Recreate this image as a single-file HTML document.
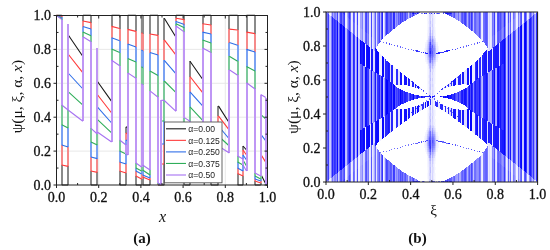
<!DOCTYPE html>
<html><head><meta charset="utf-8"><style>
html,body{margin:0;padding:0;background:#fff;width:550px;height:250px;overflow:hidden}
svg{display:block}
.tk{font-family:"Liberation Serif",serif;font-size:14px;fill:#111;stroke:#111;stroke-width:0.3px}
.it{font-family:"Liberation Serif",serif;font-style:italic;font-size:16px;fill:#111}
.xi{font-family:"Liberation Serif",serif;font-size:15px;fill:#111}
.cap{font-family:"Liberation Serif",serif;font-weight:bold;font-size:15px;fill:#111}
.yl{font-family:"Liberation Serif",serif;font-size:15.5px;fill:#111}
</style></head><body>
<svg width="550" height="250" viewBox="0 0 550 250">
<line x1="98.70" y1="15.5" x2="98.70" y2="185.0" stroke="#e2e2e2" stroke-width="0.8"/>
<line x1="56.5" y1="151.10" x2="267.5" y2="151.10" stroke="#e2e2e2" stroke-width="0.8"/>
<line x1="140.90" y1="15.5" x2="140.90" y2="185.0" stroke="#e2e2e2" stroke-width="0.8"/>
<line x1="56.5" y1="117.20" x2="267.5" y2="117.20" stroke="#e2e2e2" stroke-width="0.8"/>
<line x1="183.10" y1="15.5" x2="183.10" y2="185.0" stroke="#e2e2e2" stroke-width="0.8"/>
<line x1="56.5" y1="83.30" x2="267.5" y2="83.30" stroke="#e2e2e2" stroke-width="0.8"/>
<line x1="225.30" y1="15.5" x2="225.30" y2="185.0" stroke="#e2e2e2" stroke-width="0.8"/>
<line x1="56.5" y1="49.40" x2="267.5" y2="49.40" stroke="#e2e2e2" stroke-width="0.8"/>
<g fill="#8a8a8a" shape-rendering="crispEdges"><rect x="61" y="15.4" width="2" height="169.6"/><rect x="67" y="34.8" width="2" height="150.2"/><rect x="82" y="15.4" width="2" height="41.1"/><rect x="90" y="15.4" width="2" height="169.6"/><rect x="96" y="81.3" width="2" height="103.7"/><rect x="111" y="15.4" width="2" height="86.0"/><rect x="119" y="15.4" width="2" height="169.6"/><rect x="125" y="126.6" width="2" height="58.4"/><rect x="127" y="15.4" width="2" height="112.6"/><rect x="135" y="15.4" width="2" height="169.6"/><rect x="141" y="15.4" width="2" height="169.6"/><rect x="142" y="15.4" width="2" height="169.6"/><rect x="149" y="15.4" width="2" height="169.6"/><rect x="157" y="15.4" width="2" height="169.6"/><rect x="163" y="18.3" width="2" height="166.7"/><rect x="175" y="15.4" width="2" height="21.8"/><rect x="183" y="15.4" width="2" height="169.6"/><rect x="189" y="61.2" width="2" height="123.8"/><rect x="202" y="15.4" width="2" height="63.8"/><rect x="210" y="15.4" width="2" height="169.6"/><rect x="217" y="105.9" width="2" height="79.1"/><rect x="228" y="15.4" width="2" height="107.6"/><rect x="237" y="15.4" width="2" height="169.6"/><rect x="242" y="146.0" width="2" height="39.0"/><rect x="246" y="15.4" width="2" height="134.6"/><rect x="254" y="15.4" width="2" height="169.6"/><rect x="260" y="174.0" width="2" height="11.0"/><rect x="265" y="184.0" width="2" height="1.0"/></g>
<path d="M56.4,15.4 L61.8,15.4 M61.8,185.0 L68.1,185.0 M68.1,34.8 L82.9,56.5 M82.9,15.4 L91.0,15.4 M91.0,185.0 L97.3,185.0 M97.3,81.3 L111.6,101.4 M111.6,15.4 L119.7,15.4 M119.7,185.0 L126.0,185.0 M126.0,126.6 L127.8,128.0 M127.8,15.4 L135.9,15.4 M135.9,185.0 L141.6,185.0 M141.6,15.4 L142.6,15.4 M142.6,185.0 L150.0,185.0 M150.0,15.4 L158.0,15.4 M158.0,185.0 L161.3,185.0 M161.3,185.0 L164.3,185.0 M164.3,18.3 L176.0,37.2 M176.0,15.4 L184.4,15.4 M184.4,185.0 L190.0,185.0 M190.0,61.2 L202.6,79.2 M202.6,15.4 L211.0,15.4 M211.0,185.0 L218.4,185.0 M218.4,105.9 L229.3,123.0 M229.3,15.4 L237.6,15.4 M237.6,185.0 L243.0,185.0 M243.0,146.0 L246.5,150.0 M246.5,15.4 L255.0,15.4 M255.0,185.0 L260.7,185.0 M260.7,174.0 L265.8,184.0 M265.8,185.0 L267.2,185.0" fill="none" stroke="#1a1a1a" stroke-width="1.1"/>
<g fill="#f58a8a" shape-rendering="crispEdges"><rect x="61" y="16.4" width="2" height="148.6"/><rect x="67" y="54.0" width="2" height="112.4"/><rect x="82" y="21.0" width="2" height="51.9"/><rect x="90" y="22.6" width="2" height="148.4"/><rect x="96" y="94.5" width="2" height="77.9"/><rect x="111" y="26.4" width="2" height="86.6"/><rect x="119" y="28.5" width="2" height="142.5"/><rect x="125" y="133.0" width="2" height="40.0"/><rect x="127" y="29.4" width="2" height="104.6"/><rect x="135" y="31.4" width="2" height="144.6"/><rect x="141" y="32.7" width="2" height="146.3"/><rect x="142" y="33.5" width="2" height="143.5"/><rect x="149" y="34.0" width="2" height="146.0"/><rect x="157" y="35.4" width="2" height="149.1"/><rect x="160" y="164.0" width="2" height="20.9"/><rect x="163" y="39.9" width="2" height="124.1"/><rect x="175" y="18.3" width="2" height="36.9"/><rect x="183" y="19.6" width="2" height="148.6"/><rect x="189" y="76.5" width="2" height="92.6"/><rect x="202" y="23.7" width="2" height="69.0"/><rect x="210" y="25.0" width="2" height="148.8"/><rect x="217" y="115.8" width="2" height="59.5"/><rect x="228" y="29.1" width="2" height="101.1"/><rect x="237" y="30.0" width="2" height="143.6"/><rect x="242" y="150.0" width="2" height="26.0"/><rect x="246" y="32.1" width="2" height="122.9"/><rect x="254" y="33.6" width="2" height="147.4"/><rect x="260" y="154.1" width="2" height="28.9"/><rect x="265" y="162.4" width="2" height="22.4"/></g>
<path d="M56.4,15.4 L61.8,16.4 M61.8,165.0 L68.1,166.4 M68.1,54.0 L82.9,72.9 M82.9,21.0 L91.0,22.6 M91.0,171.0 L97.3,172.4 M97.3,94.5 L111.6,113.0 M111.6,26.4 L119.7,28.5 M119.7,171.0 L126.0,173.0 M126.0,133.0 L127.8,134.0 M127.8,29.4 L135.9,31.4 M135.9,176.0 L141.6,179.0 M141.6,32.7 L142.6,33.5 M142.6,177.0 L150.0,180.0 M150.0,34.0 L158.0,35.4 M158.0,184.5 L161.3,184.9 M161.3,164.0 L164.3,164.0 M164.3,39.9 L176.0,55.2 M176.0,18.3 L184.4,19.6 M184.4,168.2 L190.0,169.1 M190.0,76.5 L202.6,92.7 M202.6,23.7 L211.0,25.0 M211.0,173.8 L218.4,175.2 M218.4,115.8 L229.3,130.2 M229.3,29.1 L237.6,30.0 M237.6,173.6 L243.0,176.0 M243.0,150.0 L246.5,155.0 M246.5,32.1 L255.0,33.6 M255.0,181.0 L260.7,183.0 M260.7,154.1 L265.8,162.4 M265.8,184.8 L267.2,184.8" fill="none" stroke="#ff3b3b" stroke-width="1.1"/>
<g fill="#7ba2f2" shape-rendering="crispEdges"><rect x="61" y="17.4" width="2" height="127.5"/><rect x="67" y="73.0" width="2" height="74.0"/><rect x="82" y="26.5" width="2" height="62.5"/><rect x="90" y="29.0" width="2" height="128.0"/><rect x="96" y="106.8" width="2" height="51.8"/><rect x="111" y="37.7" width="2" height="85.3"/><rect x="119" y="40.8" width="2" height="121.2"/><rect x="125" y="140.0" width="2" height="24.0"/><rect x="127" y="44.0" width="2" height="97.0"/><rect x="135" y="47.0" width="2" height="124.0"/><rect x="141" y="49.8" width="2" height="124.2"/><rect x="142" y="51.0" width="2" height="124.0"/><rect x="149" y="52.5" width="2" height="125.5"/><rect x="157" y="55.0" width="2" height="129.0"/><rect x="160" y="144.0" width="2" height="40.8"/><rect x="163" y="60.3" width="2" height="83.7"/><rect x="175" y="21.4" width="2" height="52.4"/><rect x="183" y="24.6" width="2" height="126.7"/><rect x="189" y="91.8" width="2" height="61.3"/><rect x="202" y="32.1" width="2" height="73.8"/><rect x="210" y="34.0" width="2" height="128.5"/><rect x="217" y="126.0" width="2" height="39.5"/><rect x="228" y="42.6" width="2" height="96.4"/><rect x="237" y="45.3" width="2" height="122.7"/><rect x="242" y="155.0" width="2" height="16.0"/><rect x="246" y="49.4" width="2" height="110.6"/><rect x="254" y="52.0" width="2" height="127.0"/><rect x="260" y="134.2" width="2" height="46.8"/><rect x="265" y="140.8" width="2" height="43.8"/></g>
<path d="M56.4,15.4 L61.8,17.4 M61.8,145.0 L68.1,147.0 M68.1,73.0 L82.9,89.0 M82.9,26.5 L91.0,29.0 M91.0,157.0 L97.3,158.6 M97.3,106.8 L111.6,123.0 M111.6,37.7 L119.7,40.8 M119.7,162.0 L126.0,164.0 M126.0,140.0 L127.8,141.0 M127.8,44.0 L135.9,47.0 M135.9,171.0 L141.6,174.0 M141.6,49.8 L142.6,51.0 M142.6,175.0 L150.0,178.0 M150.0,52.5 L158.0,55.0 M158.0,184.0 L161.3,184.8 M161.3,144.0 L164.3,144.0 M164.3,60.3 L176.0,73.8 M176.0,21.4 L184.4,24.6 M184.4,151.3 L190.0,153.1 M190.0,91.8 L202.6,105.9 M202.6,32.1 L211.0,34.0 M211.0,162.5 L218.4,165.5 M218.4,126.0 L229.3,139.0 M229.3,42.6 L237.6,45.3 M237.6,168.0 L243.0,171.0 M243.0,155.0 L246.5,160.0 M246.5,49.4 L255.0,52.0 M255.0,179.0 L260.7,181.0 M260.7,134.2 L265.8,140.8 M265.8,184.5 L267.2,184.5" fill="none" stroke="#2f6fe8" stroke-width="1.1"/>
<g fill="#7cc99a" shape-rendering="crispEdges"><rect x="61" y="18.5" width="2" height="106.3"/><rect x="67" y="91.6" width="2" height="36.4"/><rect x="82" y="32.0" width="2" height="73.2"/><rect x="90" y="35.8" width="2" height="106.2"/><rect x="96" y="119.4" width="2" height="25.6"/><rect x="111" y="48.9" width="2" height="84.0"/><rect x="119" y="52.5" width="2" height="98.5"/><rect x="125" y="147.0" width="2" height="7.0"/><rect x="127" y="58.5" width="2" height="89.5"/><rect x="135" y="62.0" width="2" height="106.0"/><rect x="141" y="66.6" width="2" height="104.4"/><rect x="142" y="68.0" width="2" height="102.0"/><rect x="149" y="71.0" width="2" height="104.0"/><rect x="157" y="75.6" width="2" height="107.9"/><rect x="160" y="121.0" width="2" height="63.6"/><rect x="163" y="81.0" width="2" height="40.0"/><rect x="175" y="23.7" width="2" height="69.0"/><rect x="183" y="27.8" width="2" height="106.6"/><rect x="189" y="106.8" width="2" height="30.4"/><rect x="202" y="39.9" width="2" height="80.4"/><rect x="210" y="43.0" width="2" height="108.2"/><rect x="217" y="136.0" width="2" height="19.8"/><rect x="228" y="56.2" width="2" height="89.8"/><rect x="237" y="61.2" width="2" height="100.8"/><rect x="242" y="160.0" width="2" height="5.0"/><rect x="246" y="66.6" width="2" height="99.4"/><rect x="254" y="71.0" width="2" height="105.0"/><rect x="260" y="114.4" width="2" height="64.6"/><rect x="265" y="119.1" width="2" height="65.1"/></g>
<path d="M56.4,15.4 L61.8,18.5 M61.8,124.8 L68.1,128.0 M68.1,91.6 L82.9,105.2 M82.9,32.0 L91.0,35.8 M91.0,142.0 L97.3,145.0 M97.3,119.4 L111.6,132.9 M111.6,48.9 L119.7,52.5 M119.7,151.0 L126.0,154.0 M126.0,147.0 L127.8,148.0 M127.8,58.5 L135.9,62.0 M135.9,168.0 L141.6,171.0 M141.6,66.6 L142.6,68.0 M142.6,170.0 L150.0,175.0 M150.0,71.0 L158.0,75.6 M158.0,183.5 L161.3,184.6 M161.3,121.0 L164.3,121.0 M164.3,81.0 L176.0,92.7 M176.0,23.7 L184.4,27.8 M184.4,134.4 L190.0,137.2 M190.0,106.8 L202.6,120.3 M202.6,39.9 L211.0,43.0 M211.0,151.2 L218.4,155.8 M218.4,136.0 L229.3,146.0 M229.3,56.2 L237.6,61.2 M237.6,162.0 L243.0,165.0 M243.0,160.0 L246.5,166.0 M246.5,66.6 L255.0,71.0 M255.0,176.0 L260.7,179.0 M260.7,114.4 L265.8,119.1 M265.8,184.2 L267.2,184.2" fill="none" stroke="#2fae5a" stroke-width="1.1"/>
<g fill="#bf96f5" shape-rendering="crispEdges"><rect x="61" y="19.5" width="2" height="85.5"/><rect x="82" y="36.7" width="2" height="84.5"/><rect x="90" y="41.8" width="2" height="86.6"/><rect x="96" y="132.0" width="2" height="2.0"/><rect x="111" y="60.3" width="2" height="81.7"/><rect x="119" y="65.7" width="2" height="74.3"/><rect x="125" y="145.0" width="2" height="9.0"/><rect x="127" y="72.9" width="2" height="82.1"/><rect x="135" y="78.3" width="2" height="84.7"/><rect x="141" y="83.7" width="2" height="83.3"/><rect x="142" y="85.0" width="2" height="80.0"/><rect x="149" y="90.9" width="2" height="79.1"/><rect x="157" y="97.2" width="2" height="85.8"/><rect x="160" y="100.2" width="2" height="84.3"/><rect x="175" y="26.0" width="2" height="85.3"/><rect x="183" y="32.1" width="2" height="85.5"/><rect x="189" y="121.2" width="2" height="0.8"/><rect x="202" y="48.0" width="2" height="87.0"/><rect x="210" y="52.5" width="2" height="87.5"/><rect x="228" y="69.8" width="2" height="83.2"/><rect x="237" y="75.2" width="2" height="80.8"/><rect x="242" y="159.0" width="2" height="6.0"/><rect x="246" y="82.8" width="2" height="88.2"/><rect x="254" y="89.0" width="2" height="84.0"/><rect x="260" y="94.5" width="2" height="81.5"/><rect x="265" y="97.5" width="2" height="86.5"/><rect x="67" y="24.2" width="2" height="85.8"/><rect x="96" y="48.0" width="2" height="84.0"/></g>
<path d="M56.4,15.4 L61.8,19.5 M61.8,105.0 L68.1,110.0 M68.1,110.0 L82.9,121.2 M82.9,36.7 L91.0,41.8 M91.0,128.4 L97.3,134.0 M97.3,132.0 L111.6,142.0 M111.6,60.3 L119.7,65.7 M119.7,140.0 L126.0,145.0 M126.0,154.0 L127.8,155.0 M127.8,72.9 L135.9,78.3 M135.9,163.0 L141.6,167.0 M141.6,83.7 L142.6,85.0 M142.6,165.0 L150.0,170.0 M150.0,90.9 L158.0,97.2 M158.0,183.0 L161.3,184.5 M161.3,100.2 L164.3,100.4 M164.3,100.5 L176.0,111.3 M176.0,26.0 L184.4,32.1 M184.4,117.6 L190.0,121.2 M190.0,122.0 L202.6,135.0 M202.6,48.0 L211.0,52.5 M211.0,140.0 L218.4,146.0 M218.4,146.0 L229.3,153.0 M229.3,69.8 L237.6,75.2 M237.6,156.0 L243.0,159.0 M243.0,165.0 L246.5,171.0 M246.5,82.8 L255.0,89.0 M255.0,173.0 L260.7,176.0 M260.7,94.5 L265.8,97.5 M265.8,184.0 L267.2,184.0" fill="none" stroke="#a772f2" stroke-width="1.1"/>
<rect x="164.5" y="122" width="57.5" height="60.8" fill="#fff" stroke="#555" stroke-width="0.9"/>
<line x1="166" y1="128.80" x2="186" y2="128.80" stroke="#1a1a1a" stroke-width="1.1"/>
<text x="188.3" y="132.00" font-family="Liberation Sans, sans-serif" font-size="8.6" fill="#222">α=0.00</text>
<line x1="166" y1="140.35" x2="186" y2="140.35" stroke="#ff3b3b" stroke-width="1.1"/>
<text x="188.3" y="143.55" font-family="Liberation Sans, sans-serif" font-size="8.6" fill="#222">α=0.125</text>
<line x1="166" y1="151.90" x2="186" y2="151.90" stroke="#2f6fe8" stroke-width="1.1"/>
<text x="188.3" y="155.10" font-family="Liberation Sans, sans-serif" font-size="8.6" fill="#222">α=0.250</text>
<line x1="166" y1="163.45" x2="186" y2="163.45" stroke="#2fae5a" stroke-width="1.1"/>
<text x="188.3" y="166.65" font-family="Liberation Sans, sans-serif" font-size="8.6" fill="#222">α=0.375</text>
<line x1="166" y1="175.00" x2="186" y2="175.00" stroke="#a772f2" stroke-width="1.1"/>
<text x="188.3" y="178.20" font-family="Liberation Sans, sans-serif" font-size="8.6" fill="#222">α=0.50</text>
<rect x="56.5" y="15.5" width="211.0" height="169.5" fill="none" stroke="#222" stroke-width="1"/>
<line x1="56.50" y1="185.0" x2="56.50" y2="188.0" stroke="#222" stroke-width="1"/>
<line x1="53.5" y1="185.00" x2="56.5" y2="185.00" stroke="#222" stroke-width="1"/>
<line x1="56.50" y1="15.5" x2="56.50" y2="18.5" stroke="#222" stroke-width="1"/>
<line x1="264.5" y1="185.00" x2="267.5" y2="185.00" stroke="#222" stroke-width="1"/>
<line x1="77.60" y1="185.0" x2="77.60" y2="183.0" stroke="#222" stroke-width="1"/>
<line x1="56.5" y1="168.05" x2="58.5" y2="168.05" stroke="#222" stroke-width="1"/>
<line x1="77.60" y1="15.5" x2="77.60" y2="17.5" stroke="#222" stroke-width="1"/>
<line x1="265.5" y1="168.05" x2="267.5" y2="168.05" stroke="#222" stroke-width="1"/>
<line x1="98.70" y1="185.0" x2="98.70" y2="188.0" stroke="#222" stroke-width="1"/>
<line x1="53.5" y1="151.10" x2="56.5" y2="151.10" stroke="#222" stroke-width="1"/>
<line x1="98.70" y1="15.5" x2="98.70" y2="18.5" stroke="#222" stroke-width="1"/>
<line x1="264.5" y1="151.10" x2="267.5" y2="151.10" stroke="#222" stroke-width="1"/>
<line x1="119.80" y1="185.0" x2="119.80" y2="183.0" stroke="#222" stroke-width="1"/>
<line x1="56.5" y1="134.15" x2="58.5" y2="134.15" stroke="#222" stroke-width="1"/>
<line x1="119.80" y1="15.5" x2="119.80" y2="17.5" stroke="#222" stroke-width="1"/>
<line x1="265.5" y1="134.15" x2="267.5" y2="134.15" stroke="#222" stroke-width="1"/>
<line x1="140.90" y1="185.0" x2="140.90" y2="188.0" stroke="#222" stroke-width="1"/>
<line x1="53.5" y1="117.20" x2="56.5" y2="117.20" stroke="#222" stroke-width="1"/>
<line x1="140.90" y1="15.5" x2="140.90" y2="18.5" stroke="#222" stroke-width="1"/>
<line x1="264.5" y1="117.20" x2="267.5" y2="117.20" stroke="#222" stroke-width="1"/>
<line x1="162.00" y1="185.0" x2="162.00" y2="183.0" stroke="#222" stroke-width="1"/>
<line x1="56.5" y1="100.25" x2="58.5" y2="100.25" stroke="#222" stroke-width="1"/>
<line x1="162.00" y1="15.5" x2="162.00" y2="17.5" stroke="#222" stroke-width="1"/>
<line x1="265.5" y1="100.25" x2="267.5" y2="100.25" stroke="#222" stroke-width="1"/>
<line x1="183.10" y1="185.0" x2="183.10" y2="188.0" stroke="#222" stroke-width="1"/>
<line x1="53.5" y1="83.30" x2="56.5" y2="83.30" stroke="#222" stroke-width="1"/>
<line x1="183.10" y1="15.5" x2="183.10" y2="18.5" stroke="#222" stroke-width="1"/>
<line x1="264.5" y1="83.30" x2="267.5" y2="83.30" stroke="#222" stroke-width="1"/>
<line x1="204.20" y1="185.0" x2="204.20" y2="183.0" stroke="#222" stroke-width="1"/>
<line x1="56.5" y1="66.35" x2="58.5" y2="66.35" stroke="#222" stroke-width="1"/>
<line x1="204.20" y1="15.5" x2="204.20" y2="17.5" stroke="#222" stroke-width="1"/>
<line x1="265.5" y1="66.35" x2="267.5" y2="66.35" stroke="#222" stroke-width="1"/>
<line x1="225.30" y1="185.0" x2="225.30" y2="188.0" stroke="#222" stroke-width="1"/>
<line x1="53.5" y1="49.40" x2="56.5" y2="49.40" stroke="#222" stroke-width="1"/>
<line x1="225.30" y1="15.5" x2="225.30" y2="18.5" stroke="#222" stroke-width="1"/>
<line x1="264.5" y1="49.40" x2="267.5" y2="49.40" stroke="#222" stroke-width="1"/>
<line x1="246.40" y1="185.0" x2="246.40" y2="183.0" stroke="#222" stroke-width="1"/>
<line x1="56.5" y1="32.45" x2="58.5" y2="32.45" stroke="#222" stroke-width="1"/>
<line x1="246.40" y1="15.5" x2="246.40" y2="17.5" stroke="#222" stroke-width="1"/>
<line x1="265.5" y1="32.45" x2="267.5" y2="32.45" stroke="#222" stroke-width="1"/>
<line x1="267.50" y1="185.0" x2="267.50" y2="188.0" stroke="#222" stroke-width="1"/>
<line x1="53.5" y1="15.50" x2="56.5" y2="15.50" stroke="#222" stroke-width="1"/>
<line x1="267.50" y1="15.5" x2="267.50" y2="18.5" stroke="#222" stroke-width="1"/>
<line x1="264.5" y1="15.50" x2="267.5" y2="15.50" stroke="#222" stroke-width="1"/>
<text x="56.50" y="202" text-anchor="middle" class="tk">0.0</text>
<text x="51" y="189.80" text-anchor="end" class="tk">0.0</text>
<text x="98.70" y="202" text-anchor="middle" class="tk">0.2</text>
<text x="51" y="155.90" text-anchor="end" class="tk">0.2</text>
<text x="140.90" y="202" text-anchor="middle" class="tk">0.4</text>
<text x="51" y="122.00" text-anchor="end" class="tk">0.4</text>
<text x="183.10" y="202" text-anchor="middle" class="tk">0.6</text>
<text x="51" y="88.10" text-anchor="end" class="tk">0.6</text>
<text x="225.30" y="202" text-anchor="middle" class="tk">0.8</text>
<text x="51" y="54.20" text-anchor="end" class="tk">0.8</text>
<text x="267.50" y="202" text-anchor="middle" class="tk">1.0</text>
<text x="51" y="20.30" text-anchor="end" class="tk">1.0</text>
<text x="162.5" y="221.5" text-anchor="middle" class="it">x</text>
<text x="142" y="243" text-anchor="middle" class="cap">(a)</text>
<text transform="translate(22,96.6) rotate(-90)" text-anchor="middle" class="yl">ψ(μ, ξ, α, <tspan font-style="italic">x</tspan>)</text>
<g fill="#0000ff" shape-rendering="crispEdges"><rect x="326.0" y="12.00" width="1" height="0.40" fill-opacity="0.31"/><rect x="326.0" y="12.40" width="1" height="84.60" fill-opacity="0.64"/><rect x="326.0" y="181.60" width="1" height="0.40" fill-opacity="0.28"/><rect x="326.0" y="97.00" width="1" height="84.60" fill-opacity="0.64"/><rect x="327.0" y="12.00" width="1" height="1.21" fill-opacity="0.26"/><rect x="327.0" y="13.21" width="1" height="83.79" fill-opacity="0.58"/><rect x="327.0" y="180.79" width="1" height="1.21" fill-opacity="0.23"/><rect x="327.0" y="97.00" width="1" height="83.79" fill-opacity="0.58"/><rect x="328.0" y="12.00" width="1" height="2.01" fill-opacity="0.51"/><rect x="328.0" y="14.01" width="1" height="82.99" fill-opacity="0.76"/><rect x="328.0" y="179.99" width="1" height="2.01" fill-opacity="0.47"/><rect x="328.0" y="97.00" width="1" height="82.99" fill-opacity="0.76"/><rect x="329.0" y="12.00" width="1" height="2.81" fill-opacity="0.05"/><rect x="329.0" y="14.81" width="1" height="82.19" fill-opacity="0.25"/><rect x="329.0" y="179.19" width="1" height="2.81" fill-opacity="0.05"/><rect x="329.0" y="97.00" width="1" height="82.19" fill-opacity="0.25"/><rect x="330.0" y="12.00" width="1" height="3.62" fill-opacity="0.04"/><rect x="330.0" y="15.62" width="1" height="81.38" fill-opacity="0.20"/><rect x="330.0" y="178.38" width="1" height="3.62" fill-opacity="0.04"/><rect x="330.0" y="97.00" width="1" height="81.38" fill-opacity="0.20"/><rect x="331.0" y="12.00" width="1" height="4.42" fill-opacity="0.25"/><rect x="331.0" y="16.42" width="1" height="80.58" fill-opacity="0.51"/><rect x="331.0" y="177.58" width="1" height="4.42" fill-opacity="0.23"/><rect x="331.0" y="97.00" width="1" height="80.58" fill-opacity="0.51"/><rect x="332.0" y="12.00" width="1" height="5.22" fill-opacity="0.56"/><rect x="332.0" y="17.22" width="1" height="79.78" fill-opacity="0.86"/><rect x="332.0" y="176.78" width="1" height="5.22" fill-opacity="0.52"/><rect x="332.0" y="97.00" width="1" height="79.78" fill-opacity="0.86"/><rect x="333.0" y="12.00" width="1" height="6.03" fill-opacity="0.34"/><rect x="333.0" y="18.03" width="1" height="78.97" fill-opacity="0.68"/><rect x="333.0" y="175.97" width="1" height="6.03" fill-opacity="0.31"/><rect x="333.0" y="97.00" width="1" height="78.97" fill-opacity="0.68"/><rect x="334.0" y="12.00" width="1" height="6.83" fill-opacity="0.51"/><rect x="334.0" y="18.83" width="1" height="78.17" fill-opacity="0.82"/><rect x="334.0" y="175.17" width="1" height="6.83" fill-opacity="0.47"/><rect x="334.0" y="97.00" width="1" height="78.17" fill-opacity="0.82"/><rect x="335.0" y="12.00" width="1" height="7.63" fill-opacity="0.51"/><rect x="335.0" y="19.63" width="1" height="77.37" fill-opacity="0.77"/><rect x="335.0" y="174.37" width="1" height="7.63" fill-opacity="0.47"/><rect x="335.0" y="97.00" width="1" height="77.37" fill-opacity="0.77"/><rect x="336.0" y="12.00" width="1" height="8.44" fill-opacity="0.38"/><rect x="336.0" y="20.44" width="1" height="76.56" fill-opacity="0.64"/><rect x="336.0" y="173.56" width="1" height="8.44" fill-opacity="0.35"/><rect x="336.0" y="97.00" width="1" height="76.56" fill-opacity="0.64"/><rect x="337.0" y="12.00" width="1" height="9.24" fill-opacity="0.74"/><rect x="337.0" y="21.24" width="1" height="75.76" fill-opacity="0.97"/><rect x="337.0" y="172.76" width="1" height="9.24" fill-opacity="0.68"/><rect x="337.0" y="97.00" width="1" height="75.76" fill-opacity="0.97"/><rect x="338.0" y="12.00" width="1" height="10.04" fill-opacity="0.17"/><rect x="338.0" y="22.04" width="1" height="74.96" fill-opacity="0.41"/><rect x="338.0" y="171.96" width="1" height="10.04" fill-opacity="0.15"/><rect x="338.0" y="97.00" width="1" height="74.96" fill-opacity="0.41"/><rect x="339.0" y="12.00" width="1" height="10.85" fill-opacity="0.38"/><rect x="339.0" y="22.85" width="1" height="74.15" fill-opacity="0.65"/><rect x="339.0" y="171.15" width="1" height="10.85" fill-opacity="0.35"/><rect x="339.0" y="97.00" width="1" height="74.15" fill-opacity="0.65"/><rect x="340.0" y="12.00" width="1" height="11.65" fill-opacity="0.72"/><rect x="340.0" y="23.65" width="1" height="73.35" fill-opacity="1.00"/><rect x="340.0" y="170.35" width="1" height="11.65" fill-opacity="0.66"/><rect x="340.0" y="97.00" width="1" height="73.35" fill-opacity="1.00"/><rect x="341.0" y="12.00" width="1" height="0.45" fill-opacity="0.81"/><rect x="341.0" y="12.45" width="1" height="12.00" fill-opacity="0.75"/><rect x="341.0" y="24.45" width="1" height="72.55" fill-opacity="0.98"/><rect x="341.0" y="181.55" width="1" height="0.45" fill-opacity="0.75"/><rect x="341.0" y="169.55" width="1" height="12.00" fill-opacity="0.69"/><rect x="341.0" y="97.00" width="1" height="72.55" fill-opacity="0.98"/><rect x="342.0" y="12.00" width="1" height="1.26" fill-opacity="0.58"/><rect x="342.0" y="13.26" width="1" height="12.00" fill-opacity="0.53"/><rect x="342.0" y="25.26" width="1" height="71.74" fill-opacity="0.80"/><rect x="342.0" y="180.74" width="1" height="1.26" fill-opacity="0.53"/><rect x="342.0" y="168.74" width="1" height="12.00" fill-opacity="0.49"/><rect x="342.0" y="97.00" width="1" height="71.74" fill-opacity="0.80"/><rect x="343.0" y="12.00" width="1" height="2.06" fill-opacity="0.74"/><rect x="343.0" y="14.06" width="1" height="12.00" fill-opacity="0.68"/><rect x="343.0" y="26.06" width="1" height="70.94" fill-opacity="0.98"/><rect x="343.0" y="179.94" width="1" height="2.06" fill-opacity="0.68"/><rect x="343.0" y="167.94" width="1" height="12.00" fill-opacity="0.62"/><rect x="343.0" y="97.00" width="1" height="70.94" fill-opacity="0.98"/><rect x="344.0" y="12.00" width="1" height="2.86" fill-opacity="0.83"/><rect x="344.0" y="14.86" width="1" height="12.00" fill-opacity="0.77"/><rect x="344.0" y="26.86" width="1" height="70.14" fill-opacity="0.97"/><rect x="344.0" y="179.14" width="1" height="2.86" fill-opacity="0.77"/><rect x="344.0" y="167.14" width="1" height="12.00" fill-opacity="0.70"/><rect x="344.0" y="97.00" width="1" height="70.14" fill-opacity="0.97"/><rect x="345.0" y="12.00" width="1" height="3.67" fill-opacity="0.08"/><rect x="345.0" y="15.67" width="1" height="12.00" fill-opacity="0.07"/><rect x="345.0" y="27.67" width="1" height="69.33" fill-opacity="0.27"/><rect x="345.0" y="178.33" width="1" height="3.67" fill-opacity="0.07"/><rect x="345.0" y="166.33" width="1" height="12.00" fill-opacity="0.07"/><rect x="345.0" y="97.00" width="1" height="69.33" fill-opacity="0.27"/><rect x="346.0" y="12.00" width="1" height="4.47" fill-opacity="0.05"/><rect x="346.0" y="16.47" width="1" height="12.00" fill-opacity="0.05"/><rect x="346.0" y="28.47" width="1" height="68.53" fill-opacity="0.24"/><rect x="346.0" y="177.53" width="1" height="4.47" fill-opacity="0.05"/><rect x="346.0" y="165.53" width="1" height="12.00" fill-opacity="0.04"/><rect x="346.0" y="97.00" width="1" height="68.53" fill-opacity="0.24"/><rect x="347.0" y="12.00" width="1" height="5.27" fill-opacity="0.36"/><rect x="347.0" y="17.27" width="1" height="12.00" fill-opacity="0.33"/><rect x="347.0" y="29.27" width="1" height="67.73" fill-opacity="0.61"/><rect x="347.0" y="176.73" width="1" height="5.27" fill-opacity="0.33"/><rect x="347.0" y="164.73" width="1" height="12.00" fill-opacity="0.30"/><rect x="347.0" y="97.00" width="1" height="67.73" fill-opacity="0.61"/><rect x="348.0" y="12.00" width="1" height="6.08" fill-opacity="0.58"/><rect x="348.0" y="18.08" width="1" height="12.00" fill-opacity="0.53"/><rect x="348.0" y="30.08" width="1" height="66.92" fill-opacity="0.77"/><rect x="348.0" y="175.92" width="1" height="6.08" fill-opacity="0.53"/><rect x="348.0" y="163.92" width="1" height="12.00" fill-opacity="0.49"/><rect x="348.0" y="97.00" width="1" height="66.92" fill-opacity="0.77"/><rect x="349.0" y="12.00" width="1" height="6.88" fill-opacity="0.78"/><rect x="349.0" y="18.88" width="1" height="12.00" fill-opacity="0.72"/><rect x="349.0" y="30.88" width="1" height="66.12" fill-opacity="0.93"/><rect x="349.0" y="175.12" width="1" height="6.88" fill-opacity="0.72"/><rect x="349.0" y="163.12" width="1" height="12.00" fill-opacity="0.66"/><rect x="349.0" y="97.00" width="1" height="66.12" fill-opacity="0.93"/><rect x="350.0" y="12.00" width="1" height="7.68" fill-opacity="0.59"/><rect x="350.0" y="19.68" width="1" height="12.00" fill-opacity="0.55"/><rect x="350.0" y="31.68" width="1" height="65.32" fill-opacity="0.84"/><rect x="350.0" y="174.32" width="1" height="7.68" fill-opacity="0.55"/><rect x="350.0" y="162.32" width="1" height="12.00" fill-opacity="0.50"/><rect x="350.0" y="97.00" width="1" height="65.32" fill-opacity="0.84"/><rect x="351.0" y="12.00" width="1" height="8.49" fill-opacity="0.07"/><rect x="351.0" y="20.49" width="1" height="12.00" fill-opacity="0.06"/><rect x="351.0" y="32.49" width="1" height="64.51" fill-opacity="0.29"/><rect x="351.0" y="173.51" width="1" height="8.49" fill-opacity="0.06"/><rect x="351.0" y="161.51" width="1" height="12.00" fill-opacity="0.06"/><rect x="351.0" y="97.00" width="1" height="64.51" fill-opacity="0.29"/><rect x="352.0" y="12.00" width="1" height="9.29" fill-opacity="0.10"/><rect x="352.0" y="21.29" width="1" height="12.00" fill-opacity="0.09"/><rect x="352.0" y="33.29" width="1" height="63.71" fill-opacity="0.31"/><rect x="352.0" y="172.71" width="1" height="9.29" fill-opacity="0.09"/><rect x="352.0" y="160.71" width="1" height="12.00" fill-opacity="0.09"/><rect x="352.0" y="97.00" width="1" height="63.71" fill-opacity="0.31"/><rect x="353.0" y="12.00" width="1" height="10.09" fill-opacity="0.66"/><rect x="353.0" y="22.09" width="1" height="12.00" fill-opacity="0.61"/><rect x="353.0" y="34.09" width="1" height="62.91" fill-opacity="0.84"/><rect x="353.0" y="171.91" width="1" height="10.09" fill-opacity="0.61"/><rect x="353.0" y="159.91" width="1" height="12.00" fill-opacity="0.56"/><rect x="353.0" y="97.00" width="1" height="62.91" fill-opacity="0.84"/><rect x="354.0" y="12.00" width="1" height="10.90" fill-opacity="0.58"/><rect x="354.0" y="22.90" width="1" height="12.00" fill-opacity="0.53"/><rect x="354.0" y="34.90" width="1" height="62.10" fill-opacity="0.77"/><rect x="354.0" y="171.10" width="1" height="10.90" fill-opacity="0.53"/><rect x="354.0" y="159.10" width="1" height="12.00" fill-opacity="0.49"/><rect x="354.0" y="97.00" width="1" height="62.10" fill-opacity="0.77"/><rect x="355.0" y="12.00" width="1" height="11.70" fill-opacity="0.05"/><rect x="355.0" y="23.70" width="1" height="12.00" fill-opacity="0.05"/><rect x="355.0" y="35.70" width="1" height="61.30" fill-opacity="0.21"/><rect x="355.0" y="170.30" width="1" height="11.70" fill-opacity="0.05"/><rect x="355.0" y="158.30" width="1" height="12.00" fill-opacity="0.05"/><rect x="355.0" y="97.00" width="1" height="61.30" fill-opacity="0.21"/><rect x="356.0" y="12.00" width="1" height="12.50" fill-opacity="0.17"/><rect x="356.0" y="24.50" width="1" height="12.00" fill-opacity="0.16"/><rect x="356.0" y="36.50" width="1" height="60.50" fill-opacity="0.41"/><rect x="356.0" y="169.50" width="1" height="12.50" fill-opacity="0.16"/><rect x="356.0" y="157.50" width="1" height="12.00" fill-opacity="0.15"/><rect x="356.0" y="97.00" width="1" height="60.50" fill-opacity="0.41"/><rect x="357.0" y="12.00" width="1" height="13.31" fill-opacity="0.75"/><rect x="357.0" y="25.31" width="1" height="12.00" fill-opacity="0.69"/><rect x="357.0" y="37.31" width="1" height="59.69" fill-opacity="0.98"/><rect x="357.0" y="168.69" width="1" height="13.31" fill-opacity="0.69"/><rect x="357.0" y="156.69" width="1" height="12.00" fill-opacity="0.64"/><rect x="357.0" y="97.00" width="1" height="59.69" fill-opacity="0.98"/><rect x="358.0" y="12.00" width="1" height="14.11" fill-opacity="0.06"/><rect x="358.0" y="26.11" width="1" height="12.00" fill-opacity="0.05"/><rect x="358.0" y="38.11" width="1" height="58.89" fill-opacity="0.22"/><rect x="358.0" y="167.89" width="1" height="14.11" fill-opacity="0.05"/><rect x="358.0" y="155.89" width="1" height="12.00" fill-opacity="0.05"/><rect x="358.0" y="97.00" width="1" height="58.89" fill-opacity="0.22"/><rect x="359.0" y="12.00" width="1" height="14.91" fill-opacity="0.05"/><rect x="359.0" y="26.91" width="1" height="12.00" fill-opacity="0.05"/><rect x="359.0" y="38.91" width="1" height="58.09" fill-opacity="0.23"/><rect x="359.0" y="167.09" width="1" height="14.91" fill-opacity="0.05"/><rect x="359.0" y="155.09" width="1" height="12.00" fill-opacity="0.04"/><rect x="359.0" y="97.00" width="1" height="58.09" fill-opacity="0.23"/><rect x="360.0" y="12.00" width="1" height="15.72" fill-opacity="0.36"/><rect x="360.0" y="27.72" width="1" height="12.00" fill-opacity="0.33"/><rect x="360.0" y="39.72" width="1" height="24.07" fill-opacity="0.96"/><rect x="360.0" y="63.79" width="1" height="33.21" fill-opacity="0.59"/><rect x="360.0" y="166.28" width="1" height="15.72" fill-opacity="0.33"/><rect x="360.0" y="154.28" width="1" height="12.00" fill-opacity="0.30"/><rect x="360.0" y="130.21" width="1" height="24.07" fill-opacity="0.96"/><rect x="360.0" y="97.00" width="1" height="33.21" fill-opacity="0.59"/><rect x="361.0" y="12.00" width="1" height="16.52" fill-opacity="0.35"/><rect x="361.0" y="28.52" width="1" height="12.00" fill-opacity="0.32"/><rect x="361.0" y="40.52" width="1" height="23.84" fill-opacity="0.90"/><rect x="361.0" y="64.36" width="1" height="32.64" fill-opacity="0.63"/><rect x="361.0" y="165.48" width="1" height="16.52" fill-opacity="0.32"/><rect x="361.0" y="153.48" width="1" height="12.00" fill-opacity="0.30"/><rect x="361.0" y="129.64" width="1" height="23.84" fill-opacity="0.90"/><rect x="361.0" y="97.00" width="1" height="32.64" fill-opacity="0.63"/><rect x="362.0" y="12.00" width="1" height="17.32" fill-opacity="0.51"/><rect x="362.0" y="29.32" width="1" height="12.00" fill-opacity="0.47"/><rect x="362.0" y="41.32" width="1" height="23.61" fill-opacity="0.90"/><rect x="362.0" y="64.94" width="1" height="32.06" fill-opacity="0.80"/><rect x="362.0" y="164.68" width="1" height="17.32" fill-opacity="0.47"/><rect x="362.0" y="152.68" width="1" height="12.00" fill-opacity="0.43"/><rect x="362.0" y="129.06" width="1" height="23.61" fill-opacity="0.90"/><rect x="362.0" y="97.00" width="1" height="32.06" fill-opacity="0.80"/><rect x="363.0" y="12.00" width="1" height="18.13" fill-opacity="0.16"/><rect x="363.0" y="30.13" width="1" height="12.00" fill-opacity="0.15"/><rect x="363.0" y="42.13" width="1" height="23.38" fill-opacity="0.96"/><rect x="363.0" y="65.51" width="1" height="31.49" fill-opacity="0.38"/><rect x="363.0" y="163.87" width="1" height="18.13" fill-opacity="0.15"/><rect x="363.0" y="151.87" width="1" height="12.00" fill-opacity="0.14"/><rect x="363.0" y="128.49" width="1" height="23.38" fill-opacity="0.96"/><rect x="363.0" y="97.00" width="1" height="31.49" fill-opacity="0.38"/><rect x="364.0" y="12.00" width="1" height="18.93" fill-opacity="0.19"/><rect x="364.0" y="30.93" width="1" height="12.00" fill-opacity="0.18"/><rect x="364.0" y="42.93" width="1" height="23.16" fill-opacity="0.96"/><rect x="364.0" y="66.09" width="1" height="30.91" fill-opacity="0.40"/><rect x="364.0" y="163.07" width="1" height="18.93" fill-opacity="0.18"/><rect x="364.0" y="151.07" width="1" height="12.00" fill-opacity="0.16"/><rect x="364.0" y="127.91" width="1" height="23.16" fill-opacity="0.96"/><rect x="364.0" y="97.00" width="1" height="30.91" fill-opacity="0.40"/><rect x="365.0" y="12.00" width="1" height="19.73" fill-opacity="0.68"/><rect x="365.0" y="31.73" width="1" height="12.00" fill-opacity="0.62"/><rect x="365.0" y="43.73" width="1" height="22.93" fill-opacity="0.03"/><rect x="365.0" y="66.66" width="1" height="30.34" fill-opacity="0.94"/><rect x="365.0" y="162.27" width="1" height="19.73" fill-opacity="0.62"/><rect x="365.0" y="150.27" width="1" height="12.00" fill-opacity="0.57"/><rect x="365.0" y="127.34" width="1" height="22.93" fill-opacity="0.03"/><rect x="365.0" y="97.00" width="1" height="30.34" fill-opacity="0.94"/><rect x="366.0" y="12.00" width="1" height="20.54" fill-opacity="0.75"/><rect x="366.0" y="32.54" width="1" height="12.00" fill-opacity="0.69"/><rect x="366.0" y="44.54" width="1" height="22.70" fill-opacity="0.90"/><rect x="366.0" y="67.24" width="1" height="29.76" fill-opacity="0.93"/><rect x="366.0" y="161.46" width="1" height="20.54" fill-opacity="0.69"/><rect x="366.0" y="149.46" width="1" height="12.00" fill-opacity="0.64"/><rect x="366.0" y="126.76" width="1" height="22.70" fill-opacity="0.90"/><rect x="366.0" y="97.00" width="1" height="29.76" fill-opacity="0.93"/><rect x="367.0" y="12.00" width="1" height="21.34" fill-opacity="0.47"/><rect x="367.0" y="33.34" width="1" height="12.00" fill-opacity="0.43"/><rect x="367.0" y="45.34" width="1" height="22.47" fill-opacity="0.96"/><rect x="367.0" y="67.81" width="1" height="29.19" fill-opacity="0.78"/><rect x="367.0" y="160.66" width="1" height="21.34" fill-opacity="0.43"/><rect x="367.0" y="148.66" width="1" height="12.00" fill-opacity="0.40"/><rect x="367.0" y="126.19" width="1" height="22.47" fill-opacity="0.96"/><rect x="367.0" y="97.00" width="1" height="29.19" fill-opacity="0.78"/><rect x="368.0" y="12.00" width="1" height="22.14" fill-opacity="0.59"/><rect x="368.0" y="34.14" width="1" height="12.00" fill-opacity="0.54"/><rect x="368.0" y="46.14" width="1" height="22.24" fill-opacity="0.96"/><rect x="368.0" y="68.39" width="1" height="28.61" fill-opacity="0.78"/><rect x="368.0" y="159.86" width="1" height="22.14" fill-opacity="0.54"/><rect x="368.0" y="147.86" width="1" height="12.00" fill-opacity="0.50"/><rect x="368.0" y="125.61" width="1" height="22.24" fill-opacity="0.96"/><rect x="368.0" y="97.00" width="1" height="28.61" fill-opacity="0.78"/><rect x="369.0" y="12.00" width="1" height="22.95" fill-opacity="0.08"/><rect x="369.0" y="34.95" width="1" height="12.00" fill-opacity="0.07"/><rect x="369.0" y="46.95" width="1" height="22.01" fill-opacity="0.96"/><rect x="369.0" y="68.96" width="1" height="28.04" fill-opacity="0.31"/><rect x="369.0" y="159.05" width="1" height="22.95" fill-opacity="0.07"/><rect x="369.0" y="147.05" width="1" height="12.00" fill-opacity="0.07"/><rect x="369.0" y="125.04" width="1" height="22.01" fill-opacity="0.96"/><rect x="369.0" y="97.00" width="1" height="28.04" fill-opacity="0.31"/><rect x="370.0" y="12.00" width="1" height="23.75" fill-opacity="0.10"/><rect x="370.0" y="35.75" width="1" height="12.00" fill-opacity="0.10"/><rect x="370.0" y="47.75" width="1" height="21.79" fill-opacity="0.08"/><rect x="370.0" y="69.54" width="1" height="27.46" fill-opacity="0.34"/><rect x="370.0" y="158.25" width="1" height="23.75" fill-opacity="0.10"/><rect x="370.0" y="146.25" width="1" height="12.00" fill-opacity="0.09"/><rect x="370.0" y="124.46" width="1" height="21.79" fill-opacity="0.08"/><rect x="370.0" y="97.00" width="1" height="27.46" fill-opacity="0.34"/><rect x="371.0" y="12.00" width="1" height="24.55" fill-opacity="0.72"/><rect x="371.0" y="36.55" width="1" height="12.00" fill-opacity="0.66"/><rect x="371.0" y="48.55" width="1" height="21.56" fill-opacity="0.90"/><rect x="371.0" y="70.11" width="1" height="26.89" fill-opacity="0.95"/><rect x="371.0" y="157.45" width="1" height="24.55" fill-opacity="0.66"/><rect x="371.0" y="145.45" width="1" height="12.00" fill-opacity="0.61"/><rect x="371.0" y="123.89" width="1" height="21.56" fill-opacity="0.90"/><rect x="371.0" y="97.00" width="1" height="26.89" fill-opacity="0.95"/><rect x="372.0" y="12.00" width="1" height="25.36" fill-opacity="0.10"/><rect x="372.0" y="37.36" width="1" height="12.00" fill-opacity="0.09"/><rect x="372.0" y="49.36" width="1" height="21.33" fill-opacity="0.90"/><rect x="372.0" y="70.69" width="1" height="26.31" fill-opacity="0.31"/><rect x="372.0" y="156.64" width="1" height="25.36" fill-opacity="0.09"/><rect x="372.0" y="144.64" width="1" height="12.00" fill-opacity="0.08"/><rect x="372.0" y="123.31" width="1" height="21.33" fill-opacity="0.90"/><rect x="372.0" y="97.00" width="1" height="26.31" fill-opacity="0.31"/><rect x="373.0" y="12.00" width="1" height="26.16" fill-opacity="0.18"/><rect x="373.0" y="38.16" width="1" height="12.00" fill-opacity="0.17"/><rect x="373.0" y="50.16" width="1" height="21.11" fill-opacity="0.13"/><rect x="373.0" y="71.28" width="1" height="25.72" fill-opacity="0.40"/><rect x="373.0" y="155.84" width="1" height="26.16" fill-opacity="0.17"/><rect x="373.0" y="143.84" width="1" height="12.00" fill-opacity="0.16"/><rect x="373.0" y="122.72" width="1" height="21.11" fill-opacity="0.13"/><rect x="373.0" y="97.00" width="1" height="25.72" fill-opacity="0.40"/><rect x="374.0" y="12.00" width="1" height="26.97" fill-opacity="0.37"/><rect x="374.0" y="38.97" width="1" height="12.00" fill-opacity="0.34"/><rect x="374.0" y="50.97" width="1" height="20.89" fill-opacity="0.13"/><rect x="374.0" y="71.86" width="1" height="25.14" fill-opacity="0.60"/><rect x="374.0" y="155.03" width="1" height="26.97" fill-opacity="0.34"/><rect x="374.0" y="143.03" width="1" height="12.00" fill-opacity="0.32"/><rect x="374.0" y="122.14" width="1" height="20.89" fill-opacity="0.13"/><rect x="374.0" y="97.00" width="1" height="25.14" fill-opacity="0.60"/><rect x="375.0" y="12.00" width="1" height="36.50" fill-opacity="0.63"/><rect x="375.0" y="48.27" width="1" height="24.17" fill-opacity="0.90"/><rect x="375.0" y="72.44" width="1" height="24.56" fill-opacity="0.90"/><rect x="375.0" y="145.50" width="1" height="36.50" fill-opacity="0.58"/><rect x="375.0" y="121.56" width="1" height="24.17" fill-opacity="0.90"/><rect x="375.0" y="97.00" width="1" height="24.56" fill-opacity="0.90"/><rect x="376.0" y="12.00" width="1" height="35.00" fill-opacity="0.11"/><rect x="376.0" y="49.39" width="1" height="23.63" fill-opacity="0.96"/><rect x="376.0" y="73.02" width="1" height="23.98" fill-opacity="0.34"/><rect x="376.0" y="147.00" width="1" height="35.00" fill-opacity="0.10"/><rect x="376.0" y="120.98" width="1" height="23.63" fill-opacity="0.96"/><rect x="376.0" y="97.00" width="1" height="23.98" fill-opacity="0.34"/><rect x="377.0" y="12.00" width="1" height="33.50" fill-opacity="0.48"/><rect x="377.0" y="50.51" width="1" height="23.10" fill-opacity="0.96"/><rect x="377.0" y="73.61" width="1" height="23.39" fill-opacity="0.77"/><rect x="377.0" y="148.50" width="1" height="33.50" fill-opacity="0.45"/><rect x="377.0" y="120.39" width="1" height="23.10" fill-opacity="0.96"/><rect x="377.0" y="97.00" width="1" height="23.39" fill-opacity="0.77"/><rect x="378.0" y="12.00" width="1" height="32.00" fill-opacity="0.57"/><rect x="378.0" y="51.63" width="1" height="22.56" fill-opacity="0.96"/><rect x="378.0" y="74.19" width="1" height="22.81" fill-opacity="0.81"/><rect x="378.0" y="150.00" width="1" height="32.00" fill-opacity="0.52"/><rect x="378.0" y="119.81" width="1" height="22.56" fill-opacity="0.96"/><rect x="378.0" y="97.00" width="1" height="22.81" fill-opacity="0.81"/><rect x="379.0" y="12.00" width="1" height="30.50" fill-opacity="0.72"/><rect x="379.0" y="52.75" width="1" height="22.02" fill-opacity="0.06"/><rect x="379.0" y="74.77" width="1" height="22.23" fill-opacity="0.89"/><rect x="379.0" y="151.50" width="1" height="30.50" fill-opacity="0.66"/><rect x="379.0" y="119.23" width="1" height="22.17" fill-opacity="0.06"/><rect x="379.0" y="97.00" width="1" height="22.23" fill-opacity="0.89"/><rect x="380.0" y="12.00" width="1" height="29.10" fill-opacity="0.28"/><rect x="380.0" y="53.88" width="1" height="21.48" fill-opacity="0.06"/><rect x="380.0" y="75.36" width="1" height="21.64" fill-opacity="0.53"/><rect x="380.0" y="152.90" width="1" height="29.10" fill-opacity="0.26"/><rect x="380.0" y="118.64" width="1" height="21.96" fill-opacity="0.06"/><rect x="380.0" y="97.00" width="1" height="21.64" fill-opacity="0.53"/><rect x="381.0" y="12.00" width="1" height="28.10" fill-opacity="0.65"/><rect x="381.0" y="55.00" width="1" height="20.94" fill-opacity="0.06"/><rect x="381.0" y="75.94" width="1" height="21.06" fill-opacity="0.87"/><rect x="381.0" y="153.90" width="1" height="28.10" fill-opacity="0.60"/><rect x="381.0" y="118.06" width="1" height="21.74" fill-opacity="0.06"/><rect x="381.0" y="97.00" width="1" height="21.06" fill-opacity="0.87"/><rect x="382.0" y="12.00" width="1" height="27.10" fill-opacity="0.85"/><rect x="382.0" y="56.12" width="1" height="20.52" fill-opacity="0.97"/><rect x="382.0" y="76.64" width="1" height="20.36" fill-opacity="0.98"/><rect x="382.0" y="154.90" width="1" height="27.10" fill-opacity="0.79"/><rect x="382.0" y="117.41" width="1" height="21.59" fill-opacity="0.97"/><rect x="382.0" y="97.00" width="1" height="20.41" fill-opacity="0.98"/><rect x="383.0" y="12.00" width="1" height="26.10" fill-opacity="0.04"/><rect x="383.0" y="57.24" width="1" height="20.11" fill-opacity="0.97"/><rect x="383.0" y="77.35" width="1" height="19.65" fill-opacity="0.20"/><rect x="383.0" y="155.90" width="1" height="26.10" fill-opacity="0.04"/><rect x="383.0" y="116.75" width="1" height="21.45" fill-opacity="0.97"/><rect x="383.0" y="97.00" width="1" height="19.75" fill-opacity="0.20"/><rect x="384.0" y="12.00" width="1" height="25.10" fill-opacity="0.18"/><rect x="384.0" y="58.36" width="1" height="19.69" fill-opacity="0.14"/><rect x="384.0" y="78.06" width="1" height="18.94" fill-opacity="0.37"/><rect x="384.0" y="156.90" width="1" height="25.10" fill-opacity="0.16"/><rect x="384.0" y="116.09" width="1" height="21.31" fill-opacity="0.14"/><rect x="384.0" y="97.00" width="1" height="19.09" fill-opacity="0.37"/><rect x="385.0" y="12.00" width="1" height="24.10" fill-opacity="0.55"/><rect x="385.0" y="59.48" width="1" height="19.28" fill-opacity="0.84"/><rect x="385.0" y="78.76" width="1" height="18.24" fill-opacity="0.84"/><rect x="385.0" y="157.90" width="1" height="24.10" fill-opacity="0.50"/><rect x="385.0" y="115.43" width="1" height="21.17" fill-opacity="0.84"/><rect x="385.0" y="97.00" width="1" height="18.43" fill-opacity="0.84"/><rect x="386.0" y="12.00" width="1" height="23.27" fill-opacity="0.80"/><rect x="386.0" y="60.61" width="1" height="18.87" fill-opacity="0.84"/><rect x="386.0" y="79.47" width="1" height="17.53" fill-opacity="0.99"/><rect x="386.0" y="158.73" width="1" height="23.27" fill-opacity="0.74"/><rect x="386.0" y="114.77" width="1" height="21.03" fill-opacity="0.84"/><rect x="386.0" y="97.00" width="1" height="17.77" fill-opacity="0.99"/><rect x="387.0" y="12.00" width="1" height="22.45" fill-opacity="0.76"/><rect x="387.0" y="61.41" width="1" height="18.77" fill-opacity="0.84"/><rect x="387.0" y="80.18" width="1" height="16.82" fill-opacity="1.00"/><rect x="387.0" y="159.55" width="1" height="22.45" fill-opacity="0.70"/><rect x="387.0" y="114.11" width="1" height="20.89" fill-opacity="0.84"/><rect x="387.0" y="97.00" width="1" height="17.11" fill-opacity="1.00"/><rect x="388.0" y="12.00" width="1" height="21.62" fill-opacity="0.60"/><rect x="388.0" y="62.21" width="1" height="18.68" fill-opacity="0.90"/><rect x="388.0" y="80.89" width="1" height="16.11" fill-opacity="0.85"/><rect x="388.0" y="160.38" width="1" height="21.62" fill-opacity="0.55"/><rect x="388.0" y="113.45" width="1" height="20.75" fill-opacity="0.90"/><rect x="388.0" y="97.00" width="1" height="16.45" fill-opacity="0.85"/><rect x="389.0" y="12.00" width="1" height="20.79" fill-opacity="0.59"/><rect x="389.0" y="63.02" width="1" height="18.58" fill-opacity="0.88"/><rect x="389.0" y="81.60" width="1" height="15.40" fill-opacity="0.84"/><rect x="389.0" y="161.21" width="1" height="20.79" fill-opacity="0.54"/><rect x="389.0" y="112.79" width="1" height="20.61" fill-opacity="0.88"/><rect x="389.0" y="97.00" width="1" height="15.79" fill-opacity="0.84"/><rect x="390.0" y="12.00" width="1" height="19.97" fill-opacity="0.71"/><rect x="390.0" y="63.82" width="1" height="18.49" fill-opacity="0.15"/><rect x="390.0" y="82.31" width="1" height="14.69" fill-opacity="0.87"/><rect x="390.0" y="162.03" width="1" height="19.97" fill-opacity="0.66"/><rect x="390.0" y="112.13" width="1" height="20.47" fill-opacity="0.15"/><rect x="390.0" y="97.00" width="1" height="15.13" fill-opacity="0.87"/><rect x="391.0" y="12.00" width="1" height="19.13" fill-opacity="0.68"/><rect x="391.0" y="64.62" width="1" height="18.40" fill-opacity="0.85"/><rect x="391.0" y="83.02" width="1" height="13.98" fill-opacity="0.94"/><rect x="391.0" y="162.87" width="1" height="19.13" fill-opacity="0.63"/><rect x="391.0" y="111.47" width="1" height="20.33" fill-opacity="0.85"/><rect x="391.0" y="97.00" width="1" height="14.47" fill-opacity="0.94"/><rect x="392.0" y="12.00" width="1" height="18.28" fill-opacity="0.44"/><rect x="392.0" y="65.43" width="1" height="18.30" fill-opacity="0.85"/><rect x="392.0" y="83.73" width="1" height="13.27" fill-opacity="0.67"/><rect x="392.0" y="163.72" width="1" height="18.28" fill-opacity="0.41"/><rect x="392.0" y="110.81" width="1" height="20.19" fill-opacity="0.85"/><rect x="392.0" y="97.00" width="1" height="13.81" fill-opacity="0.67"/><rect x="393.0" y="12.00" width="1" height="17.44" fill-opacity="0.83"/><rect x="393.0" y="66.23" width="1" height="18.21" fill-opacity="0.04"/><rect x="393.0" y="84.44" width="1" height="12.56" fill-opacity="0.96"/><rect x="393.0" y="164.56" width="1" height="17.44" fill-opacity="0.77"/><rect x="393.0" y="110.15" width="1" height="20.05" fill-opacity="0.04"/><rect x="393.0" y="97.00" width="1" height="13.15" fill-opacity="0.96"/><rect x="394.0" y="12.00" width="1" height="16.60" fill-opacity="0.82"/><rect x="394.0" y="67.03" width="1" height="18.11" fill-opacity="0.04"/><rect x="394.0" y="85.15" width="1" height="11.85" fill-opacity="0.98"/><rect x="394.0" y="165.40" width="1" height="16.60" fill-opacity="0.75"/><rect x="394.0" y="109.49" width="1" height="19.91" fill-opacity="0.04"/><rect x="394.0" y="97.00" width="1" height="12.49" fill-opacity="0.98"/><rect x="395.0" y="12.00" width="1" height="15.75" fill-opacity="0.38"/><rect x="395.0" y="67.84" width="1" height="17.16" fill-opacity="0.04"/><rect x="395.0" y="86.28" width="1" height="10.72" fill-opacity="0.65"/><rect x="395.0" y="166.25" width="1" height="15.75" fill-opacity="0.35"/><rect x="395.0" y="108.83" width="1" height="19.80" fill-opacity="0.04"/><rect x="395.0" y="97.00" width="1" height="11.83" fill-opacity="0.65"/><rect x="396.0" y="12.00" width="1" height="14.97" fill-opacity="0.52"/><rect x="396.0" y="68.64" width="1" height="16.10" fill-opacity="0.82"/><rect x="396.0" y="87.09" width="1" height="9.91" fill-opacity="0.76"/><rect x="396.0" y="167.03" width="1" height="14.97" fill-opacity="0.48"/><rect x="396.0" y="109.01" width="1" height="18.89" fill-opacity="0.82"/><rect x="396.0" y="97.00" width="1" height="10.70" fill-opacity="0.76"/><rect x="397.0" y="12.00" width="1" height="14.22" fill-opacity="0.44"/><rect x="397.0" y="69.44" width="1" height="15.20" fill-opacity="0.82"/><rect x="397.0" y="87.75" width="1" height="9.25" fill-opacity="0.70"/><rect x="397.0" y="167.78" width="1" height="14.22" fill-opacity="0.40"/><rect x="397.0" y="109.25" width="1" height="17.92" fill-opacity="0.82"/><rect x="397.0" y="97.00" width="1" height="9.87" fill-opacity="0.70"/><rect x="398.0" y="12.00" width="1" height="13.47" fill-opacity="0.65"/><rect x="398.0" y="70.25" width="1" height="14.37" fill-opacity="0.10"/><rect x="398.0" y="88.33" width="1" height="8.67" fill-opacity="0.83"/><rect x="398.0" y="168.53" width="1" height="13.47" fill-opacity="0.59"/><rect x="398.0" y="109.34" width="1" height="17.09" fill-opacity="0.10"/><rect x="398.0" y="97.00" width="1" height="9.19" fill-opacity="0.83"/><rect x="399.0" y="12.00" width="1" height="12.71" fill-opacity="0.55"/><rect x="399.0" y="71.05" width="1" height="13.58" fill-opacity="0.10"/><rect x="399.0" y="88.87" width="1" height="8.13" fill-opacity="0.75"/><rect x="399.0" y="169.29" width="1" height="12.71" fill-opacity="0.51"/><rect x="399.0" y="109.36" width="1" height="16.34" fill-opacity="0.10"/><rect x="399.0" y="97.00" width="1" height="8.58" fill-opacity="0.75"/><rect x="400.0" y="12.00" width="1" height="11.96" fill-opacity="0.76"/><rect x="400.0" y="71.85" width="1" height="12.82" fill-opacity="0.93"/><rect x="400.0" y="89.38" width="1" height="7.62" fill-opacity="0.99"/><rect x="400.0" y="170.04" width="1" height="11.96" fill-opacity="0.70"/><rect x="400.0" y="109.33" width="1" height="15.64" fill-opacity="0.93"/><rect x="400.0" y="97.00" width="1" height="8.02" fill-opacity="0.99"/><rect x="401.0" y="12.00" width="1" height="11.20" fill-opacity="0.64"/><rect x="401.0" y="72.66" width="1" height="12.09" fill-opacity="0.93"/><rect x="401.0" y="89.86" width="1" height="7.14" fill-opacity="0.88"/><rect x="401.0" y="170.80" width="1" height="11.20" fill-opacity="0.59"/><rect x="401.0" y="109.27" width="1" height="14.96" fill-opacity="0.93"/><rect x="401.0" y="97.00" width="1" height="7.49" fill-opacity="0.88"/><rect x="402.0" y="12.00" width="1" height="10.45" fill-opacity="0.75"/><rect x="402.0" y="73.46" width="1" height="11.38" fill-opacity="0.02"/><rect x="402.0" y="90.32" width="1" height="6.68" fill-opacity="0.91"/><rect x="402.0" y="171.55" width="1" height="10.45" fill-opacity="0.69"/><rect x="402.0" y="109.18" width="1" height="14.32" fill-opacity="0.02"/><rect x="402.0" y="97.00" width="1" height="6.99" fill-opacity="0.91"/><rect x="403.0" y="12.00" width="1" height="9.80" fill-opacity="0.55"/><rect x="403.0" y="74.26" width="1" height="10.70" fill-opacity="0.02"/><rect x="403.0" y="90.76" width="1" height="6.24" fill-opacity="0.74"/><rect x="403.0" y="172.20" width="1" height="9.80" fill-opacity="0.50"/><rect x="403.0" y="109.07" width="1" height="13.70" fill-opacity="0.02"/><rect x="403.0" y="97.00" width="1" height="6.52" fill-opacity="0.74"/><rect x="404.0" y="12.00" width="1" height="9.18" fill-opacity="0.64"/><rect x="404.0" y="75.07" width="1" height="10.03" fill-opacity="0.93"/><rect x="404.0" y="91.18" width="1" height="5.82" fill-opacity="0.87"/><rect x="404.0" y="172.82" width="1" height="9.18" fill-opacity="0.59"/><rect x="404.0" y="108.94" width="1" height="13.10" fill-opacity="0.93"/><rect x="404.0" y="97.00" width="1" height="6.06" fill-opacity="0.87"/><rect x="405.0" y="12.00" width="1" height="8.56" fill-opacity="0.72"/><rect x="405.0" y="75.87" width="1" height="9.38" fill-opacity="0.93"/><rect x="405.0" y="91.59" width="1" height="5.41" fill-opacity="0.88"/><rect x="405.0" y="173.44" width="1" height="8.56" fill-opacity="0.67"/><rect x="405.0" y="108.78" width="1" height="12.52" fill-opacity="0.93"/><rect x="405.0" y="97.00" width="1" height="5.62" fill-opacity="0.88"/><rect x="406.0" y="12.00" width="1" height="7.93" fill-opacity="0.54"/><rect x="406.0" y="76.67" width="1" height="8.74" fill-opacity="0.93"/><rect x="406.0" y="91.97" width="1" height="5.03" fill-opacity="0.82"/><rect x="406.0" y="174.07" width="1" height="7.93" fill-opacity="0.50"/><rect x="406.0" y="108.61" width="1" height="11.95" fill-opacity="0.93"/><rect x="406.0" y="97.00" width="1" height="5.21" fill-opacity="0.82"/><rect x="407.0" y="12.00" width="1" height="7.31" fill-opacity="0.57"/><rect x="407.0" y="77.48" width="1" height="8.12" fill-opacity="0.07"/><rect x="407.0" y="92.34" width="1" height="4.66" fill-opacity="0.79"/><rect x="407.0" y="174.69" width="1" height="7.31" fill-opacity="0.53"/><rect x="407.0" y="108.43" width="1" height="11.41" fill-opacity="0.07"/><rect x="407.0" y="97.00" width="1" height="4.81" fill-opacity="0.79"/><rect x="408.0" y="12.00" width="1" height="6.69" fill-opacity="0.21"/><rect x="408.0" y="78.28" width="1" height="7.52" fill-opacity="0.89"/><rect x="408.0" y="92.70" width="1" height="4.30" fill-opacity="0.49"/><rect x="408.0" y="175.31" width="1" height="6.69" fill-opacity="0.19"/><rect x="408.0" y="108.22" width="1" height="10.88" fill-opacity="0.89"/><rect x="408.0" y="97.00" width="1" height="4.42" fill-opacity="0.49"/><rect x="409.0" y="12.00" width="1" height="6.06" fill-opacity="0.49"/><rect x="409.0" y="79.08" width="1" height="6.94" fill-opacity="0.89"/><rect x="409.0" y="93.04" width="1" height="3.96" fill-opacity="0.75"/><rect x="409.0" y="175.94" width="1" height="6.06" fill-opacity="0.45"/><rect x="409.0" y="108.00" width="1" height="10.37" fill-opacity="0.89"/><rect x="409.0" y="97.00" width="1" height="4.06" fill-opacity="0.75"/><rect x="410.0" y="12.00" width="1" height="5.56" fill-opacity="0.66"/><rect x="410.0" y="79.89" width="1" height="6.37" fill-opacity="0.03"/><rect x="410.0" y="93.36" width="1" height="3.64" fill-opacity="0.87"/><rect x="410.0" y="176.44" width="1" height="5.56" fill-opacity="0.60"/><rect x="410.0" y="107.76" width="1" height="9.87" fill-opacity="0.03"/><rect x="410.0" y="97.00" width="1" height="3.70" fill-opacity="0.87"/><rect x="411.0" y="12.00" width="1" height="5.06" fill-opacity="0.48"/><rect x="411.0" y="80.69" width="1" height="5.81" fill-opacity="0.03"/><rect x="411.0" y="93.67" width="1" height="3.33" fill-opacity="0.79"/><rect x="411.0" y="176.94" width="1" height="5.06" fill-opacity="0.44"/><rect x="411.0" y="107.51" width="1" height="9.39" fill-opacity="0.03"/><rect x="411.0" y="97.00" width="1" height="3.37" fill-opacity="0.79"/><rect x="412.0" y="12.00" width="1" height="4.57" fill-opacity="0.66"/><rect x="412.0" y="81.49" width="1" height="5.27" fill-opacity="0.85"/><rect x="412.0" y="93.96" width="1" height="3.04" fill-opacity="0.83"/><rect x="412.0" y="177.43" width="1" height="4.57" fill-opacity="0.61"/><rect x="412.0" y="107.24" width="1" height="8.93" fill-opacity="0.85"/><rect x="412.0" y="97.00" width="1" height="3.05" fill-opacity="0.83"/><rect x="413.0" y="12.00" width="1" height="4.08" fill-opacity="0.78"/><rect x="413.0" y="82.30" width="1" height="4.74" fill-opacity="0.85"/><rect x="413.0" y="94.24" width="1" height="2.76" fill-opacity="0.99"/><rect x="413.0" y="177.92" width="1" height="4.08" fill-opacity="0.72"/><rect x="413.0" y="106.95" width="1" height="8.48" fill-opacity="0.85"/><rect x="413.0" y="97.00" width="1" height="2.75" fill-opacity="0.99"/><rect x="414.0" y="12.00" width="1" height="3.59" fill-opacity="0.48"/><rect x="414.0" y="83.10" width="1" height="4.23" fill-opacity="0.05"/><rect x="414.0" y="94.50" width="1" height="2.50" fill-opacity="0.74"/><rect x="414.0" y="178.41" width="1" height="3.59" fill-opacity="0.44"/><rect x="414.0" y="106.65" width="1" height="8.05" fill-opacity="0.05"/><rect x="414.0" y="97.00" width="1" height="2.46" fill-opacity="0.74"/><rect x="415.0" y="12.00" width="1" height="3.09" fill-opacity="0.39"/><rect x="415.0" y="83.90" width="1" height="3.74" fill-opacity="0.88"/><rect x="415.0" y="94.75" width="1" height="2.25" fill-opacity="0.69"/><rect x="415.0" y="178.91" width="1" height="3.09" fill-opacity="0.36"/><rect x="415.0" y="106.33" width="1" height="7.64" fill-opacity="0.88"/><rect x="415.0" y="97.00" width="1" height="2.19" fill-opacity="0.69"/><rect x="416.0" y="12.00" width="1" height="2.60" fill-opacity="0.52"/><rect x="416.0" y="84.71" width="1" height="3.26" fill-opacity="0.11"/><rect x="416.0" y="94.98" width="1" height="2.02" fill-opacity="0.82"/><rect x="416.0" y="179.40" width="1" height="2.60" fill-opacity="0.48"/><rect x="416.0" y="106.00" width="1" height="7.29" fill-opacity="0.11"/><rect x="416.0" y="97.00" width="1" height="1.94" fill-opacity="0.82"/><rect x="417.0" y="12.00" width="1" height="2.02" fill-opacity="0.70"/><rect x="417.0" y="85.51" width="1" height="2.79" fill-opacity="0.94"/><rect x="417.0" y="95.20" width="1" height="1.80" fill-opacity="0.93"/><rect x="417.0" y="179.98" width="1" height="2.02" fill-opacity="0.64"/><rect x="417.0" y="105.64" width="1" height="7.02" fill-opacity="0.94"/><rect x="417.0" y="97.00" width="1" height="1.70" fill-opacity="0.93"/><rect x="418.0" y="12.00" width="1" height="1.44" fill-opacity="0.66"/><rect x="418.0" y="86.31" width="1" height="2.34" fill-opacity="0.94"/><rect x="418.0" y="95.40" width="1" height="1.60" fill-opacity="0.87"/><rect x="418.0" y="180.56" width="1" height="1.44" fill-opacity="0.60"/><rect x="418.0" y="105.28" width="1" height="6.77" fill-opacity="0.94"/><rect x="418.0" y="97.00" width="1" height="1.48" fill-opacity="0.87"/><rect x="419.0" y="12.00" width="1" height="0.87" fill-opacity="0.56"/><rect x="419.0" y="87.12" width="1" height="1.91" fill-opacity="0.12"/><rect x="419.0" y="95.58" width="1" height="1.42" fill-opacity="0.78"/><rect x="419.0" y="181.13" width="1" height="0.87" fill-opacity="0.51"/><rect x="419.0" y="104.89" width="1" height="6.53" fill-opacity="0.12"/><rect x="419.0" y="97.00" width="1" height="1.27" fill-opacity="0.78"/><rect x="420.0" y="12.00" width="1" height="0.29" fill-opacity="0.34"/><rect x="420.0" y="87.92" width="1" height="1.49" fill-opacity="0.12"/><rect x="420.0" y="95.75" width="1" height="1.25" fill-opacity="0.60"/><rect x="420.0" y="181.71" width="1" height="0.29" fill-opacity="0.32"/><rect x="420.0" y="104.49" width="1" height="6.31" fill-opacity="0.12"/><rect x="420.0" y="97.00" width="1" height="1.09" fill-opacity="0.60"/><rect x="421.0" y="88.72" width="1" height="1.09" fill-opacity="0.12"/><rect x="421.0" y="95.91" width="1" height="1.09" fill-opacity="0.96"/><rect x="421.0" y="104.08" width="1" height="6.10" fill-opacity="0.12"/><rect x="421.0" y="97.00" width="1" height="0.92" fill-opacity="0.96"/><rect x="422.0" y="89.53" width="1" height="0.71" fill-opacity="0.82"/><rect x="422.0" y="96.04" width="1" height="0.96" fill-opacity="0.89"/><rect x="422.0" y="103.64" width="1" height="5.92" fill-opacity="0.82"/><rect x="422.0" y="97.00" width="1" height="0.76" fill-opacity="0.89"/><rect x="423.0" y="90.33" width="1" height="0.34" fill-opacity="0.82"/><rect x="423.0" y="96.16" width="1" height="0.84" fill-opacity="0.75"/><rect x="423.0" y="103.18" width="1" height="5.75" fill-opacity="0.82"/><rect x="423.0" y="97.00" width="1" height="0.63" fill-opacity="0.75"/><rect x="424.0" y="96.25" width="1" height="0.75" fill-opacity="0.84"/><rect x="424.0" y="102.71" width="1" height="5.60" fill-opacity="0.10"/><rect x="424.0" y="97.00" width="1" height="0.52" fill-opacity="0.84"/><rect x="425.0" y="96.33" width="1" height="0.67" fill-opacity="0.92"/><rect x="425.0" y="102.21" width="1" height="5.50" fill-opacity="0.95"/><rect x="425.0" y="97.00" width="1" height="0.43" fill-opacity="0.92"/><rect x="426.0" y="96.37" width="1" height="0.63" fill-opacity="0.87"/><rect x="426.0" y="101.68" width="1" height="5.43" fill-opacity="0.12"/><rect x="426.0" y="97.00" width="1" height="0.37" fill-opacity="0.87"/><rect x="427.0" y="12.00" width="1" height="3.00" fill-opacity="0.03"/><rect x="427.0" y="15.00" width="1" height="3.00" fill-opacity="0.03"/><rect x="427.0" y="18.00" width="1" height="3.00" fill-opacity="0.04"/><rect x="427.0" y="21.00" width="1" height="3.00" fill-opacity="0.03"/><rect x="427.0" y="24.00" width="1" height="3.00" fill-opacity="0.03"/><rect x="427.0" y="27.00" width="1" height="3.00" fill-opacity="0.03"/><rect x="427.0" y="30.00" width="1" height="3.00" fill-opacity="0.04"/><rect x="427.0" y="33.00" width="1" height="3.00" fill-opacity="0.05"/><rect x="427.0" y="36.00" width="1" height="3.00" fill-opacity="0.05"/><rect x="427.0" y="39.00" width="1" height="3.00" fill-opacity="0.06"/><rect x="427.0" y="42.00" width="1" height="3.00" fill-opacity="0.06"/><rect x="427.0" y="45.00" width="1" height="3.00" fill-opacity="0.07"/><rect x="427.0" y="48.00" width="1" height="3.00" fill-opacity="0.08"/><rect x="427.0" y="51.00" width="1" height="3.00" fill-opacity="0.09"/><rect x="427.0" y="54.00" width="1" height="3.00" fill-opacity="0.07"/><rect x="427.0" y="57.00" width="1" height="3.00" fill-opacity="0.07"/><rect x="427.0" y="60.00" width="1" height="3.00" fill-opacity="0.04"/><rect x="427.0" y="63.00" width="1" height="3.00" fill-opacity="0.03"/><rect x="427.0" y="66.00" width="1" height="3.00" fill-opacity="0.03"/><rect x="427.0" y="69.00" width="1" height="3.00" fill-opacity="0.03"/><rect x="427.0" y="72.00" width="1" height="3.00" fill-opacity="0.03"/><rect x="427.0" y="75.00" width="1" height="3.00" fill-opacity="0.03"/><rect x="427.0" y="78.00" width="1" height="3.00" fill-opacity="0.03"/><rect x="427.0" y="81.00" width="1" height="3.00" fill-opacity="0.03"/><rect x="427.0" y="84.00" width="1" height="3.00" fill-opacity="0.03"/><rect x="427.0" y="87.00" width="1" height="3.00" fill-opacity="0.03"/><rect x="427.0" y="90.00" width="1" height="3.00" fill-opacity="0.02"/><rect x="427.0" y="93.00" width="1" height="0.55" fill-opacity="0.03"/><rect x="427.0" y="93.55" width="1" height="2.84" fill-opacity="0.03"/><rect x="427.0" y="96.39" width="1" height="0.61" fill-opacity="0.86"/><rect x="427.0" y="179.00" width="1" height="3.00" fill-opacity="0.02"/><rect x="427.0" y="176.00" width="1" height="3.00" fill-opacity="0.03"/><rect x="427.0" y="173.00" width="1" height="3.00" fill-opacity="0.03"/><rect x="427.0" y="170.00" width="1" height="3.00" fill-opacity="0.02"/><rect x="427.0" y="167.00" width="1" height="3.00" fill-opacity="0.03"/><rect x="427.0" y="164.00" width="1" height="3.00" fill-opacity="0.04"/><rect x="427.0" y="161.00" width="1" height="3.00" fill-opacity="0.04"/><rect x="427.0" y="158.00" width="1" height="3.00" fill-opacity="0.04"/><rect x="427.0" y="155.00" width="1" height="3.00" fill-opacity="0.04"/><rect x="427.0" y="152.00" width="1" height="3.00" fill-opacity="0.05"/><rect x="427.0" y="149.00" width="1" height="3.00" fill-opacity="0.09"/><rect x="427.0" y="146.00" width="1" height="3.00" fill-opacity="0.07"/><rect x="427.0" y="143.00" width="1" height="3.00" fill-opacity="0.09"/><rect x="427.0" y="140.00" width="1" height="3.00" fill-opacity="0.07"/><rect x="427.0" y="137.00" width="1" height="3.00" fill-opacity="0.08"/><rect x="427.0" y="134.00" width="1" height="3.00" fill-opacity="0.08"/><rect x="427.0" y="131.00" width="1" height="3.00" fill-opacity="0.04"/><rect x="427.0" y="128.00" width="1" height="3.00" fill-opacity="0.05"/><rect x="427.0" y="125.00" width="1" height="3.00" fill-opacity="0.04"/><rect x="427.0" y="122.00" width="1" height="3.00" fill-opacity="0.04"/><rect x="427.0" y="119.00" width="1" height="3.00" fill-opacity="0.03"/><rect x="427.0" y="116.00" width="1" height="3.00" fill-opacity="0.03"/><rect x="427.0" y="113.00" width="1" height="3.00" fill-opacity="0.03"/><rect x="427.0" y="110.00" width="1" height="3.00" fill-opacity="0.03"/><rect x="427.0" y="107.00" width="1" height="3.00" fill-opacity="0.02"/><rect x="427.0" y="106.51" width="1" height="0.49" fill-opacity="0.02"/><rect x="427.0" y="101.12" width="1" height="5.39" fill-opacity="0.95"/><rect x="427.0" y="97.34" width="1" height="3.77" fill-opacity="0.03"/><rect x="427.0" y="97.00" width="1" height="0.34" fill-opacity="0.86"/><rect x="428.0" y="12.00" width="1" height="3.00" fill-opacity="0.05"/><rect x="428.0" y="15.00" width="1" height="3.00" fill-opacity="0.05"/><rect x="428.0" y="18.00" width="1" height="3.00" fill-opacity="0.05"/><rect x="428.0" y="21.00" width="1" height="3.00" fill-opacity="0.07"/><rect x="428.0" y="24.00" width="1" height="3.00" fill-opacity="0.05"/><rect x="428.0" y="27.00" width="1" height="3.00" fill-opacity="0.07"/><rect x="428.0" y="30.00" width="1" height="3.00" fill-opacity="0.08"/><rect x="428.0" y="33.00" width="1" height="3.00" fill-opacity="0.07"/><rect x="428.0" y="36.00" width="1" height="3.00" fill-opacity="0.12"/><rect x="428.0" y="39.00" width="1" height="3.00" fill-opacity="0.13"/><rect x="428.0" y="42.00" width="1" height="3.00" fill-opacity="0.17"/><rect x="428.0" y="45.00" width="1" height="3.00" fill-opacity="0.15"/><rect x="428.0" y="48.00" width="1" height="3.00" fill-opacity="0.16"/><rect x="428.0" y="51.00" width="1" height="3.00" fill-opacity="0.16"/><rect x="428.0" y="54.00" width="1" height="3.00" fill-opacity="0.19"/><rect x="428.0" y="57.00" width="1" height="3.00" fill-opacity="0.13"/><rect x="428.0" y="60.00" width="1" height="3.00" fill-opacity="0.10"/><rect x="428.0" y="63.00" width="1" height="3.00" fill-opacity="0.08"/><rect x="428.0" y="66.00" width="1" height="3.00" fill-opacity="0.07"/><rect x="428.0" y="69.00" width="1" height="3.00" fill-opacity="0.05"/><rect x="428.0" y="72.00" width="1" height="3.00" fill-opacity="0.05"/><rect x="428.0" y="75.00" width="1" height="3.00" fill-opacity="0.07"/><rect x="428.0" y="78.00" width="1" height="3.00" fill-opacity="0.05"/><rect x="428.0" y="81.00" width="1" height="3.00" fill-opacity="0.07"/><rect x="428.0" y="84.00" width="1" height="3.00" fill-opacity="0.05"/><rect x="428.0" y="87.00" width="1" height="3.00" fill-opacity="0.05"/><rect x="428.0" y="90.00" width="1" height="3.00" fill-opacity="0.06"/><rect x="428.0" y="93.00" width="1" height="1.35" fill-opacity="0.05"/><rect x="428.0" y="94.35" width="1" height="2.01" fill-opacity="0.06"/><rect x="428.0" y="96.36" width="1" height="0.64" fill-opacity="0.87"/><rect x="428.0" y="179.00" width="1" height="3.00" fill-opacity="0.05"/><rect x="428.0" y="176.00" width="1" height="3.00" fill-opacity="0.07"/><rect x="428.0" y="173.00" width="1" height="3.00" fill-opacity="0.07"/><rect x="428.0" y="170.00" width="1" height="3.00" fill-opacity="0.07"/><rect x="428.0" y="167.00" width="1" height="3.00" fill-opacity="0.06"/><rect x="428.0" y="164.00" width="1" height="3.00" fill-opacity="0.07"/><rect x="428.0" y="161.00" width="1" height="3.00" fill-opacity="0.08"/><rect x="428.0" y="158.00" width="1" height="3.00" fill-opacity="0.08"/><rect x="428.0" y="155.00" width="1" height="3.00" fill-opacity="0.11"/><rect x="428.0" y="152.00" width="1" height="3.00" fill-opacity="0.10"/><rect x="428.0" y="149.00" width="1" height="3.00" fill-opacity="0.16"/><rect x="428.0" y="146.00" width="1" height="3.00" fill-opacity="0.16"/><rect x="428.0" y="143.00" width="1" height="3.00" fill-opacity="0.19"/><rect x="428.0" y="140.00" width="1" height="3.00" fill-opacity="0.18"/><rect x="428.0" y="137.00" width="1" height="3.00" fill-opacity="0.14"/><rect x="428.0" y="134.00" width="1" height="3.00" fill-opacity="0.10"/><rect x="428.0" y="131.00" width="1" height="3.00" fill-opacity="0.13"/><rect x="428.0" y="128.00" width="1" height="3.00" fill-opacity="0.07"/><rect x="428.0" y="125.00" width="1" height="3.00" fill-opacity="0.07"/><rect x="428.0" y="122.00" width="1" height="3.00" fill-opacity="0.06"/><rect x="428.0" y="119.00" width="1" height="3.00" fill-opacity="0.06"/><rect x="428.0" y="116.00" width="1" height="3.00" fill-opacity="0.06"/><rect x="428.0" y="113.00" width="1" height="3.00" fill-opacity="0.07"/><rect x="428.0" y="110.00" width="1" height="3.00" fill-opacity="0.05"/><rect x="428.0" y="107.00" width="1" height="3.00" fill-opacity="0.06"/><rect x="428.0" y="105.91" width="1" height="1.09" fill-opacity="0.05"/><rect x="428.0" y="100.51" width="1" height="5.40" fill-opacity="0.95"/><rect x="428.0" y="97.36" width="1" height="3.15" fill-opacity="0.06"/><rect x="428.0" y="97.00" width="1" height="0.36" fill-opacity="0.87"/><rect x="429.0" y="12.00" width="1" height="3.00" fill-opacity="0.14"/><rect x="429.0" y="15.00" width="1" height="3.00" fill-opacity="0.16"/><rect x="429.0" y="18.00" width="1" height="3.00" fill-opacity="0.15"/><rect x="429.0" y="21.00" width="1" height="3.00" fill-opacity="0.14"/><rect x="429.0" y="24.00" width="1" height="3.00" fill-opacity="0.14"/><rect x="429.0" y="27.00" width="1" height="3.00" fill-opacity="0.18"/><rect x="429.0" y="30.00" width="1" height="3.00" fill-opacity="0.17"/><rect x="429.0" y="33.00" width="1" height="3.00" fill-opacity="0.21"/><rect x="429.0" y="36.00" width="1" height="3.00" fill-opacity="0.22"/><rect x="429.0" y="39.00" width="1" height="3.00" fill-opacity="0.26"/><rect x="429.0" y="42.00" width="1" height="3.00" fill-opacity="0.37"/><rect x="429.0" y="45.00" width="1" height="3.00" fill-opacity="0.38"/><rect x="429.0" y="48.00" width="1" height="3.00" fill-opacity="0.41"/><rect x="429.0" y="51.00" width="1" height="3.00" fill-opacity="0.48"/><rect x="429.0" y="54.00" width="1" height="3.00" fill-opacity="0.33"/><rect x="429.0" y="57.00" width="1" height="3.00" fill-opacity="0.25"/><rect x="429.0" y="60.00" width="1" height="3.00" fill-opacity="0.31"/><rect x="429.0" y="63.00" width="1" height="3.00" fill-opacity="0.20"/><rect x="429.0" y="66.00" width="1" height="3.00" fill-opacity="0.20"/><rect x="429.0" y="69.00" width="1" height="3.00" fill-opacity="0.14"/><rect x="429.0" y="72.00" width="1" height="3.00" fill-opacity="0.14"/><rect x="429.0" y="75.00" width="1" height="3.00" fill-opacity="0.16"/><rect x="429.0" y="78.00" width="1" height="3.00" fill-opacity="0.14"/><rect x="429.0" y="81.00" width="1" height="3.00" fill-opacity="0.15"/><rect x="429.0" y="84.00" width="1" height="3.00" fill-opacity="0.14"/><rect x="429.0" y="87.00" width="1" height="3.00" fill-opacity="0.16"/><rect x="429.0" y="90.00" width="1" height="3.00" fill-opacity="0.15"/><rect x="429.0" y="93.00" width="1" height="2.15" fill-opacity="0.16"/><rect x="429.0" y="95.15" width="1" height="1.11" fill-opacity="0.16"/><rect x="429.0" y="96.26" width="1" height="0.74" fill-opacity="0.88"/><rect x="429.0" y="179.00" width="1" height="3.00" fill-opacity="0.17"/><rect x="429.0" y="176.00" width="1" height="3.00" fill-opacity="0.12"/><rect x="429.0" y="173.00" width="1" height="3.00" fill-opacity="0.17"/><rect x="429.0" y="170.00" width="1" height="3.00" fill-opacity="0.14"/><rect x="429.0" y="167.00" width="1" height="3.00" fill-opacity="0.16"/><rect x="429.0" y="164.00" width="1" height="3.00" fill-opacity="0.15"/><rect x="429.0" y="161.00" width="1" height="3.00" fill-opacity="0.16"/><rect x="429.0" y="158.00" width="1" height="3.00" fill-opacity="0.23"/><rect x="429.0" y="155.00" width="1" height="3.00" fill-opacity="0.30"/><rect x="429.0" y="152.00" width="1" height="3.00" fill-opacity="0.25"/><rect x="429.0" y="149.00" width="1" height="3.00" fill-opacity="0.35"/><rect x="429.0" y="146.00" width="1" height="3.00" fill-opacity="0.46"/><rect x="429.0" y="143.00" width="1" height="3.00" fill-opacity="0.49"/><rect x="429.0" y="140.00" width="1" height="3.00" fill-opacity="0.51"/><rect x="429.0" y="137.00" width="1" height="3.00" fill-opacity="0.38"/><rect x="429.0" y="134.00" width="1" height="3.00" fill-opacity="0.26"/><rect x="429.0" y="131.00" width="1" height="3.00" fill-opacity="0.31"/><rect x="429.0" y="128.00" width="1" height="3.00" fill-opacity="0.26"/><rect x="429.0" y="125.00" width="1" height="3.00" fill-opacity="0.18"/><rect x="429.0" y="122.00" width="1" height="3.00" fill-opacity="0.16"/><rect x="429.0" y="119.00" width="1" height="3.00" fill-opacity="0.15"/><rect x="429.0" y="116.00" width="1" height="3.00" fill-opacity="0.17"/><rect x="429.0" y="113.00" width="1" height="3.00" fill-opacity="0.13"/><rect x="429.0" y="110.00" width="1" height="3.00" fill-opacity="0.12"/><rect x="429.0" y="107.00" width="1" height="3.00" fill-opacity="0.17"/><rect x="429.0" y="105.31" width="1" height="1.69" fill-opacity="0.12"/><rect x="429.0" y="99.83" width="1" height="5.48" fill-opacity="0.03"/><rect x="429.0" y="97.45" width="1" height="2.39" fill-opacity="0.16"/><rect x="429.0" y="97.00" width="1" height="0.45" fill-opacity="0.88"/><rect x="430.0" y="12.00" width="1" height="3.00" fill-opacity="0.26"/><rect x="430.0" y="15.00" width="1" height="3.00" fill-opacity="0.18"/><rect x="430.0" y="18.00" width="1" height="3.00" fill-opacity="0.19"/><rect x="430.0" y="21.00" width="1" height="3.00" fill-opacity="0.24"/><rect x="430.0" y="24.00" width="1" height="3.00" fill-opacity="0.19"/><rect x="430.0" y="27.00" width="1" height="3.00" fill-opacity="0.28"/><rect x="430.0" y="30.00" width="1" height="3.00" fill-opacity="0.33"/><rect x="430.0" y="33.00" width="1" height="3.00" fill-opacity="0.34"/><rect x="430.0" y="36.00" width="1" height="3.00" fill-opacity="0.40"/><rect x="430.0" y="39.00" width="1" height="3.00" fill-opacity="0.47"/><rect x="430.0" y="42.00" width="1" height="3.00" fill-opacity="0.65"/><rect x="430.0" y="45.00" width="1" height="3.00" fill-opacity="0.54"/><rect x="430.0" y="48.00" width="1" height="3.00" fill-opacity="0.63"/><rect x="430.0" y="51.00" width="1" height="3.00" fill-opacity="0.80"/><rect x="430.0" y="54.00" width="1" height="3.00" fill-opacity="0.52"/><rect x="430.0" y="57.00" width="1" height="3.00" fill-opacity="0.46"/><rect x="430.0" y="60.00" width="1" height="3.00" fill-opacity="0.48"/><rect x="430.0" y="63.00" width="1" height="3.00" fill-opacity="0.27"/><rect x="430.0" y="66.00" width="1" height="3.00" fill-opacity="0.30"/><rect x="430.0" y="69.00" width="1" height="3.00" fill-opacity="0.32"/><rect x="430.0" y="72.00" width="1" height="3.00" fill-opacity="0.22"/><rect x="430.0" y="75.00" width="1" height="3.00" fill-opacity="0.22"/><rect x="430.0" y="78.00" width="1" height="3.00" fill-opacity="0.27"/><rect x="430.0" y="81.00" width="1" height="3.00" fill-opacity="0.20"/><rect x="430.0" y="84.00" width="1" height="3.00" fill-opacity="0.23"/><rect x="430.0" y="87.00" width="1" height="3.00" fill-opacity="0.24"/><rect x="430.0" y="90.00" width="1" height="3.00" fill-opacity="0.18"/><rect x="430.0" y="93.00" width="1" height="2.96" fill-opacity="0.22"/><rect x="430.0" y="96.00" width="1" height="1.00" fill-opacity="0.95"/><rect x="430.0" y="179.00" width="1" height="3.00" fill-opacity="0.25"/><rect x="430.0" y="176.00" width="1" height="3.00" fill-opacity="0.19"/><rect x="430.0" y="173.00" width="1" height="3.00" fill-opacity="0.20"/><rect x="430.0" y="170.00" width="1" height="3.00" fill-opacity="0.27"/><rect x="430.0" y="167.00" width="1" height="3.00" fill-opacity="0.25"/><rect x="430.0" y="164.00" width="1" height="3.00" fill-opacity="0.20"/><rect x="430.0" y="161.00" width="1" height="3.00" fill-opacity="0.24"/><rect x="430.0" y="158.00" width="1" height="3.00" fill-opacity="0.31"/><rect x="430.0" y="155.00" width="1" height="3.00" fill-opacity="0.37"/><rect x="430.0" y="152.00" width="1" height="3.00" fill-opacity="0.48"/><rect x="430.0" y="149.00" width="1" height="3.00" fill-opacity="0.63"/><rect x="430.0" y="146.00" width="1" height="3.00" fill-opacity="0.72"/><rect x="430.0" y="143.00" width="1" height="3.00" fill-opacity="0.65"/><rect x="430.0" y="140.00" width="1" height="3.00" fill-opacity="0.64"/><rect x="430.0" y="137.00" width="1" height="3.00" fill-opacity="0.47"/><rect x="430.0" y="134.00" width="1" height="3.00" fill-opacity="0.47"/><rect x="430.0" y="131.00" width="1" height="3.00" fill-opacity="0.49"/><rect x="430.0" y="128.00" width="1" height="3.00" fill-opacity="0.28"/><rect x="430.0" y="125.00" width="1" height="3.00" fill-opacity="0.29"/><rect x="430.0" y="122.00" width="1" height="3.00" fill-opacity="0.22"/><rect x="430.0" y="119.00" width="1" height="3.00" fill-opacity="0.27"/><rect x="430.0" y="116.00" width="1" height="3.00" fill-opacity="0.20"/><rect x="430.0" y="113.00" width="1" height="3.00" fill-opacity="0.23"/><rect x="430.0" y="110.00" width="1" height="3.00" fill-opacity="0.21"/><rect x="430.0" y="107.00" width="1" height="3.00" fill-opacity="0.27"/><rect x="430.0" y="104.72" width="1" height="2.28" fill-opacity="0.19"/><rect x="430.0" y="99.00" width="1" height="5.72" fill-opacity="0.82"/><rect x="430.0" y="97.69" width="1" height="1.31" fill-opacity="0.26"/><rect x="430.0" y="97.00" width="1" height="0.69" fill-opacity="0.95"/><rect x="431.0" y="12.00" width="1" height="3.00" fill-opacity="0.07"/><rect x="431.0" y="15.00" width="1" height="3.00" fill-opacity="0.09"/><rect x="431.0" y="18.00" width="1" height="3.00" fill-opacity="0.06"/><rect x="431.0" y="21.00" width="1" height="3.00" fill-opacity="0.08"/><rect x="431.0" y="24.00" width="1" height="3.00" fill-opacity="0.09"/><rect x="431.0" y="27.00" width="1" height="3.00" fill-opacity="0.06"/><rect x="431.0" y="30.00" width="1" height="3.00" fill-opacity="0.07"/><rect x="431.0" y="33.00" width="1" height="3.00" fill-opacity="0.11"/><rect x="431.0" y="36.00" width="1" height="3.00" fill-opacity="0.12"/><rect x="431.0" y="39.00" width="1" height="3.00" fill-opacity="0.16"/><rect x="431.0" y="42.00" width="1" height="3.00" fill-opacity="0.16"/><rect x="431.0" y="45.00" width="1" height="3.00" fill-opacity="0.20"/><rect x="431.0" y="48.00" width="1" height="3.00" fill-opacity="0.24"/><rect x="431.0" y="51.00" width="1" height="3.00" fill-opacity="0.19"/><rect x="431.0" y="54.00" width="1" height="3.00" fill-opacity="0.16"/><rect x="431.0" y="57.00" width="1" height="3.00" fill-opacity="0.13"/><rect x="431.0" y="60.00" width="1" height="3.00" fill-opacity="0.11"/><rect x="431.0" y="63.00" width="1" height="3.00" fill-opacity="0.09"/><rect x="431.0" y="66.00" width="1" height="3.00" fill-opacity="0.10"/><rect x="431.0" y="69.00" width="1" height="3.00" fill-opacity="0.08"/><rect x="431.0" y="72.00" width="1" height="3.00" fill-opacity="0.07"/><rect x="431.0" y="75.00" width="1" height="3.00" fill-opacity="0.07"/><rect x="431.0" y="78.00" width="1" height="3.00" fill-opacity="0.08"/><rect x="431.0" y="81.00" width="1" height="3.00" fill-opacity="0.08"/><rect x="431.0" y="84.00" width="1" height="3.00" fill-opacity="0.09"/><rect x="431.0" y="87.00" width="1" height="3.00" fill-opacity="0.07"/><rect x="431.0" y="90.00" width="1" height="3.00" fill-opacity="0.06"/><rect x="431.0" y="93.00" width="1" height="3.00" fill-opacity="0.06"/><rect x="431.0" y="96.00" width="1" height="0.76" fill-opacity="0.06"/><rect x="431.0" y="96.76" width="1" height="0.24" fill-opacity="0.90"/><rect x="431.0" y="179.00" width="1" height="3.00" fill-opacity="0.07"/><rect x="431.0" y="176.00" width="1" height="3.00" fill-opacity="0.08"/><rect x="431.0" y="173.00" width="1" height="3.00" fill-opacity="0.07"/><rect x="431.0" y="170.00" width="1" height="3.00" fill-opacity="0.08"/><rect x="431.0" y="167.00" width="1" height="3.00" fill-opacity="0.07"/><rect x="431.0" y="164.00" width="1" height="3.00" fill-opacity="0.09"/><rect x="431.0" y="161.00" width="1" height="3.00" fill-opacity="0.08"/><rect x="431.0" y="158.00" width="1" height="3.00" fill-opacity="0.11"/><rect x="431.0" y="155.00" width="1" height="3.00" fill-opacity="0.10"/><rect x="431.0" y="152.00" width="1" height="3.00" fill-opacity="0.16"/><rect x="431.0" y="149.00" width="1" height="3.00" fill-opacity="0.16"/><rect x="431.0" y="146.00" width="1" height="3.00" fill-opacity="0.21"/><rect x="431.0" y="143.00" width="1" height="3.00" fill-opacity="0.21"/><rect x="431.0" y="140.00" width="1" height="3.00" fill-opacity="0.19"/><rect x="431.0" y="137.00" width="1" height="3.00" fill-opacity="0.21"/><rect x="431.0" y="134.00" width="1" height="3.00" fill-opacity="0.16"/><rect x="431.0" y="131.00" width="1" height="3.00" fill-opacity="0.14"/><rect x="431.0" y="128.00" width="1" height="3.00" fill-opacity="0.10"/><rect x="431.0" y="125.00" width="1" height="3.00" fill-opacity="0.10"/><rect x="431.0" y="122.00" width="1" height="3.00" fill-opacity="0.08"/><rect x="431.0" y="119.00" width="1" height="3.00" fill-opacity="0.07"/><rect x="431.0" y="116.00" width="1" height="3.00" fill-opacity="0.07"/><rect x="431.0" y="113.00" width="1" height="3.00" fill-opacity="0.08"/><rect x="431.0" y="110.00" width="1" height="3.00" fill-opacity="0.06"/><rect x="431.0" y="107.00" width="1" height="3.00" fill-opacity="0.06"/><rect x="431.0" y="104.12" width="1" height="2.88" fill-opacity="0.06"/><rect x="431.0" y="97.45" width="1" height="6.67" fill-opacity="0.08"/><rect x="431.0" y="97.00" width="1" height="0.45" fill-opacity="0.90"/><rect x="432.0" y="12.00" width="1" height="3.00" fill-opacity="0.19"/><rect x="432.0" y="15.00" width="1" height="3.00" fill-opacity="0.13"/><rect x="432.0" y="18.00" width="1" height="3.00" fill-opacity="0.18"/><rect x="432.0" y="21.00" width="1" height="3.00" fill-opacity="0.17"/><rect x="432.0" y="24.00" width="1" height="3.00" fill-opacity="0.20"/><rect x="432.0" y="27.00" width="1" height="3.00" fill-opacity="0.16"/><rect x="432.0" y="30.00" width="1" height="3.00" fill-opacity="0.21"/><rect x="432.0" y="33.00" width="1" height="3.00" fill-opacity="0.23"/><rect x="432.0" y="36.00" width="1" height="3.00" fill-opacity="0.31"/><rect x="432.0" y="39.00" width="1" height="3.00" fill-opacity="0.40"/><rect x="432.0" y="42.00" width="1" height="3.00" fill-opacity="0.32"/><rect x="432.0" y="45.00" width="1" height="3.00" fill-opacity="0.52"/><rect x="432.0" y="48.00" width="1" height="3.00" fill-opacity="0.39"/><rect x="432.0" y="51.00" width="1" height="3.00" fill-opacity="0.51"/><rect x="432.0" y="54.00" width="1" height="3.00" fill-opacity="0.41"/><rect x="432.0" y="57.00" width="1" height="3.00" fill-opacity="0.40"/><rect x="432.0" y="60.00" width="1" height="3.00" fill-opacity="0.33"/><rect x="432.0" y="63.00" width="1" height="3.00" fill-opacity="0.28"/><rect x="432.0" y="66.00" width="1" height="3.00" fill-opacity="0.23"/><rect x="432.0" y="69.00" width="1" height="3.00" fill-opacity="0.15"/><rect x="432.0" y="72.00" width="1" height="3.00" fill-opacity="0.17"/><rect x="432.0" y="75.00" width="1" height="3.00" fill-opacity="0.13"/><rect x="432.0" y="78.00" width="1" height="3.00" fill-opacity="0.19"/><rect x="432.0" y="81.00" width="1" height="3.00" fill-opacity="0.14"/><rect x="432.0" y="84.00" width="1" height="3.00" fill-opacity="0.17"/><rect x="432.0" y="87.00" width="1" height="3.00" fill-opacity="0.13"/><rect x="432.0" y="90.00" width="1" height="3.00" fill-opacity="0.14"/><rect x="432.0" y="93.00" width="1" height="3.00" fill-opacity="0.18"/><rect x="432.0" y="96.00" width="1" height="0.44" fill-opacity="0.16"/><rect x="432.0" y="96.44" width="1" height="0.56" fill-opacity="0.90"/><rect x="432.0" y="179.00" width="1" height="3.00" fill-opacity="0.18"/><rect x="432.0" y="176.00" width="1" height="3.00" fill-opacity="0.17"/><rect x="432.0" y="173.00" width="1" height="3.00" fill-opacity="0.16"/><rect x="432.0" y="170.00" width="1" height="3.00" fill-opacity="0.15"/><rect x="432.0" y="167.00" width="1" height="3.00" fill-opacity="0.14"/><rect x="432.0" y="164.00" width="1" height="3.00" fill-opacity="0.17"/><rect x="432.0" y="161.00" width="1" height="3.00" fill-opacity="0.20"/><rect x="432.0" y="158.00" width="1" height="3.00" fill-opacity="0.22"/><rect x="432.0" y="155.00" width="1" height="3.00" fill-opacity="0.28"/><rect x="432.0" y="152.00" width="1" height="3.00" fill-opacity="0.28"/><rect x="432.0" y="149.00" width="1" height="3.00" fill-opacity="0.38"/><rect x="432.0" y="146.00" width="1" height="3.00" fill-opacity="0.37"/><rect x="432.0" y="143.00" width="1" height="3.00" fill-opacity="0.38"/><rect x="432.0" y="140.00" width="1" height="3.00" fill-opacity="0.49"/><rect x="432.0" y="137.00" width="1" height="3.00" fill-opacity="0.36"/><rect x="432.0" y="134.00" width="1" height="3.00" fill-opacity="0.34"/><rect x="432.0" y="131.00" width="1" height="3.00" fill-opacity="0.35"/><rect x="432.0" y="128.00" width="1" height="3.00" fill-opacity="0.29"/><rect x="432.0" y="125.00" width="1" height="3.00" fill-opacity="0.17"/><rect x="432.0" y="122.00" width="1" height="3.00" fill-opacity="0.15"/><rect x="432.0" y="119.00" width="1" height="3.00" fill-opacity="0.16"/><rect x="432.0" y="116.00" width="1" height="3.00" fill-opacity="0.19"/><rect x="432.0" y="113.00" width="1" height="3.00" fill-opacity="0.14"/><rect x="432.0" y="110.00" width="1" height="3.00" fill-opacity="0.16"/><rect x="432.0" y="107.00" width="1" height="3.00" fill-opacity="0.18"/><rect x="432.0" y="104.36" width="1" height="2.64" fill-opacity="0.18"/><rect x="432.0" y="98.05" width="1" height="6.31" fill-opacity="0.18"/><rect x="432.0" y="97.00" width="1" height="1.05" fill-opacity="0.90"/><rect x="433.0" y="12.00" width="1" height="3.00" fill-opacity="0.10"/><rect x="433.0" y="15.00" width="1" height="3.00" fill-opacity="0.07"/><rect x="433.0" y="18.00" width="1" height="3.00" fill-opacity="0.08"/><rect x="433.0" y="21.00" width="1" height="3.00" fill-opacity="0.08"/><rect x="433.0" y="24.00" width="1" height="3.00" fill-opacity="0.08"/><rect x="433.0" y="27.00" width="1" height="3.00" fill-opacity="0.11"/><rect x="433.0" y="30.00" width="1" height="3.00" fill-opacity="0.11"/><rect x="433.0" y="33.00" width="1" height="3.00" fill-opacity="0.11"/><rect x="433.0" y="36.00" width="1" height="3.00" fill-opacity="0.14"/><rect x="433.0" y="39.00" width="1" height="3.00" fill-opacity="0.22"/><rect x="433.0" y="42.00" width="1" height="3.00" fill-opacity="0.22"/><rect x="433.0" y="45.00" width="1" height="3.00" fill-opacity="0.22"/><rect x="433.0" y="48.00" width="1" height="3.00" fill-opacity="0.29"/><rect x="433.0" y="51.00" width="1" height="3.00" fill-opacity="0.27"/><rect x="433.0" y="54.00" width="1" height="3.00" fill-opacity="0.28"/><rect x="433.0" y="57.00" width="1" height="3.00" fill-opacity="0.16"/><rect x="433.0" y="60.00" width="1" height="3.00" fill-opacity="0.16"/><rect x="433.0" y="63.00" width="1" height="3.00" fill-opacity="0.15"/><rect x="433.0" y="66.00" width="1" height="3.00" fill-opacity="0.13"/><rect x="433.0" y="69.00" width="1" height="3.00" fill-opacity="0.11"/><rect x="433.0" y="72.00" width="1" height="3.00" fill-opacity="0.07"/><rect x="433.0" y="75.00" width="1" height="3.00" fill-opacity="0.08"/><rect x="433.0" y="78.00" width="1" height="3.00" fill-opacity="0.07"/><rect x="433.0" y="81.00" width="1" height="3.00" fill-opacity="0.07"/><rect x="433.0" y="84.00" width="1" height="3.00" fill-opacity="0.10"/><rect x="433.0" y="87.00" width="1" height="3.00" fill-opacity="0.09"/><rect x="433.0" y="90.00" width="1" height="3.00" fill-opacity="0.10"/><rect x="433.0" y="93.00" width="1" height="2.63" fill-opacity="0.08"/><rect x="433.0" y="95.63" width="1" height="0.60" fill-opacity="0.10"/><rect x="433.0" y="96.24" width="1" height="0.76" fill-opacity="0.94"/><rect x="433.0" y="179.00" width="1" height="3.00" fill-opacity="0.10"/><rect x="433.0" y="176.00" width="1" height="3.00" fill-opacity="0.08"/><rect x="433.0" y="173.00" width="1" height="3.00" fill-opacity="0.08"/><rect x="433.0" y="170.00" width="1" height="3.00" fill-opacity="0.10"/><rect x="433.0" y="167.00" width="1" height="3.00" fill-opacity="0.11"/><rect x="433.0" y="164.00" width="1" height="3.00" fill-opacity="0.08"/><rect x="433.0" y="161.00" width="1" height="3.00" fill-opacity="0.11"/><rect x="433.0" y="158.00" width="1" height="3.00" fill-opacity="0.13"/><rect x="433.0" y="155.00" width="1" height="3.00" fill-opacity="0.13"/><rect x="433.0" y="152.00" width="1" height="3.00" fill-opacity="0.17"/><rect x="433.0" y="149.00" width="1" height="3.00" fill-opacity="0.18"/><rect x="433.0" y="146.00" width="1" height="3.00" fill-opacity="0.21"/><rect x="433.0" y="143.00" width="1" height="3.00" fill-opacity="0.23"/><rect x="433.0" y="140.00" width="1" height="3.00" fill-opacity="0.26"/><rect x="433.0" y="137.00" width="1" height="3.00" fill-opacity="0.24"/><rect x="433.0" y="134.00" width="1" height="3.00" fill-opacity="0.17"/><rect x="433.0" y="131.00" width="1" height="3.00" fill-opacity="0.12"/><rect x="433.0" y="128.00" width="1" height="3.00" fill-opacity="0.12"/><rect x="433.0" y="125.00" width="1" height="3.00" fill-opacity="0.12"/><rect x="433.0" y="122.00" width="1" height="3.00" fill-opacity="0.08"/><rect x="433.0" y="119.00" width="1" height="3.00" fill-opacity="0.08"/><rect x="433.0" y="116.00" width="1" height="3.00" fill-opacity="0.08"/><rect x="433.0" y="113.00" width="1" height="3.00" fill-opacity="0.10"/><rect x="433.0" y="110.00" width="1" height="3.00" fill-opacity="0.09"/><rect x="433.0" y="107.00" width="1" height="3.00" fill-opacity="0.07"/><rect x="433.0" y="104.96" width="1" height="2.04" fill-opacity="0.07"/><rect x="433.0" y="99.54" width="1" height="5.41" fill-opacity="0.07"/><rect x="433.0" y="97.39" width="1" height="2.15" fill-opacity="0.10"/><rect x="433.0" y="97.00" width="1" height="0.39" fill-opacity="0.94"/><rect x="434.0" y="12.00" width="1" height="3.00" fill-opacity="0.04"/><rect x="434.0" y="15.00" width="1" height="3.00" fill-opacity="0.04"/><rect x="434.0" y="18.00" width="1" height="3.00" fill-opacity="0.05"/><rect x="434.0" y="21.00" width="1" height="3.00" fill-opacity="0.05"/><rect x="434.0" y="24.00" width="1" height="3.00" fill-opacity="0.05"/><rect x="434.0" y="27.00" width="1" height="3.00" fill-opacity="0.05"/><rect x="434.0" y="30.00" width="1" height="3.00" fill-opacity="0.07"/><rect x="434.0" y="33.00" width="1" height="3.00" fill-opacity="0.06"/><rect x="434.0" y="36.00" width="1" height="3.00" fill-opacity="0.09"/><rect x="434.0" y="39.00" width="1" height="3.00" fill-opacity="0.10"/><rect x="434.0" y="42.00" width="1" height="3.00" fill-opacity="0.12"/><rect x="434.0" y="45.00" width="1" height="3.00" fill-opacity="0.17"/><rect x="434.0" y="48.00" width="1" height="3.00" fill-opacity="0.18"/><rect x="434.0" y="51.00" width="1" height="3.00" fill-opacity="0.14"/><rect x="434.0" y="54.00" width="1" height="3.00" fill-opacity="0.11"/><rect x="434.0" y="57.00" width="1" height="3.00" fill-opacity="0.12"/><rect x="434.0" y="60.00" width="1" height="3.00" fill-opacity="0.08"/><rect x="434.0" y="63.00" width="1" height="3.00" fill-opacity="0.06"/><rect x="434.0" y="66.00" width="1" height="3.00" fill-opacity="0.07"/><rect x="434.0" y="69.00" width="1" height="3.00" fill-opacity="0.05"/><rect x="434.0" y="72.00" width="1" height="3.00" fill-opacity="0.06"/><rect x="434.0" y="75.00" width="1" height="3.00" fill-opacity="0.05"/><rect x="434.0" y="78.00" width="1" height="3.00" fill-opacity="0.06"/><rect x="434.0" y="81.00" width="1" height="3.00" fill-opacity="0.05"/><rect x="434.0" y="84.00" width="1" height="3.00" fill-opacity="0.04"/><rect x="434.0" y="87.00" width="1" height="3.00" fill-opacity="0.04"/><rect x="434.0" y="90.00" width="1" height="3.00" fill-opacity="0.05"/><rect x="434.0" y="93.00" width="1" height="1.83" fill-opacity="0.05"/><rect x="434.0" y="94.83" width="1" height="1.63" fill-opacity="0.06"/><rect x="434.0" y="96.46" width="1" height="0.54" fill-opacity="0.84"/><rect x="434.0" y="179.00" width="1" height="3.00" fill-opacity="0.06"/><rect x="434.0" y="176.00" width="1" height="3.00" fill-opacity="0.04"/><rect x="434.0" y="173.00" width="1" height="3.00" fill-opacity="0.05"/><rect x="434.0" y="170.00" width="1" height="3.00" fill-opacity="0.05"/><rect x="434.0" y="167.00" width="1" height="3.00" fill-opacity="0.05"/><rect x="434.0" y="164.00" width="1" height="3.00" fill-opacity="0.05"/><rect x="434.0" y="161.00" width="1" height="3.00" fill-opacity="0.05"/><rect x="434.0" y="158.00" width="1" height="3.00" fill-opacity="0.07"/><rect x="434.0" y="155.00" width="1" height="3.00" fill-opacity="0.10"/><rect x="434.0" y="152.00" width="1" height="3.00" fill-opacity="0.09"/><rect x="434.0" y="149.00" width="1" height="3.00" fill-opacity="0.13"/><rect x="434.0" y="146.00" width="1" height="3.00" fill-opacity="0.16"/><rect x="434.0" y="143.00" width="1" height="3.00" fill-opacity="0.18"/><rect x="434.0" y="140.00" width="1" height="3.00" fill-opacity="0.13"/><rect x="434.0" y="137.00" width="1" height="3.00" fill-opacity="0.11"/><rect x="434.0" y="134.00" width="1" height="3.00" fill-opacity="0.13"/><rect x="434.0" y="131.00" width="1" height="3.00" fill-opacity="0.11"/><rect x="434.0" y="128.00" width="1" height="3.00" fill-opacity="0.07"/><rect x="434.0" y="125.00" width="1" height="3.00" fill-opacity="0.05"/><rect x="434.0" y="122.00" width="1" height="3.00" fill-opacity="0.07"/><rect x="434.0" y="119.00" width="1" height="3.00" fill-opacity="0.05"/><rect x="434.0" y="116.00" width="1" height="3.00" fill-opacity="0.06"/><rect x="434.0" y="113.00" width="1" height="3.00" fill-opacity="0.05"/><rect x="434.0" y="110.00" width="1" height="3.00" fill-opacity="0.06"/><rect x="434.0" y="107.00" width="1" height="3.00" fill-opacity="0.04"/><rect x="434.0" y="105.55" width="1" height="1.45" fill-opacity="0.06"/><rect x="434.0" y="100.38" width="1" height="5.17" fill-opacity="0.07"/><rect x="434.0" y="97.14" width="1" height="3.24" fill-opacity="0.06"/><rect x="434.0" y="97.00" width="1" height="0.14" fill-opacity="0.84"/><rect x="435.0" y="15.00" width="1" height="3.00" fill-opacity="0.02"/><rect x="435.0" y="18.00" width="1" height="3.00" fill-opacity="0.02"/><rect x="435.0" y="21.00" width="1" height="3.00" fill-opacity="0.02"/><rect x="435.0" y="27.00" width="1" height="3.00" fill-opacity="0.02"/><rect x="435.0" y="30.00" width="1" height="3.00" fill-opacity="0.03"/><rect x="435.0" y="33.00" width="1" height="3.00" fill-opacity="0.04"/><rect x="435.0" y="36.00" width="1" height="3.00" fill-opacity="0.03"/><rect x="435.0" y="39.00" width="1" height="3.00" fill-opacity="0.05"/><rect x="435.0" y="42.00" width="1" height="3.00" fill-opacity="0.06"/><rect x="435.0" y="45.00" width="1" height="3.00" fill-opacity="0.05"/><rect x="435.0" y="48.00" width="1" height="3.00" fill-opacity="0.07"/><rect x="435.0" y="51.00" width="1" height="3.00" fill-opacity="0.05"/><rect x="435.0" y="54.00" width="1" height="3.00" fill-opacity="0.06"/><rect x="435.0" y="57.00" width="1" height="3.00" fill-opacity="0.05"/><rect x="435.0" y="60.00" width="1" height="3.00" fill-opacity="0.04"/><rect x="435.0" y="63.00" width="1" height="3.00" fill-opacity="0.03"/><rect x="435.0" y="66.00" width="1" height="3.00" fill-opacity="0.03"/><rect x="435.0" y="69.00" width="1" height="3.00" fill-opacity="0.03"/><rect x="435.0" y="72.00" width="1" height="3.00" fill-opacity="0.02"/><rect x="435.0" y="75.00" width="1" height="3.00" fill-opacity="0.02"/><rect x="435.0" y="78.00" width="1" height="3.00" fill-opacity="0.02"/><rect x="435.0" y="81.00" width="1" height="3.00" fill-opacity="0.02"/><rect x="435.0" y="87.00" width="1" height="3.00" fill-opacity="0.02"/><rect x="435.0" y="90.00" width="1" height="3.00" fill-opacity="0.02"/><rect x="435.0" y="94.03" width="1" height="2.53" fill-opacity="0.02"/><rect x="435.0" y="96.56" width="1" height="0.44" fill-opacity="0.80"/><rect x="435.0" y="179.00" width="1" height="3.00" fill-opacity="0.02"/><rect x="435.0" y="176.00" width="1" height="3.00" fill-opacity="0.02"/><rect x="435.0" y="173.00" width="1" height="3.00" fill-opacity="0.02"/><rect x="435.0" y="167.00" width="1" height="3.00" fill-opacity="0.02"/><rect x="435.0" y="161.00" width="1" height="3.00" fill-opacity="0.02"/><rect x="435.0" y="158.00" width="1" height="3.00" fill-opacity="0.03"/><rect x="435.0" y="155.00" width="1" height="3.00" fill-opacity="0.03"/><rect x="435.0" y="152.00" width="1" height="3.00" fill-opacity="0.04"/><rect x="435.0" y="149.00" width="1" height="3.00" fill-opacity="0.05"/><rect x="435.0" y="146.00" width="1" height="3.00" fill-opacity="0.05"/><rect x="435.0" y="143.00" width="1" height="3.00" fill-opacity="0.07"/><rect x="435.0" y="140.00" width="1" height="3.00" fill-opacity="0.05"/><rect x="435.0" y="137.00" width="1" height="3.00" fill-opacity="0.06"/><rect x="435.0" y="134.00" width="1" height="3.00" fill-opacity="0.05"/><rect x="435.0" y="131.00" width="1" height="3.00" fill-opacity="0.04"/><rect x="435.0" y="128.00" width="1" height="3.00" fill-opacity="0.03"/><rect x="435.0" y="125.00" width="1" height="3.00" fill-opacity="0.03"/><rect x="435.0" y="122.00" width="1" height="3.00" fill-opacity="0.02"/><rect x="435.0" y="119.00" width="1" height="3.00" fill-opacity="0.03"/><rect x="435.0" y="113.00" width="1" height="3.00" fill-opacity="0.03"/><rect x="435.0" y="110.00" width="1" height="3.00" fill-opacity="0.03"/><rect x="435.0" y="107.00" width="1" height="3.00" fill-opacity="0.02"/><rect x="435.0" y="106.15" width="1" height="0.85" fill-opacity="0.02"/><rect x="435.0" y="101.09" width="1" height="5.06" fill-opacity="0.84"/><rect x="435.0" y="97.02" width="1" height="4.08" fill-opacity="0.02"/><rect x="436.0" y="96.60" width="1" height="0.40" fill-opacity="0.79"/><rect x="436.0" y="101.73" width="1" height="5.01" fill-opacity="0.84"/><rect x="437.0" y="96.60" width="1" height="0.40" fill-opacity="0.99"/><rect x="437.0" y="102.33" width="1" height="5.01" fill-opacity="0.84"/><rect x="438.0" y="96.57" width="1" height="0.43" fill-opacity="0.94"/><rect x="438.0" y="102.89" width="1" height="5.05" fill-opacity="0.10"/><rect x="439.0" y="96.51" width="1" height="0.49" fill-opacity="0.81"/><rect x="439.0" y="103.42" width="1" height="5.14" fill-opacity="0.10"/><rect x="440.0" y="90.01" width="1" height="0.18" fill-opacity="0.84"/><rect x="440.0" y="96.42" width="1" height="0.58" fill-opacity="0.98"/><rect x="440.0" y="103.92" width="1" height="5.26" fill-opacity="0.84"/><rect x="440.0" y="97.00" width="1" height="0.13" fill-opacity="0.98"/><rect x="441.0" y="89.21" width="1" height="0.53" fill-opacity="0.84"/><rect x="441.0" y="96.32" width="1" height="0.68" fill-opacity="0.81"/><rect x="441.0" y="104.40" width="1" height="5.41" fill-opacity="0.84"/><rect x="441.0" y="97.00" width="1" height="0.24" fill-opacity="0.81"/><rect x="442.0" y="88.40" width="1" height="0.91" fill-opacity="0.84"/><rect x="442.0" y="96.19" width="1" height="0.81" fill-opacity="0.50"/><rect x="442.0" y="104.85" width="1" height="5.57" fill-opacity="0.84"/><rect x="442.0" y="97.00" width="1" height="0.37" fill-opacity="0.50"/><rect x="443.0" y="12.00" width="1" height="0.52" fill-opacity="0.65"/><rect x="443.0" y="87.60" width="1" height="1.30" fill-opacity="0.03"/><rect x="443.0" y="96.04" width="1" height="0.96" fill-opacity="0.92"/><rect x="443.0" y="181.48" width="1" height="0.52" fill-opacity="0.60"/><rect x="443.0" y="105.29" width="1" height="5.76" fill-opacity="0.03"/><rect x="443.0" y="97.00" width="1" height="0.53" fill-opacity="0.92"/><rect x="444.0" y="12.00" width="1" height="1.10" fill-opacity="0.63"/><rect x="444.0" y="86.80" width="1" height="1.71" fill-opacity="0.03"/><rect x="444.0" y="95.88" width="1" height="1.12" fill-opacity="0.88"/><rect x="444.0" y="180.90" width="1" height="1.10" fill-opacity="0.58"/><rect x="444.0" y="105.70" width="1" height="5.97" fill-opacity="0.03"/><rect x="444.0" y="97.00" width="1" height="0.70" fill-opacity="0.88"/><rect x="445.0" y="12.00" width="1" height="1.68" fill-opacity="0.78"/><rect x="445.0" y="85.99" width="1" height="2.14" fill-opacity="0.85"/><rect x="445.0" y="95.70" width="1" height="1.30" fill-opacity="0.97"/><rect x="445.0" y="180.32" width="1" height="1.68" fill-opacity="0.72"/><rect x="445.0" y="106.09" width="1" height="6.20" fill-opacity="0.85"/><rect x="445.0" y="97.00" width="1" height="0.90" fill-opacity="0.97"/><rect x="446.0" y="12.00" width="1" height="2.25" fill-opacity="0.69"/><rect x="446.0" y="85.19" width="1" height="2.59" fill-opacity="0.05"/><rect x="446.0" y="95.50" width="1" height="1.50" fill-opacity="0.88"/><rect x="446.0" y="179.75" width="1" height="2.25" fill-opacity="0.63"/><rect x="446.0" y="106.47" width="1" height="6.45" fill-opacity="0.05"/><rect x="446.0" y="97.00" width="1" height="1.11" fill-opacity="0.88"/><rect x="447.0" y="12.00" width="1" height="2.80" fill-opacity="0.79"/><rect x="447.0" y="84.39" width="1" height="3.06" fill-opacity="0.05"/><rect x="447.0" y="95.28" width="1" height="1.72" fill-opacity="1.00"/><rect x="447.0" y="179.20" width="1" height="2.80" fill-opacity="0.73"/><rect x="447.0" y="106.82" width="1" height="6.72" fill-opacity="0.05"/><rect x="447.0" y="97.00" width="1" height="1.35" fill-opacity="1.00"/><rect x="448.0" y="12.00" width="1" height="3.29" fill-opacity="0.68"/><rect x="448.0" y="83.58" width="1" height="3.54" fill-opacity="0.86"/><rect x="448.0" y="95.05" width="1" height="1.95" fill-opacity="0.94"/><rect x="448.0" y="178.71" width="1" height="3.29" fill-opacity="0.63"/><rect x="448.0" y="107.15" width="1" height="7.11" fill-opacity="0.86"/><rect x="448.0" y="97.00" width="1" height="1.60" fill-opacity="0.94"/><rect x="449.0" y="12.00" width="1" height="3.78" fill-opacity="0.71"/><rect x="449.0" y="82.78" width="1" height="4.04" fill-opacity="0.12"/><rect x="449.0" y="94.80" width="1" height="2.20" fill-opacity="0.87"/><rect x="449.0" y="178.22" width="1" height="3.78" fill-opacity="0.66"/><rect x="449.0" y="107.47" width="1" height="7.52" fill-opacity="0.12"/><rect x="449.0" y="97.00" width="1" height="1.88" fill-opacity="0.87"/><rect x="450.0" y="12.00" width="1" height="4.28" fill-opacity="0.69"/><rect x="450.0" y="81.98" width="1" height="4.55" fill-opacity="0.12"/><rect x="450.0" y="94.53" width="1" height="2.47" fill-opacity="0.93"/><rect x="450.0" y="177.72" width="1" height="4.28" fill-opacity="0.64"/><rect x="450.0" y="107.77" width="1" height="7.96" fill-opacity="0.12"/><rect x="450.0" y="97.00" width="1" height="2.17" fill-opacity="0.93"/><rect x="451.0" y="12.00" width="1" height="4.77" fill-opacity="0.66"/><rect x="451.0" y="81.17" width="1" height="5.08" fill-opacity="0.83"/><rect x="451.0" y="94.24" width="1" height="2.76" fill-opacity="0.90"/><rect x="451.0" y="177.23" width="1" height="4.77" fill-opacity="0.61"/><rect x="451.0" y="108.04" width="1" height="8.42" fill-opacity="0.83"/><rect x="451.0" y="97.00" width="1" height="2.48" fill-opacity="0.90"/><rect x="452.0" y="12.00" width="1" height="5.26" fill-opacity="0.49"/><rect x="452.0" y="80.37" width="1" height="5.63" fill-opacity="0.09"/><rect x="452.0" y="93.94" width="1" height="3.06" fill-opacity="0.80"/><rect x="452.0" y="176.74" width="1" height="5.26" fill-opacity="0.45"/><rect x="452.0" y="108.30" width="1" height="8.89" fill-opacity="0.09"/><rect x="452.0" y="97.00" width="1" height="2.81" fill-opacity="0.80"/><rect x="453.0" y="12.00" width="1" height="5.75" fill-opacity="0.58"/><rect x="453.0" y="79.57" width="1" height="6.20" fill-opacity="0.92"/><rect x="453.0" y="93.62" width="1" height="3.38" fill-opacity="0.82"/><rect x="453.0" y="176.25" width="1" height="5.75" fill-opacity="0.54"/><rect x="453.0" y="108.54" width="1" height="9.39" fill-opacity="0.92"/><rect x="453.0" y="97.00" width="1" height="3.16" fill-opacity="0.82"/><rect x="454.0" y="12.00" width="1" height="6.31" fill-opacity="0.69"/><rect x="454.0" y="78.76" width="1" height="6.78" fill-opacity="0.92"/><rect x="454.0" y="93.29" width="1" height="3.71" fill-opacity="0.89"/><rect x="454.0" y="175.69" width="1" height="6.31" fill-opacity="0.63"/><rect x="454.0" y="108.76" width="1" height="9.90" fill-opacity="0.92"/><rect x="454.0" y="97.00" width="1" height="3.53" fill-opacity="0.89"/><rect x="455.0" y="12.00" width="1" height="6.93" fill-opacity="0.43"/><rect x="455.0" y="77.96" width="1" height="7.38" fill-opacity="0.92"/><rect x="455.0" y="92.94" width="1" height="4.06" fill-opacity="0.72"/><rect x="455.0" y="175.07" width="1" height="6.93" fill-opacity="0.40"/><rect x="455.0" y="108.96" width="1" height="10.43" fill-opacity="0.92"/><rect x="455.0" y="97.00" width="1" height="3.92" fill-opacity="0.72"/><rect x="456.0" y="12.00" width="1" height="7.56" fill-opacity="0.41"/><rect x="456.0" y="77.16" width="1" height="8.00" fill-opacity="0.07"/><rect x="456.0" y="92.57" width="1" height="4.43" fill-opacity="0.64"/><rect x="456.0" y="174.44" width="1" height="7.56" fill-opacity="0.38"/><rect x="456.0" y="109.14" width="1" height="10.99" fill-opacity="0.07"/><rect x="456.0" y="97.00" width="1" height="4.33" fill-opacity="0.64"/><rect x="457.0" y="12.00" width="1" height="8.18" fill-opacity="0.38"/><rect x="457.0" y="76.35" width="1" height="8.63" fill-opacity="0.07"/><rect x="457.0" y="92.18" width="1" height="4.82" fill-opacity="0.64"/><rect x="457.0" y="173.82" width="1" height="8.18" fill-opacity="0.35"/><rect x="457.0" y="109.30" width="1" height="11.56" fill-opacity="0.07"/><rect x="457.0" y="97.00" width="1" height="4.76" fill-opacity="0.64"/><rect x="458.0" y="12.00" width="1" height="8.80" fill-opacity="0.58"/><rect x="458.0" y="75.55" width="1" height="9.29" fill-opacity="0.85"/><rect x="458.0" y="91.77" width="1" height="5.23" fill-opacity="0.83"/><rect x="458.0" y="173.20" width="1" height="8.80" fill-opacity="0.54"/><rect x="458.0" y="109.44" width="1" height="12.16" fill-opacity="0.85"/><rect x="458.0" y="97.00" width="1" height="5.21" fill-opacity="0.83"/><rect x="459.0" y="12.00" width="1" height="9.43" fill-opacity="0.33"/><rect x="459.0" y="74.75" width="1" height="9.96" fill-opacity="0.85"/><rect x="459.0" y="91.35" width="1" height="5.65" fill-opacity="0.60"/><rect x="459.0" y="172.57" width="1" height="9.43" fill-opacity="0.31"/><rect x="459.0" y="109.55" width="1" height="12.78" fill-opacity="0.85"/><rect x="459.0" y="97.00" width="1" height="5.68" fill-opacity="0.60"/><rect x="460.0" y="12.00" width="1" height="10.05" fill-opacity="0.36"/><rect x="460.0" y="73.94" width="1" height="10.65" fill-opacity="0.85"/><rect x="460.0" y="90.90" width="1" height="6.10" fill-opacity="0.68"/><rect x="460.0" y="171.95" width="1" height="10.05" fill-opacity="0.33"/><rect x="460.0" y="109.64" width="1" height="13.42" fill-opacity="0.85"/><rect x="460.0" y="97.00" width="1" height="6.18" fill-opacity="0.68"/><rect x="461.0" y="12.00" width="1" height="10.75" fill-opacity="0.61"/><rect x="461.0" y="73.14" width="1" height="11.37" fill-opacity="0.09"/><rect x="461.0" y="90.44" width="1" height="6.56" fill-opacity="0.88"/><rect x="461.0" y="171.25" width="1" height="10.75" fill-opacity="0.56"/><rect x="461.0" y="109.71" width="1" height="14.09" fill-opacity="0.09"/><rect x="461.0" y="97.00" width="1" height="6.70" fill-opacity="0.88"/><rect x="462.0" y="12.00" width="1" height="11.51" fill-opacity="0.68"/><rect x="462.0" y="72.34" width="1" height="12.10" fill-opacity="0.90"/><rect x="462.0" y="89.95" width="1" height="7.05" fill-opacity="0.91"/><rect x="462.0" y="170.49" width="1" height="11.51" fill-opacity="0.62"/><rect x="462.0" y="109.74" width="1" height="14.78" fill-opacity="0.90"/><rect x="462.0" y="97.00" width="1" height="7.25" fill-opacity="0.91"/><rect x="463.0" y="12.00" width="1" height="12.26" fill-opacity="0.56"/><rect x="463.0" y="71.53" width="1" height="12.87" fill-opacity="0.90"/><rect x="463.0" y="89.43" width="1" height="7.57" fill-opacity="0.76"/><rect x="463.0" y="169.74" width="1" height="12.26" fill-opacity="0.52"/><rect x="463.0" y="109.74" width="1" height="15.52" fill-opacity="0.90"/><rect x="463.0" y="97.00" width="1" height="7.84" fill-opacity="0.76"/><rect x="464.0" y="12.00" width="1" height="13.01" fill-opacity="0.72"/><rect x="464.0" y="70.73" width="1" height="13.66" fill-opacity="0.13"/><rect x="464.0" y="88.89" width="1" height="8.11" fill-opacity="0.93"/><rect x="464.0" y="168.99" width="1" height="13.01" fill-opacity="0.67"/><rect x="464.0" y="109.70" width="1" height="16.29" fill-opacity="0.13"/><rect x="464.0" y="97.00" width="1" height="8.48" fill-opacity="0.93"/><rect x="465.0" y="12.00" width="1" height="13.77" fill-opacity="0.76"/><rect x="465.0" y="69.93" width="1" height="14.50" fill-opacity="0.13"/><rect x="465.0" y="88.30" width="1" height="8.70" fill-opacity="0.93"/><rect x="465.0" y="168.23" width="1" height="13.77" fill-opacity="0.70"/><rect x="465.0" y="109.59" width="1" height="17.13" fill-opacity="0.13"/><rect x="465.0" y="97.00" width="1" height="9.17" fill-opacity="0.93"/><rect x="466.0" y="12.00" width="1" height="14.52" fill-opacity="0.57"/><rect x="466.0" y="69.12" width="1" height="15.39" fill-opacity="0.13"/><rect x="466.0" y="87.65" width="1" height="9.35" fill-opacity="0.86"/><rect x="466.0" y="167.48" width="1" height="14.52" fill-opacity="0.53"/><rect x="466.0" y="109.38" width="1" height="18.08" fill-opacity="0.13"/><rect x="466.0" y="97.00" width="1" height="9.97" fill-opacity="0.86"/><rect x="467.0" y="12.00" width="1" height="15.27" fill-opacity="0.31"/><rect x="467.0" y="68.32" width="1" height="16.39" fill-opacity="0.94"/><rect x="467.0" y="86.91" width="1" height="10.09" fill-opacity="0.55"/><rect x="467.0" y="166.73" width="1" height="15.27" fill-opacity="0.29"/><rect x="467.0" y="108.79" width="1" height="19.40" fill-opacity="0.94"/><rect x="467.0" y="97.00" width="1" height="11.15" fill-opacity="0.55"/><rect x="468.0" y="12.00" width="1" height="16.09" fill-opacity="0.56"/><rect x="468.0" y="67.52" width="1" height="17.72" fill-opacity="0.94"/><rect x="468.0" y="85.82" width="1" height="11.18" fill-opacity="0.81"/><rect x="468.0" y="165.91" width="1" height="16.09" fill-opacity="0.51"/><rect x="468.0" y="109.09" width="1" height="19.83" fill-opacity="0.94"/><rect x="468.0" y="97.00" width="1" height="12.09" fill-opacity="0.81"/><rect x="469.0" y="12.00" width="1" height="16.93" fill-opacity="0.71"/><rect x="469.0" y="66.71" width="1" height="18.15" fill-opacity="0.03"/><rect x="469.0" y="84.86" width="1" height="12.14" fill-opacity="0.94"/><rect x="469.0" y="165.07" width="1" height="16.93" fill-opacity="0.65"/><rect x="469.0" y="109.75" width="1" height="19.97" fill-opacity="0.03"/><rect x="469.0" y="97.00" width="1" height="12.75" fill-opacity="0.94"/><rect x="470.0" y="12.00" width="1" height="17.78" fill-opacity="0.49"/><rect x="470.0" y="65.91" width="1" height="18.24" fill-opacity="0.99"/><rect x="470.0" y="84.15" width="1" height="12.85" fill-opacity="0.71"/><rect x="470.0" y="164.22" width="1" height="17.78" fill-opacity="0.45"/><rect x="470.0" y="110.41" width="1" height="20.11" fill-opacity="0.99"/><rect x="470.0" y="97.00" width="1" height="13.41" fill-opacity="0.71"/><rect x="471.0" y="12.00" width="1" height="18.62" fill-opacity="0.78"/><rect x="471.0" y="65.10" width="1" height="18.34" fill-opacity="0.99"/><rect x="471.0" y="83.44" width="1" height="13.56" fill-opacity="0.93"/><rect x="471.0" y="163.38" width="1" height="18.62" fill-opacity="0.72"/><rect x="471.0" y="111.07" width="1" height="20.25" fill-opacity="0.99"/><rect x="471.0" y="97.00" width="1" height="14.07" fill-opacity="0.93"/><rect x="472.0" y="12.00" width="1" height="19.46" fill-opacity="0.64"/><rect x="472.0" y="64.30" width="1" height="18.43" fill-opacity="0.08"/><rect x="472.0" y="82.74" width="1" height="14.26" fill-opacity="0.83"/><rect x="472.0" y="162.54" width="1" height="19.46" fill-opacity="0.59"/><rect x="472.0" y="111.73" width="1" height="20.39" fill-opacity="0.08"/><rect x="472.0" y="97.00" width="1" height="14.73" fill-opacity="0.83"/><rect x="473.0" y="12.00" width="1" height="20.30" fill-opacity="0.25"/><rect x="473.0" y="63.50" width="1" height="18.53" fill-opacity="0.08"/><rect x="473.0" y="82.03" width="1" height="14.97" fill-opacity="0.46"/><rect x="473.0" y="161.70" width="1" height="20.30" fill-opacity="0.23"/><rect x="473.0" y="112.39" width="1" height="20.53" fill-opacity="0.08"/><rect x="473.0" y="97.00" width="1" height="15.39" fill-opacity="0.46"/><rect x="474.0" y="12.00" width="1" height="21.12" fill-opacity="0.59"/><rect x="474.0" y="62.69" width="1" height="18.62" fill-opacity="0.08"/><rect x="474.0" y="81.32" width="1" height="15.68" fill-opacity="0.80"/><rect x="474.0" y="160.88" width="1" height="21.12" fill-opacity="0.55"/><rect x="474.0" y="113.05" width="1" height="20.67" fill-opacity="0.08"/><rect x="474.0" y="97.00" width="1" height="16.05" fill-opacity="0.80"/><rect x="475.0" y="12.00" width="1" height="21.95" fill-opacity="0.62"/><rect x="475.0" y="61.89" width="1" height="18.72" fill-opacity="0.81"/><rect x="475.0" y="80.61" width="1" height="16.39" fill-opacity="0.89"/><rect x="475.0" y="160.05" width="1" height="21.95" fill-opacity="0.57"/><rect x="475.0" y="113.71" width="1" height="20.81" fill-opacity="0.81"/><rect x="475.0" y="97.00" width="1" height="16.71" fill-opacity="0.89"/><rect x="476.0" y="12.00" width="1" height="22.78" fill-opacity="0.50"/><rect x="476.0" y="61.09" width="1" height="18.81" fill-opacity="0.90"/><rect x="476.0" y="79.90" width="1" height="17.10" fill-opacity="0.77"/><rect x="476.0" y="159.22" width="1" height="22.78" fill-opacity="0.46"/><rect x="476.0" y="114.37" width="1" height="20.95" fill-opacity="0.90"/><rect x="476.0" y="97.00" width="1" height="17.37" fill-opacity="0.77"/><rect x="477.0" y="12.00" width="1" height="23.60" fill-opacity="0.47"/><rect x="477.0" y="60.16" width="1" height="19.03" fill-opacity="0.95"/><rect x="477.0" y="79.19" width="1" height="17.81" fill-opacity="0.78"/><rect x="477.0" y="158.40" width="1" height="23.60" fill-opacity="0.43"/><rect x="477.0" y="115.03" width="1" height="21.09" fill-opacity="0.95"/><rect x="477.0" y="97.00" width="1" height="18.03" fill-opacity="0.78"/><rect x="478.0" y="12.00" width="1" height="24.50" fill-opacity="0.49"/><rect x="478.0" y="59.04" width="1" height="19.45" fill-opacity="0.13"/><rect x="478.0" y="78.48" width="1" height="18.52" fill-opacity="0.76"/><rect x="478.0" y="157.50" width="1" height="24.50" fill-opacity="0.45"/><rect x="478.0" y="115.69" width="1" height="21.23" fill-opacity="0.13"/><rect x="478.0" y="97.00" width="1" height="18.69" fill-opacity="0.76"/><rect x="479.0" y="12.00" width="1" height="25.50" fill-opacity="0.68"/><rect x="479.0" y="57.91" width="1" height="19.86" fill-opacity="0.82"/><rect x="479.0" y="77.77" width="1" height="19.23" fill-opacity="0.92"/><rect x="479.0" y="156.50" width="1" height="25.50" fill-opacity="0.62"/><rect x="479.0" y="116.35" width="1" height="21.37" fill-opacity="0.82"/><rect x="479.0" y="97.00" width="1" height="19.35" fill-opacity="0.92"/><rect x="480.0" y="12.00" width="1" height="26.50" fill-opacity="0.53"/><rect x="480.0" y="56.79" width="1" height="20.27" fill-opacity="0.82"/><rect x="480.0" y="77.06" width="1" height="19.94" fill-opacity="0.75"/><rect x="480.0" y="155.50" width="1" height="26.50" fill-opacity="0.49"/><rect x="480.0" y="117.01" width="1" height="21.51" fill-opacity="0.82"/><rect x="480.0" y="97.00" width="1" height="20.01" fill-opacity="0.75"/><rect x="481.0" y="12.00" width="1" height="27.50" fill-opacity="0.09"/><rect x="481.0" y="55.67" width="1" height="20.68" fill-opacity="0.04"/><rect x="481.0" y="76.35" width="1" height="20.65" fill-opacity="0.33"/><rect x="481.0" y="154.50" width="1" height="27.50" fill-opacity="0.09"/><rect x="481.0" y="117.67" width="1" height="21.65" fill-opacity="0.04"/><rect x="481.0" y="97.00" width="1" height="20.67" fill-opacity="0.33"/><rect x="482.0" y="12.00" width="1" height="28.50" fill-opacity="0.06"/><rect x="482.0" y="54.55" width="1" height="21.16" fill-opacity="0.85"/><rect x="482.0" y="75.71" width="1" height="21.29" fill-opacity="0.26"/><rect x="482.0" y="153.50" width="1" height="28.50" fill-opacity="0.06"/><rect x="482.0" y="118.29" width="1" height="21.83" fill-opacity="0.85"/><rect x="482.0" y="97.00" width="1" height="21.29" fill-opacity="0.26"/><rect x="483.0" y="12.00" width="1" height="29.60" fill-opacity="0.55"/><rect x="483.0" y="53.43" width="1" height="21.70" fill-opacity="0.85"/><rect x="483.0" y="75.12" width="1" height="21.88" fill-opacity="0.81"/><rect x="483.0" y="152.40" width="1" height="29.60" fill-opacity="0.51"/><rect x="483.0" y="118.88" width="1" height="22.04" fill-opacity="0.85"/><rect x="483.0" y="97.00" width="1" height="21.88" fill-opacity="0.81"/><rect x="484.0" y="12.00" width="1" height="31.10" fill-opacity="0.58"/><rect x="484.0" y="52.31" width="1" height="22.24" fill-opacity="0.90"/><rect x="484.0" y="74.54" width="1" height="22.46" fill-opacity="0.82"/><rect x="484.0" y="150.90" width="1" height="31.10" fill-opacity="0.54"/><rect x="484.0" y="119.46" width="1" height="22.26" fill-opacity="0.90"/><rect x="484.0" y="97.00" width="1" height="22.46" fill-opacity="0.82"/><rect x="485.0" y="12.00" width="1" height="32.60" fill-opacity="0.65"/><rect x="485.0" y="51.18" width="1" height="22.77" fill-opacity="0.90"/><rect x="485.0" y="73.96" width="1" height="23.04" fill-opacity="0.85"/><rect x="485.0" y="149.40" width="1" height="32.60" fill-opacity="0.60"/><rect x="485.0" y="120.04" width="1" height="22.77" fill-opacity="0.90"/><rect x="485.0" y="97.00" width="1" height="23.04" fill-opacity="0.85"/><rect x="486.0" y="12.00" width="1" height="34.10" fill-opacity="0.67"/><rect x="486.0" y="50.06" width="1" height="23.31" fill-opacity="0.91"/><rect x="486.0" y="73.38" width="1" height="23.62" fill-opacity="0.92"/><rect x="486.0" y="147.90" width="1" height="34.10" fill-opacity="0.62"/><rect x="486.0" y="120.62" width="1" height="23.31" fill-opacity="0.91"/><rect x="486.0" y="97.00" width="1" height="23.62" fill-opacity="0.92"/><rect x="487.0" y="12.00" width="1" height="35.60" fill-opacity="0.58"/><rect x="487.0" y="48.94" width="1" height="23.85" fill-opacity="0.12"/><rect x="487.0" y="72.79" width="1" height="24.21" fill-opacity="0.81"/><rect x="487.0" y="146.40" width="1" height="35.60" fill-opacity="0.53"/><rect x="487.0" y="121.21" width="1" height="23.85" fill-opacity="0.12"/><rect x="487.0" y="97.00" width="1" height="24.21" fill-opacity="0.81"/><rect x="488.0" y="12.00" width="1" height="27.45" fill-opacity="0.09"/><rect x="488.0" y="39.45" width="1" height="12.00" fill-opacity="0.08"/><rect x="488.0" y="51.45" width="1" height="20.76" fill-opacity="0.90"/><rect x="488.0" y="72.21" width="1" height="24.79" fill-opacity="0.30"/><rect x="488.0" y="154.55" width="1" height="27.45" fill-opacity="0.08"/><rect x="488.0" y="142.55" width="1" height="12.00" fill-opacity="0.08"/><rect x="488.0" y="121.79" width="1" height="20.76" fill-opacity="0.90"/><rect x="488.0" y="97.00" width="1" height="24.79" fill-opacity="0.30"/><rect x="489.0" y="12.00" width="1" height="26.64" fill-opacity="0.15"/><rect x="489.0" y="38.64" width="1" height="12.00" fill-opacity="0.14"/><rect x="489.0" y="50.64" width="1" height="20.98" fill-opacity="0.86"/><rect x="489.0" y="71.63" width="1" height="25.37" fill-opacity="0.38"/><rect x="489.0" y="155.36" width="1" height="26.64" fill-opacity="0.14"/><rect x="489.0" y="143.36" width="1" height="12.00" fill-opacity="0.13"/><rect x="489.0" y="122.37" width="1" height="20.98" fill-opacity="0.86"/><rect x="489.0" y="97.00" width="1" height="25.37" fill-opacity="0.38"/><rect x="490.0" y="12.00" width="1" height="25.84" fill-opacity="0.08"/><rect x="490.0" y="37.84" width="1" height="12.00" fill-opacity="0.07"/><rect x="490.0" y="49.84" width="1" height="21.20" fill-opacity="0.86"/><rect x="490.0" y="71.04" width="1" height="25.96" fill-opacity="0.30"/><rect x="490.0" y="156.16" width="1" height="25.84" fill-opacity="0.07"/><rect x="490.0" y="144.16" width="1" height="12.00" fill-opacity="0.06"/><rect x="490.0" y="122.96" width="1" height="21.20" fill-opacity="0.86"/><rect x="490.0" y="97.00" width="1" height="25.96" fill-opacity="0.30"/><rect x="491.0" y="12.00" width="1" height="25.04" fill-opacity="0.12"/><rect x="491.0" y="37.04" width="1" height="12.00" fill-opacity="0.11"/><rect x="491.0" y="49.04" width="1" height="21.42" fill-opacity="0.90"/><rect x="491.0" y="70.46" width="1" height="26.54" fill-opacity="0.35"/><rect x="491.0" y="156.96" width="1" height="25.04" fill-opacity="0.11"/><rect x="491.0" y="144.96" width="1" height="12.00" fill-opacity="0.10"/><rect x="491.0" y="123.54" width="1" height="21.42" fill-opacity="0.90"/><rect x="491.0" y="97.00" width="1" height="26.54" fill-opacity="0.35"/><rect x="492.0" y="12.00" width="1" height="24.23" fill-opacity="0.55"/><rect x="492.0" y="36.23" width="1" height="12.00" fill-opacity="0.51"/><rect x="492.0" y="48.23" width="1" height="21.65" fill-opacity="0.07"/><rect x="492.0" y="69.88" width="1" height="27.12" fill-opacity="0.84"/><rect x="492.0" y="157.77" width="1" height="24.23" fill-opacity="0.51"/><rect x="492.0" y="145.77" width="1" height="12.00" fill-opacity="0.47"/><rect x="492.0" y="124.12" width="1" height="21.65" fill-opacity="0.07"/><rect x="492.0" y="97.00" width="1" height="27.12" fill-opacity="0.84"/><rect x="493.0" y="12.00" width="1" height="23.43" fill-opacity="0.46"/><rect x="493.0" y="35.43" width="1" height="12.00" fill-opacity="0.43"/><rect x="493.0" y="47.43" width="1" height="21.88" fill-opacity="0.88"/><rect x="493.0" y="69.31" width="1" height="27.69" fill-opacity="0.75"/><rect x="493.0" y="158.57" width="1" height="23.43" fill-opacity="0.43"/><rect x="493.0" y="146.57" width="1" height="12.00" fill-opacity="0.39"/><rect x="493.0" y="124.69" width="1" height="21.88" fill-opacity="0.88"/><rect x="493.0" y="97.00" width="1" height="27.69" fill-opacity="0.75"/><rect x="494.0" y="12.00" width="1" height="22.63" fill-opacity="0.77"/><rect x="494.0" y="34.63" width="1" height="12.00" fill-opacity="0.71"/><rect x="494.0" y="46.63" width="1" height="22.11" fill-opacity="0.88"/><rect x="494.0" y="68.73" width="1" height="28.27" fill-opacity="0.97"/><rect x="494.0" y="159.37" width="1" height="22.63" fill-opacity="0.71"/><rect x="494.0" y="147.37" width="1" height="12.00" fill-opacity="0.65"/><rect x="494.0" y="125.27" width="1" height="22.11" fill-opacity="0.88"/><rect x="494.0" y="97.00" width="1" height="28.27" fill-opacity="0.97"/><rect x="495.0" y="12.00" width="1" height="21.82" fill-opacity="0.16"/><rect x="495.0" y="33.82" width="1" height="12.00" fill-opacity="0.15"/><rect x="495.0" y="45.82" width="1" height="22.33" fill-opacity="0.90"/><rect x="495.0" y="68.16" width="1" height="28.84" fill-opacity="0.36"/><rect x="495.0" y="160.18" width="1" height="21.82" fill-opacity="0.15"/><rect x="495.0" y="148.18" width="1" height="12.00" fill-opacity="0.13"/><rect x="495.0" y="125.84" width="1" height="22.33" fill-opacity="0.90"/><rect x="495.0" y="97.00" width="1" height="28.84" fill-opacity="0.36"/><rect x="496.0" y="12.00" width="1" height="21.02" fill-opacity="0.09"/><rect x="496.0" y="33.02" width="1" height="12.00" fill-opacity="0.08"/><rect x="496.0" y="45.02" width="1" height="22.56" fill-opacity="0.90"/><rect x="496.0" y="67.58" width="1" height="29.42" fill-opacity="0.31"/><rect x="496.0" y="160.98" width="1" height="21.02" fill-opacity="0.08"/><rect x="496.0" y="148.98" width="1" height="12.00" fill-opacity="0.07"/><rect x="496.0" y="126.42" width="1" height="22.56" fill-opacity="0.90"/><rect x="496.0" y="97.00" width="1" height="29.42" fill-opacity="0.31"/><rect x="497.0" y="12.00" width="1" height="20.22" fill-opacity="0.67"/><rect x="497.0" y="32.22" width="1" height="12.00" fill-opacity="0.61"/><rect x="497.0" y="44.22" width="1" height="22.79" fill-opacity="0.89"/><rect x="497.0" y="67.01" width="1" height="29.99" fill-opacity="0.92"/><rect x="497.0" y="161.78" width="1" height="20.22" fill-opacity="0.61"/><rect x="497.0" y="149.78" width="1" height="12.00" fill-opacity="0.56"/><rect x="497.0" y="126.99" width="1" height="22.79" fill-opacity="0.89"/><rect x="497.0" y="97.00" width="1" height="29.99" fill-opacity="0.92"/><rect x="498.0" y="12.00" width="1" height="19.41" fill-opacity="0.73"/><rect x="498.0" y="31.41" width="1" height="12.00" fill-opacity="0.67"/><rect x="498.0" y="43.41" width="1" height="23.02" fill-opacity="0.89"/><rect x="498.0" y="66.43" width="1" height="30.57" fill-opacity="0.97"/><rect x="498.0" y="162.59" width="1" height="19.41" fill-opacity="0.67"/><rect x="498.0" y="150.59" width="1" height="12.00" fill-opacity="0.62"/><rect x="498.0" y="127.57" width="1" height="23.02" fill-opacity="0.89"/><rect x="498.0" y="97.00" width="1" height="30.57" fill-opacity="0.97"/><rect x="499.0" y="12.00" width="1" height="18.61" fill-opacity="0.62"/><rect x="499.0" y="30.61" width="1" height="12.00" fill-opacity="0.57"/><rect x="499.0" y="42.61" width="1" height="23.25" fill-opacity="0.11"/><rect x="499.0" y="65.86" width="1" height="31.14" fill-opacity="0.82"/><rect x="499.0" y="163.39" width="1" height="18.61" fill-opacity="0.57"/><rect x="499.0" y="151.39" width="1" height="12.00" fill-opacity="0.53"/><rect x="499.0" y="128.14" width="1" height="23.25" fill-opacity="0.11"/><rect x="499.0" y="97.00" width="1" height="31.14" fill-opacity="0.82"/><rect x="500.0" y="12.00" width="1" height="17.81" fill-opacity="0.70"/><rect x="500.0" y="29.81" width="1" height="12.00" fill-opacity="0.64"/><rect x="500.0" y="41.81" width="1" height="23.48" fill-opacity="0.87"/><rect x="500.0" y="65.28" width="1" height="31.72" fill-opacity="0.93"/><rect x="500.0" y="164.19" width="1" height="17.81" fill-opacity="0.64"/><rect x="500.0" y="152.19" width="1" height="12.00" fill-opacity="0.59"/><rect x="500.0" y="128.72" width="1" height="23.48" fill-opacity="0.87"/><rect x="500.0" y="97.00" width="1" height="31.72" fill-opacity="0.93"/><rect x="501.0" y="12.00" width="1" height="17.00" fill-opacity="0.57"/><rect x="501.0" y="29.00" width="1" height="12.00" fill-opacity="0.53"/><rect x="501.0" y="41.00" width="1" height="23.70" fill-opacity="0.87"/><rect x="501.0" y="64.71" width="1" height="32.29" fill-opacity="0.79"/><rect x="501.0" y="165.00" width="1" height="17.00" fill-opacity="0.53"/><rect x="501.0" y="153.00" width="1" height="12.00" fill-opacity="0.48"/><rect x="501.0" y="129.29" width="1" height="23.70" fill-opacity="0.87"/><rect x="501.0" y="97.00" width="1" height="32.29" fill-opacity="0.79"/><rect x="502.0" y="12.00" width="1" height="16.20" fill-opacity="0.47"/><rect x="502.0" y="28.20" width="1" height="12.00" fill-opacity="0.43"/><rect x="502.0" y="40.20" width="1" height="23.93" fill-opacity="0.90"/><rect x="502.0" y="64.13" width="1" height="32.87" fill-opacity="0.77"/><rect x="502.0" y="165.80" width="1" height="16.20" fill-opacity="0.43"/><rect x="502.0" y="153.80" width="1" height="12.00" fill-opacity="0.39"/><rect x="502.0" y="129.87" width="1" height="23.93" fill-opacity="0.90"/><rect x="502.0" y="97.00" width="1" height="32.87" fill-opacity="0.77"/><rect x="503.0" y="12.00" width="1" height="15.40" fill-opacity="0.55"/><rect x="503.0" y="27.40" width="1" height="12.00" fill-opacity="0.50"/><rect x="503.0" y="39.40" width="1" height="24.16" fill-opacity="0.90"/><rect x="503.0" y="63.56" width="1" height="33.44" fill-opacity="0.82"/><rect x="503.0" y="166.60" width="1" height="15.40" fill-opacity="0.50"/><rect x="503.0" y="154.60" width="1" height="12.00" fill-opacity="0.46"/><rect x="503.0" y="130.44" width="1" height="24.16" fill-opacity="0.90"/><rect x="503.0" y="97.00" width="1" height="33.44" fill-opacity="0.82"/><rect x="504.0" y="12.00" width="1" height="14.59" fill-opacity="0.85"/><rect x="504.0" y="26.59" width="1" height="12.00" fill-opacity="0.78"/><rect x="504.0" y="38.59" width="1" height="58.41" fill-opacity="0.98"/><rect x="504.0" y="167.41" width="1" height="14.59" fill-opacity="0.78"/><rect x="504.0" y="155.41" width="1" height="12.00" fill-opacity="0.72"/><rect x="504.0" y="97.00" width="1" height="58.41" fill-opacity="0.98"/><rect x="505.0" y="12.00" width="1" height="13.79" fill-opacity="0.48"/><rect x="505.0" y="25.79" width="1" height="12.00" fill-opacity="0.44"/><rect x="505.0" y="37.79" width="1" height="59.21" fill-opacity="0.74"/><rect x="505.0" y="168.21" width="1" height="13.79" fill-opacity="0.44"/><rect x="505.0" y="156.21" width="1" height="12.00" fill-opacity="0.41"/><rect x="505.0" y="97.00" width="1" height="59.21" fill-opacity="0.74"/><rect x="506.0" y="12.00" width="1" height="12.99" fill-opacity="0.05"/><rect x="506.0" y="24.99" width="1" height="12.00" fill-opacity="0.05"/><rect x="506.0" y="36.99" width="1" height="60.01" fill-opacity="0.21"/><rect x="506.0" y="169.01" width="1" height="12.99" fill-opacity="0.05"/><rect x="506.0" y="157.01" width="1" height="12.00" fill-opacity="0.04"/><rect x="506.0" y="97.00" width="1" height="60.01" fill-opacity="0.21"/><rect x="507.0" y="12.00" width="1" height="12.18" fill-opacity="0.17"/><rect x="507.0" y="24.18" width="1" height="12.00" fill-opacity="0.16"/><rect x="507.0" y="36.18" width="1" height="60.82" fill-opacity="0.40"/><rect x="507.0" y="169.82" width="1" height="12.18" fill-opacity="0.16"/><rect x="507.0" y="157.82" width="1" height="12.00" fill-opacity="0.14"/><rect x="507.0" y="97.00" width="1" height="60.82" fill-opacity="0.40"/><rect x="508.0" y="12.00" width="1" height="11.38" fill-opacity="0.71"/><rect x="508.0" y="23.38" width="1" height="12.00" fill-opacity="0.66"/><rect x="508.0" y="35.38" width="1" height="61.62" fill-opacity="0.91"/><rect x="508.0" y="170.62" width="1" height="11.38" fill-opacity="0.66"/><rect x="508.0" y="158.62" width="1" height="12.00" fill-opacity="0.60"/><rect x="508.0" y="97.00" width="1" height="61.62" fill-opacity="0.91"/><rect x="509.0" y="12.00" width="1" height="10.58" fill-opacity="0.24"/><rect x="509.0" y="22.58" width="1" height="12.00" fill-opacity="0.22"/><rect x="509.0" y="34.58" width="1" height="62.42" fill-opacity="0.49"/><rect x="509.0" y="171.42" width="1" height="10.58" fill-opacity="0.22"/><rect x="509.0" y="159.42" width="1" height="12.00" fill-opacity="0.20"/><rect x="509.0" y="97.00" width="1" height="62.42" fill-opacity="0.49"/><rect x="510.0" y="12.00" width="1" height="9.77" fill-opacity="0.67"/><rect x="510.0" y="21.77" width="1" height="12.00" fill-opacity="0.62"/><rect x="510.0" y="33.77" width="1" height="63.23" fill-opacity="0.92"/><rect x="510.0" y="172.23" width="1" height="9.77" fill-opacity="0.62"/><rect x="510.0" y="160.23" width="1" height="12.00" fill-opacity="0.57"/><rect x="510.0" y="97.00" width="1" height="63.23" fill-opacity="0.92"/><rect x="511.0" y="12.00" width="1" height="8.97" fill-opacity="0.08"/><rect x="511.0" y="20.97" width="1" height="12.00" fill-opacity="0.07"/><rect x="511.0" y="32.97" width="1" height="64.03" fill-opacity="0.28"/><rect x="511.0" y="173.03" width="1" height="8.97" fill-opacity="0.07"/><rect x="511.0" y="161.03" width="1" height="12.00" fill-opacity="0.06"/><rect x="511.0" y="97.00" width="1" height="64.03" fill-opacity="0.28"/><rect x="512.0" y="12.00" width="1" height="8.17" fill-opacity="0.12"/><rect x="512.0" y="20.17" width="1" height="12.00" fill-opacity="0.11"/><rect x="512.0" y="32.17" width="1" height="64.83" fill-opacity="0.34"/><rect x="512.0" y="173.83" width="1" height="8.17" fill-opacity="0.11"/><rect x="512.0" y="161.83" width="1" height="12.00" fill-opacity="0.10"/><rect x="512.0" y="97.00" width="1" height="64.83" fill-opacity="0.34"/><rect x="513.0" y="12.00" width="1" height="7.36" fill-opacity="0.58"/><rect x="513.0" y="19.36" width="1" height="12.00" fill-opacity="0.53"/><rect x="513.0" y="31.36" width="1" height="65.64" fill-opacity="0.79"/><rect x="513.0" y="174.64" width="1" height="7.36" fill-opacity="0.53"/><rect x="513.0" y="162.64" width="1" height="12.00" fill-opacity="0.49"/><rect x="513.0" y="97.00" width="1" height="65.64" fill-opacity="0.79"/><rect x="514.0" y="12.00" width="1" height="6.56" fill-opacity="0.48"/><rect x="514.0" y="18.56" width="1" height="12.00" fill-opacity="0.44"/><rect x="514.0" y="30.56" width="1" height="66.44" fill-opacity="0.77"/><rect x="514.0" y="175.44" width="1" height="6.56" fill-opacity="0.44"/><rect x="514.0" y="163.44" width="1" height="12.00" fill-opacity="0.41"/><rect x="514.0" y="97.00" width="1" height="66.44" fill-opacity="0.77"/><rect x="515.0" y="12.00" width="1" height="5.76" fill-opacity="0.33"/><rect x="515.0" y="17.76" width="1" height="12.00" fill-opacity="0.30"/><rect x="515.0" y="29.76" width="1" height="67.24" fill-opacity="0.55"/><rect x="515.0" y="176.24" width="1" height="5.76" fill-opacity="0.30"/><rect x="515.0" y="164.24" width="1" height="12.00" fill-opacity="0.28"/><rect x="515.0" y="97.00" width="1" height="67.24" fill-opacity="0.55"/><rect x="516.0" y="12.00" width="1" height="4.95" fill-opacity="0.04"/><rect x="516.0" y="16.95" width="1" height="12.00" fill-opacity="0.04"/><rect x="516.0" y="28.95" width="1" height="68.05" fill-opacity="0.18"/><rect x="516.0" y="177.05" width="1" height="4.95" fill-opacity="0.04"/><rect x="516.0" y="165.05" width="1" height="12.00" fill-opacity="0.04"/><rect x="516.0" y="97.00" width="1" height="68.05" fill-opacity="0.18"/><rect x="517.0" y="12.00" width="1" height="4.15" fill-opacity="0.06"/><rect x="517.0" y="16.15" width="1" height="12.00" fill-opacity="0.05"/><rect x="517.0" y="28.15" width="1" height="68.85" fill-opacity="0.23"/><rect x="517.0" y="177.85" width="1" height="4.15" fill-opacity="0.05"/><rect x="517.0" y="165.85" width="1" height="12.00" fill-opacity="0.05"/><rect x="517.0" y="97.00" width="1" height="68.85" fill-opacity="0.23"/><rect x="518.0" y="12.00" width="1" height="3.34" fill-opacity="0.55"/><rect x="518.0" y="15.34" width="1" height="12.00" fill-opacity="0.51"/><rect x="518.0" y="27.34" width="1" height="69.66" fill-opacity="0.84"/><rect x="518.0" y="178.66" width="1" height="3.34" fill-opacity="0.51"/><rect x="518.0" y="166.66" width="1" height="12.00" fill-opacity="0.47"/><rect x="518.0" y="97.00" width="1" height="69.66" fill-opacity="0.84"/><rect x="519.0" y="12.00" width="1" height="2.54" fill-opacity="0.26"/><rect x="519.0" y="14.54" width="1" height="12.00" fill-opacity="0.24"/><rect x="519.0" y="26.54" width="1" height="70.46" fill-opacity="0.47"/><rect x="519.0" y="179.46" width="1" height="2.54" fill-opacity="0.24"/><rect x="519.0" y="167.46" width="1" height="12.00" fill-opacity="0.22"/><rect x="519.0" y="97.00" width="1" height="70.46" fill-opacity="0.47"/><rect x="520.0" y="12.00" width="1" height="1.74" fill-opacity="0.64"/><rect x="520.0" y="13.74" width="1" height="12.00" fill-opacity="0.59"/><rect x="520.0" y="25.74" width="1" height="71.26" fill-opacity="0.92"/><rect x="520.0" y="180.26" width="1" height="1.74" fill-opacity="0.59"/><rect x="520.0" y="168.26" width="1" height="12.00" fill-opacity="0.54"/><rect x="520.0" y="97.00" width="1" height="71.26" fill-opacity="0.92"/><rect x="521.0" y="12.00" width="1" height="0.93" fill-opacity="0.75"/><rect x="521.0" y="12.93" width="1" height="12.00" fill-opacity="0.69"/><rect x="521.0" y="24.93" width="1" height="72.07" fill-opacity="0.98"/><rect x="521.0" y="181.07" width="1" height="0.93" fill-opacity="0.69"/><rect x="521.0" y="169.07" width="1" height="12.00" fill-opacity="0.64"/><rect x="521.0" y="97.00" width="1" height="72.07" fill-opacity="0.98"/><rect x="522.0" y="12.00" width="1" height="0.13" fill-opacity="0.05"/><rect x="522.0" y="12.13" width="1" height="12.00" fill-opacity="0.04"/><rect x="522.0" y="24.13" width="1" height="72.87" fill-opacity="0.23"/><rect x="522.0" y="181.87" width="1" height="0.13" fill-opacity="0.04"/><rect x="522.0" y="169.87" width="1" height="12.00" fill-opacity="0.04"/><rect x="522.0" y="97.00" width="1" height="72.87" fill-opacity="0.23"/><rect x="523.0" y="12.00" width="1" height="11.33" fill-opacity="0.06"/><rect x="523.0" y="23.33" width="1" height="73.67" fill-opacity="0.23"/><rect x="523.0" y="170.67" width="1" height="11.33" fill-opacity="0.06"/><rect x="523.0" y="97.00" width="1" height="73.67" fill-opacity="0.23"/><rect x="524.0" y="12.00" width="1" height="10.52" fill-opacity="0.68"/><rect x="524.0" y="22.52" width="1" height="74.48" fill-opacity="0.96"/><rect x="524.0" y="171.48" width="1" height="10.52" fill-opacity="0.63"/><rect x="524.0" y="97.00" width="1" height="74.48" fill-opacity="0.96"/><rect x="525.0" y="12.00" width="1" height="9.72" fill-opacity="0.77"/><rect x="525.0" y="21.72" width="1" height="75.28" fill-opacity="1.00"/><rect x="525.0" y="172.28" width="1" height="9.72" fill-opacity="0.71"/><rect x="525.0" y="97.00" width="1" height="75.28" fill-opacity="1.00"/><rect x="526.0" y="12.00" width="1" height="8.92" fill-opacity="0.49"/><rect x="526.0" y="20.92" width="1" height="76.08" fill-opacity="0.81"/><rect x="526.0" y="173.08" width="1" height="8.92" fill-opacity="0.45"/><rect x="526.0" y="97.00" width="1" height="76.08" fill-opacity="0.81"/><rect x="527.0" y="12.00" width="1" height="8.11" fill-opacity="0.05"/><rect x="527.0" y="20.11" width="1" height="76.89" fill-opacity="0.25"/><rect x="527.0" y="173.89" width="1" height="8.11" fill-opacity="0.05"/><rect x="527.0" y="97.00" width="1" height="76.89" fill-opacity="0.25"/><rect x="528.0" y="12.00" width="1" height="7.31" fill-opacity="0.10"/><rect x="528.0" y="19.31" width="1" height="77.69" fill-opacity="0.33"/><rect x="528.0" y="174.69" width="1" height="7.31" fill-opacity="0.09"/><rect x="528.0" y="97.00" width="1" height="77.69" fill-opacity="0.33"/><rect x="529.0" y="12.00" width="1" height="6.51" fill-opacity="0.48"/><rect x="529.0" y="18.51" width="1" height="78.49" fill-opacity="0.82"/><rect x="529.0" y="175.49" width="1" height="6.51" fill-opacity="0.44"/><rect x="529.0" y="97.00" width="1" height="78.49" fill-opacity="0.82"/><rect x="530.0" y="12.00" width="1" height="5.70" fill-opacity="0.67"/><rect x="530.0" y="17.70" width="1" height="79.30" fill-opacity="0.89"/><rect x="530.0" y="176.30" width="1" height="5.70" fill-opacity="0.62"/><rect x="530.0" y="97.00" width="1" height="79.30" fill-opacity="0.89"/><rect x="531.0" y="12.00" width="1" height="4.90" fill-opacity="0.47"/><rect x="531.0" y="16.90" width="1" height="80.10" fill-opacity="0.74"/><rect x="531.0" y="177.10" width="1" height="4.90" fill-opacity="0.43"/><rect x="531.0" y="97.00" width="1" height="80.10" fill-opacity="0.74"/><rect x="532.0" y="12.00" width="1" height="4.10" fill-opacity="0.27"/><rect x="532.0" y="16.10" width="1" height="80.90" fill-opacity="0.52"/><rect x="532.0" y="177.90" width="1" height="4.10" fill-opacity="0.25"/><rect x="532.0" y="97.00" width="1" height="80.90" fill-opacity="0.52"/><rect x="533.0" y="12.00" width="1" height="3.29" fill-opacity="0.51"/><rect x="533.0" y="15.29" width="1" height="81.71" fill-opacity="0.79"/><rect x="533.0" y="178.71" width="1" height="3.29" fill-opacity="0.47"/><rect x="533.0" y="97.00" width="1" height="81.71" fill-opacity="0.79"/><rect x="534.0" y="12.00" width="1" height="2.49" fill-opacity="0.15"/><rect x="534.0" y="14.49" width="1" height="82.51" fill-opacity="0.41"/><rect x="534.0" y="179.51" width="1" height="2.49" fill-opacity="0.13"/><rect x="534.0" y="97.00" width="1" height="82.51" fill-opacity="0.41"/><rect x="535.0" y="12.00" width="1" height="1.69" fill-opacity="0.08"/><rect x="535.0" y="13.69" width="1" height="83.31" fill-opacity="0.29"/><rect x="535.0" y="180.31" width="1" height="1.69" fill-opacity="0.07"/><rect x="535.0" y="97.00" width="1" height="83.31" fill-opacity="0.29"/><rect x="536.0" y="12.00" width="1" height="0.88" fill-opacity="0.48"/><rect x="536.0" y="12.88" width="1" height="84.12" fill-opacity="0.81"/><rect x="536.0" y="181.12" width="1" height="0.88" fill-opacity="0.44"/><rect x="536.0" y="97.00" width="1" height="84.12" fill-opacity="0.81"/><rect x="537.0" y="12.00" width="1" height="0.08" fill-opacity="0.61"/><rect x="537.0" y="12.08" width="1" height="84.92" fill-opacity="0.87"/><rect x="537.0" y="181.92" width="1" height="0.08" fill-opacity="0.56"/><rect x="537.0" y="97.00" width="1" height="84.92" fill-opacity="0.87"/><rect x="380.4" y="40.87" width="1.0" height="1.20" fill-opacity="0.67"/><rect x="482.2" y="40.87" width="1.0" height="1.20" fill-opacity="0.72"/><rect x="380.4" y="152.13" width="1.0" height="1.20" fill-opacity="0.53"/><rect x="482.2" y="152.13" width="1.0" height="1.20" fill-opacity="0.58"/><rect x="383.3" y="41.75" width="1.0" height="1.20" fill-opacity="0.57"/><rect x="479.3" y="41.75" width="1.0" height="1.20" fill-opacity="0.63"/><rect x="383.3" y="151.25" width="1.0" height="1.20" fill-opacity="0.62"/><rect x="479.3" y="151.25" width="1.0" height="1.20" fill-opacity="0.80"/><rect x="386.1" y="42.37" width="1.0" height="1.20" fill-opacity="0.60"/><rect x="476.5" y="42.37" width="1.0" height="1.20" fill-opacity="0.69"/><rect x="386.1" y="150.63" width="1.0" height="1.20" fill-opacity="0.49"/><rect x="476.5" y="150.63" width="1.0" height="1.20" fill-opacity="0.49"/><rect x="388.8" y="43.45" width="1.0" height="1.20" fill-opacity="0.74"/><rect x="473.8" y="43.45" width="1.0" height="1.20" fill-opacity="0.51"/><rect x="388.8" y="149.55" width="1.0" height="1.20" fill-opacity="0.63"/><rect x="473.8" y="149.55" width="1.0" height="1.20" fill-opacity="0.72"/><rect x="391.4" y="43.89" width="1.0" height="1.20" fill-opacity="0.61"/><rect x="471.2" y="43.89" width="1.0" height="1.20" fill-opacity="0.52"/><rect x="391.4" y="149.11" width="1.0" height="1.20" fill-opacity="0.51"/><rect x="471.2" y="149.11" width="1.0" height="1.20" fill-opacity="0.69"/><rect x="394.2" y="44.86" width="1.0" height="1.20" fill-opacity="0.66"/><rect x="468.4" y="44.86" width="1.0" height="1.20" fill-opacity="0.77"/><rect x="394.2" y="148.14" width="1.0" height="1.20" fill-opacity="0.57"/><rect x="468.4" y="148.14" width="1.0" height="1.20" fill-opacity="0.59"/><rect x="396.9" y="45.32" width="1.0" height="1.20" fill-opacity="0.57"/><rect x="465.7" y="45.32" width="1.0" height="1.20" fill-opacity="0.59"/><rect x="396.9" y="147.68" width="1.0" height="1.20" fill-opacity="0.64"/><rect x="465.7" y="147.68" width="1.0" height="1.20" fill-opacity="0.59"/><rect x="399.9" y="46.40" width="1.0" height="1.20" fill-opacity="0.59"/><rect x="462.7" y="46.40" width="1.0" height="1.20" fill-opacity="0.55"/><rect x="399.9" y="146.60" width="1.0" height="1.20" fill-opacity="0.64"/><rect x="462.7" y="146.60" width="1.0" height="1.20" fill-opacity="0.52"/><rect x="402.4" y="47.09" width="1.0" height="1.20" fill-opacity="0.52"/><rect x="460.2" y="47.09" width="1.0" height="1.20" fill-opacity="0.79"/><rect x="402.4" y="145.91" width="1.0" height="1.20" fill-opacity="0.51"/><rect x="460.2" y="145.91" width="1.0" height="1.20" fill-opacity="0.80"/><rect x="405.2" y="47.77" width="1.0" height="1.20" fill-opacity="0.61"/><rect x="457.4" y="47.77" width="1.0" height="1.20" fill-opacity="0.66"/><rect x="405.2" y="145.23" width="1.0" height="1.20" fill-opacity="0.61"/><rect x="457.4" y="145.23" width="1.0" height="1.20" fill-opacity="0.51"/><rect x="407.8" y="48.63" width="1.0" height="1.20" fill-opacity="0.63"/><rect x="454.8" y="48.63" width="1.0" height="1.20" fill-opacity="0.73"/><rect x="407.8" y="144.37" width="1.0" height="1.20" fill-opacity="0.50"/><rect x="454.8" y="144.37" width="1.0" height="1.20" fill-opacity="0.64"/><rect x="410.8" y="49.20" width="1.0" height="1.20" fill-opacity="0.53"/><rect x="451.8" y="49.20" width="1.0" height="1.20" fill-opacity="0.70"/><rect x="410.8" y="143.80" width="1.0" height="1.20" fill-opacity="0.70"/><rect x="451.8" y="143.80" width="1.0" height="1.20" fill-opacity="0.76"/><rect x="413.3" y="49.82" width="1.0" height="1.20" fill-opacity="0.68"/><rect x="449.3" y="49.82" width="1.0" height="1.20" fill-opacity="0.68"/><rect x="413.3" y="143.18" width="1.0" height="1.20" fill-opacity="0.54"/><rect x="449.3" y="143.18" width="1.0" height="1.20" fill-opacity="0.69"/><rect x="414.6" y="49.97" width="1.6" height="1.20" fill-opacity="0.58"/><rect x="448.0" y="49.97" width="1.6" height="1.20" fill-opacity="0.87"/><rect x="414.6" y="143.03" width="1.6" height="1.20" fill-opacity="0.54"/><rect x="448.0" y="143.03" width="1.6" height="1.20" fill-opacity="0.85"/><rect x="416.4" y="50.42" width="1.6" height="1.20" fill-opacity="0.80"/><rect x="446.2" y="50.42" width="1.6" height="1.20" fill-opacity="0.85"/><rect x="416.4" y="142.58" width="1.6" height="1.20" fill-opacity="0.61"/><rect x="446.2" y="142.58" width="1.6" height="1.20" fill-opacity="0.55"/><rect x="418.3" y="51.03" width="1.6" height="1.20" fill-opacity="0.75"/><rect x="444.3" y="51.03" width="1.6" height="1.20" fill-opacity="0.87"/><rect x="418.3" y="141.97" width="1.6" height="1.20" fill-opacity="0.72"/><rect x="444.3" y="141.97" width="1.6" height="1.20" fill-opacity="0.73"/><rect x="420.6" y="51.61" width="1.6" height="1.20" fill-opacity="0.69"/><rect x="442.0" y="51.61" width="1.6" height="1.20" fill-opacity="0.79"/><rect x="420.6" y="141.39" width="1.6" height="1.20" fill-opacity="0.69"/><rect x="442.0" y="141.39" width="1.6" height="1.20" fill-opacity="0.56"/><rect x="422.6" y="52.04" width="1.6" height="1.20" fill-opacity="0.90"/><rect x="440.0" y="52.04" width="1.6" height="1.20" fill-opacity="0.78"/><rect x="422.6" y="140.96" width="1.6" height="1.20" fill-opacity="0.60"/><rect x="440.0" y="140.96" width="1.6" height="1.20" fill-opacity="0.82"/><rect x="424.5" y="52.33" width="1.6" height="1.20" fill-opacity="0.71"/><rect x="438.1" y="52.33" width="1.6" height="1.20" fill-opacity="0.86"/><rect x="424.5" y="140.67" width="1.6" height="1.20" fill-opacity="0.77"/><rect x="438.1" y="140.67" width="1.6" height="1.20" fill-opacity="0.69"/><rect x="426.3" y="53.07" width="1.6" height="1.20" fill-opacity="0.90"/><rect x="436.3" y="53.07" width="1.6" height="1.20" fill-opacity="0.85"/><rect x="426.3" y="139.93" width="1.6" height="1.20" fill-opacity="0.62"/><rect x="436.3" y="139.93" width="1.6" height="1.20" fill-opacity="0.58"/><rect x="405.5" y="76.91" width="1.0" height="1.20" fill-opacity="0.62"/><rect x="457.1" y="76.91" width="1.0" height="1.20" fill-opacity="0.59"/><rect x="405.5" y="116.09" width="1.0" height="1.20" fill-opacity="0.67"/><rect x="457.1" y="116.09" width="1.0" height="1.20" fill-opacity="0.73"/><rect x="408.0" y="79.04" width="1.0" height="1.20" fill-opacity="0.66"/><rect x="454.6" y="79.04" width="1.0" height="1.20" fill-opacity="0.49"/><rect x="408.0" y="113.96" width="1.0" height="1.20" fill-opacity="0.68"/><rect x="454.6" y="113.96" width="1.0" height="1.20" fill-opacity="0.54"/><rect x="410.6" y="80.89" width="1.0" height="1.20" fill-opacity="0.65"/><rect x="452.0" y="80.89" width="1.0" height="1.20" fill-opacity="0.72"/><rect x="410.6" y="112.11" width="1.0" height="1.20" fill-opacity="0.72"/><rect x="452.0" y="112.11" width="1.0" height="1.20" fill-opacity="0.47"/><rect x="413.0" y="82.66" width="1.0" height="1.20" fill-opacity="0.71"/><rect x="449.6" y="82.66" width="1.0" height="1.20" fill-opacity="0.66"/><rect x="413.0" y="110.34" width="1.0" height="1.20" fill-opacity="0.64"/><rect x="449.6" y="110.34" width="1.0" height="1.20" fill-opacity="0.57"/><rect x="415.6" y="84.82" width="1.0" height="1.20" fill-opacity="0.74"/><rect x="447.0" y="84.82" width="1.0" height="1.20" fill-opacity="0.70"/><rect x="415.6" y="108.18" width="1.0" height="1.20" fill-opacity="0.63"/><rect x="447.0" y="108.18" width="1.0" height="1.20" fill-opacity="0.54"/><rect x="418.5" y="86.81" width="1.0" height="1.20" fill-opacity="0.59"/><rect x="444.1" y="86.81" width="1.0" height="1.20" fill-opacity="0.50"/><rect x="418.5" y="106.19" width="1.0" height="1.20" fill-opacity="0.74"/><rect x="444.1" y="106.19" width="1.0" height="1.20" fill-opacity="0.49"/><rect x="421.0" y="88.53" width="1.0" height="1.20" fill-opacity="0.69"/><rect x="441.6" y="88.53" width="1.0" height="1.20" fill-opacity="0.59"/><rect x="421.0" y="104.47" width="1.0" height="1.20" fill-opacity="0.68"/><rect x="441.6" y="104.47" width="1.0" height="1.20" fill-opacity="0.59"/><rect x="423.3" y="90.71" width="1.0" height="1.20" fill-opacity="0.55"/><rect x="439.3" y="90.71" width="1.0" height="1.20" fill-opacity="0.53"/><rect x="423.3" y="102.29" width="1.0" height="1.20" fill-opacity="0.64"/><rect x="439.3" y="102.29" width="1.0" height="1.20" fill-opacity="0.65"/><rect x="426.1" y="92.60" width="1.0" height="1.20" fill-opacity="0.71"/><rect x="436.5" y="92.60" width="1.0" height="1.20" fill-opacity="0.67"/><rect x="426.1" y="100.40" width="1.0" height="1.20" fill-opacity="0.45"/><rect x="436.5" y="100.40" width="1.0" height="1.20" fill-opacity="0.50"/><rect x="428.6" y="94.53" width="1.0" height="1.20" fill-opacity="0.74"/><rect x="434.0" y="94.53" width="1.0" height="1.20" fill-opacity="0.52"/><rect x="428.6" y="98.47" width="1.0" height="1.20" fill-opacity="0.57"/><rect x="434.0" y="98.47" width="1.0" height="1.20" fill-opacity="0.56"/><rect x="424.0" y="48.00" width="1" height="2.00" fill-opacity="0.03"/><rect x="424.0" y="50.00" width="1" height="2.00" fill-opacity="0.04"/><rect x="424.0" y="52.00" width="1" height="2.00" fill-opacity="0.04"/><rect x="424.0" y="54.00" width="1" height="2.00" fill-opacity="0.03"/><rect x="425.0" y="42.00" width="1" height="2.00" fill-opacity="0.03"/><rect x="425.0" y="44.00" width="1" height="2.00" fill-opacity="0.05"/><rect x="425.0" y="46.00" width="1" height="2.00" fill-opacity="0.06"/><rect x="425.0" y="48.00" width="1" height="2.00" fill-opacity="0.07"/><rect x="425.0" y="50.00" width="1" height="2.00" fill-opacity="0.08"/><rect x="425.0" y="52.00" width="1" height="2.00" fill-opacity="0.08"/><rect x="425.0" y="54.00" width="1" height="2.00" fill-opacity="0.07"/><rect x="425.0" y="56.00" width="1" height="2.00" fill-opacity="0.06"/><rect x="425.0" y="58.00" width="1" height="2.00" fill-opacity="0.05"/><rect x="425.0" y="60.00" width="1" height="2.00" fill-opacity="0.03"/><rect x="426.0" y="40.00" width="1" height="2.00" fill-opacity="0.03"/><rect x="426.0" y="42.00" width="1" height="2.00" fill-opacity="0.05"/><rect x="426.0" y="44.00" width="1" height="2.00" fill-opacity="0.06"/><rect x="426.0" y="46.00" width="1" height="2.00" fill-opacity="0.08"/><rect x="426.0" y="48.00" width="1" height="2.00" fill-opacity="0.10"/><rect x="426.0" y="50.00" width="1" height="2.00" fill-opacity="0.10"/><rect x="426.0" y="52.00" width="1" height="2.00" fill-opacity="0.10"/><rect x="426.0" y="54.00" width="1" height="2.00" fill-opacity="0.10"/><rect x="426.0" y="56.00" width="1" height="2.00" fill-opacity="0.08"/><rect x="426.0" y="58.00" width="1" height="2.00" fill-opacity="0.06"/><rect x="426.0" y="60.00" width="1" height="2.00" fill-opacity="0.05"/><rect x="426.0" y="62.00" width="1" height="2.00" fill-opacity="0.03"/><rect x="427.0" y="40.00" width="1" height="2.00" fill-opacity="0.05"/><rect x="427.0" y="42.00" width="1" height="2.00" fill-opacity="0.07"/><rect x="427.0" y="44.00" width="1" height="2.00" fill-opacity="0.10"/><rect x="427.0" y="46.00" width="1" height="2.00" fill-opacity="0.12"/><rect x="427.0" y="48.00" width="1" height="2.00" fill-opacity="0.14"/><rect x="427.0" y="50.00" width="1" height="2.00" fill-opacity="0.16"/><rect x="427.0" y="52.00" width="1" height="2.00" fill-opacity="0.16"/><rect x="427.0" y="54.00" width="1" height="2.00" fill-opacity="0.14"/><rect x="427.0" y="56.00" width="1" height="2.00" fill-opacity="0.12"/><rect x="427.0" y="58.00" width="1" height="2.00" fill-opacity="0.10"/><rect x="427.0" y="60.00" width="1" height="2.00" fill-opacity="0.07"/><rect x="427.0" y="62.00" width="1" height="2.00" fill-opacity="0.05"/><rect x="428.0" y="38.00" width="1" height="2.00" fill-opacity="0.04"/><rect x="428.0" y="40.00" width="1" height="2.00" fill-opacity="0.06"/><rect x="428.0" y="42.00" width="1" height="2.00" fill-opacity="0.09"/><rect x="428.0" y="44.00" width="1" height="2.00" fill-opacity="0.13"/><rect x="428.0" y="46.00" width="1" height="2.00" fill-opacity="0.16"/><rect x="428.0" y="48.00" width="1" height="2.00" fill-opacity="0.19"/><rect x="428.0" y="50.00" width="1" height="2.00" fill-opacity="0.20"/><rect x="428.0" y="52.00" width="1" height="2.00" fill-opacity="0.20"/><rect x="428.0" y="54.00" width="1" height="2.00" fill-opacity="0.19"/><rect x="428.0" y="56.00" width="1" height="2.00" fill-opacity="0.16"/><rect x="428.0" y="58.00" width="1" height="2.00" fill-opacity="0.13"/><rect x="428.0" y="60.00" width="1" height="2.00" fill-opacity="0.09"/><rect x="428.0" y="62.00" width="1" height="2.00" fill-opacity="0.06"/><rect x="428.0" y="64.00" width="1" height="2.00" fill-opacity="0.04"/><rect x="429.0" y="36.00" width="1" height="2.00" fill-opacity="0.05"/><rect x="429.0" y="38.00" width="1" height="2.00" fill-opacity="0.08"/><rect x="429.0" y="40.00" width="1" height="2.00" fill-opacity="0.13"/><rect x="429.0" y="42.00" width="1" height="2.00" fill-opacity="0.19"/><rect x="429.0" y="44.00" width="1" height="2.00" fill-opacity="0.27"/><rect x="429.0" y="46.00" width="1" height="2.00" fill-opacity="0.34"/><rect x="429.0" y="48.00" width="1" height="2.00" fill-opacity="0.40"/><rect x="429.0" y="50.00" width="1" height="2.00" fill-opacity="0.43"/><rect x="429.0" y="52.00" width="1" height="2.00" fill-opacity="0.43"/><rect x="429.0" y="54.00" width="1" height="2.00" fill-opacity="0.40"/><rect x="429.0" y="56.00" width="1" height="2.00" fill-opacity="0.34"/><rect x="429.0" y="58.00" width="1" height="2.00" fill-opacity="0.27"/><rect x="429.0" y="60.00" width="1" height="2.00" fill-opacity="0.19"/><rect x="429.0" y="62.00" width="1" height="2.00" fill-opacity="0.13"/><rect x="429.0" y="64.00" width="1" height="2.00" fill-opacity="0.08"/><rect x="429.0" y="66.00" width="1" height="2.00" fill-opacity="0.05"/><rect x="430.0" y="36.00" width="1" height="2.00" fill-opacity="0.05"/><rect x="430.0" y="38.00" width="1" height="2.00" fill-opacity="0.09"/><rect x="430.0" y="40.00" width="1" height="2.00" fill-opacity="0.14"/><rect x="430.0" y="42.00" width="1" height="2.00" fill-opacity="0.21"/><rect x="430.0" y="44.00" width="1" height="2.00" fill-opacity="0.28"/><rect x="430.0" y="46.00" width="1" height="2.00" fill-opacity="0.36"/><rect x="430.0" y="48.00" width="1" height="2.00" fill-opacity="0.42"/><rect x="430.0" y="50.00" width="1" height="2.00" fill-opacity="0.46"/><rect x="430.0" y="52.00" width="1" height="2.00" fill-opacity="0.46"/><rect x="430.0" y="54.00" width="1" height="2.00" fill-opacity="0.42"/><rect x="430.0" y="56.00" width="1" height="2.00" fill-opacity="0.36"/><rect x="430.0" y="58.00" width="1" height="2.00" fill-opacity="0.28"/><rect x="430.0" y="60.00" width="1" height="2.00" fill-opacity="0.21"/><rect x="430.0" y="62.00" width="1" height="2.00" fill-opacity="0.14"/><rect x="430.0" y="64.00" width="1" height="2.00" fill-opacity="0.09"/><rect x="430.0" y="66.00" width="1" height="2.00" fill-opacity="0.05"/><rect x="431.0" y="36.00" width="1" height="2.00" fill-opacity="0.05"/><rect x="431.0" y="38.00" width="1" height="2.00" fill-opacity="0.09"/><rect x="431.0" y="40.00" width="1" height="2.00" fill-opacity="0.15"/><rect x="431.0" y="42.00" width="1" height="2.00" fill-opacity="0.22"/><rect x="431.0" y="44.00" width="1" height="2.00" fill-opacity="0.30"/><rect x="431.0" y="46.00" width="1" height="2.00" fill-opacity="0.38"/><rect x="431.0" y="48.00" width="1" height="2.00" fill-opacity="0.45"/><rect x="431.0" y="50.00" width="1" height="2.00" fill-opacity="0.49"/><rect x="431.0" y="52.00" width="1" height="2.00" fill-opacity="0.49"/><rect x="431.0" y="54.00" width="1" height="2.00" fill-opacity="0.45"/><rect x="431.0" y="56.00" width="1" height="2.00" fill-opacity="0.38"/><rect x="431.0" y="58.00" width="1" height="2.00" fill-opacity="0.30"/><rect x="431.0" y="60.00" width="1" height="2.00" fill-opacity="0.22"/><rect x="431.0" y="62.00" width="1" height="2.00" fill-opacity="0.15"/><rect x="431.0" y="64.00" width="1" height="2.00" fill-opacity="0.09"/><rect x="431.0" y="66.00" width="1" height="2.00" fill-opacity="0.05"/><rect x="432.0" y="36.00" width="1" height="2.00" fill-opacity="0.04"/><rect x="432.0" y="38.00" width="1" height="2.00" fill-opacity="0.06"/><rect x="432.0" y="40.00" width="1" height="2.00" fill-opacity="0.10"/><rect x="432.0" y="42.00" width="1" height="2.00" fill-opacity="0.15"/><rect x="432.0" y="44.00" width="1" height="2.00" fill-opacity="0.21"/><rect x="432.0" y="46.00" width="1" height="2.00" fill-opacity="0.26"/><rect x="432.0" y="48.00" width="1" height="2.00" fill-opacity="0.31"/><rect x="432.0" y="50.00" width="1" height="2.00" fill-opacity="0.33"/><rect x="432.0" y="52.00" width="1" height="2.00" fill-opacity="0.33"/><rect x="432.0" y="54.00" width="1" height="2.00" fill-opacity="0.31"/><rect x="432.0" y="56.00" width="1" height="2.00" fill-opacity="0.26"/><rect x="432.0" y="58.00" width="1" height="2.00" fill-opacity="0.21"/><rect x="432.0" y="60.00" width="1" height="2.00" fill-opacity="0.15"/><rect x="432.0" y="62.00" width="1" height="2.00" fill-opacity="0.10"/><rect x="432.0" y="64.00" width="1" height="2.00" fill-opacity="0.06"/><rect x="432.0" y="66.00" width="1" height="2.00" fill-opacity="0.04"/><rect x="433.0" y="38.00" width="1" height="2.00" fill-opacity="0.05"/><rect x="433.0" y="40.00" width="1" height="2.00" fill-opacity="0.08"/><rect x="433.0" y="42.00" width="1" height="2.00" fill-opacity="0.11"/><rect x="433.0" y="44.00" width="1" height="2.00" fill-opacity="0.16"/><rect x="433.0" y="46.00" width="1" height="2.00" fill-opacity="0.20"/><rect x="433.0" y="48.00" width="1" height="2.00" fill-opacity="0.24"/><rect x="433.0" y="50.00" width="1" height="2.00" fill-opacity="0.25"/><rect x="433.0" y="52.00" width="1" height="2.00" fill-opacity="0.25"/><rect x="433.0" y="54.00" width="1" height="2.00" fill-opacity="0.24"/><rect x="433.0" y="56.00" width="1" height="2.00" fill-opacity="0.20"/><rect x="433.0" y="58.00" width="1" height="2.00" fill-opacity="0.16"/><rect x="433.0" y="60.00" width="1" height="2.00" fill-opacity="0.11"/><rect x="433.0" y="62.00" width="1" height="2.00" fill-opacity="0.08"/><rect x="433.0" y="64.00" width="1" height="2.00" fill-opacity="0.05"/><rect x="434.0" y="36.00" width="1" height="2.00" fill-opacity="0.04"/><rect x="434.0" y="38.00" width="1" height="2.00" fill-opacity="0.06"/><rect x="434.0" y="40.00" width="1" height="2.00" fill-opacity="0.10"/><rect x="434.0" y="42.00" width="1" height="2.00" fill-opacity="0.15"/><rect x="434.0" y="44.00" width="1" height="2.00" fill-opacity="0.20"/><rect x="434.0" y="46.00" width="1" height="2.00" fill-opacity="0.26"/><rect x="434.0" y="48.00" width="1" height="2.00" fill-opacity="0.30"/><rect x="434.0" y="50.00" width="1" height="2.00" fill-opacity="0.33"/><rect x="434.0" y="52.00" width="1" height="2.00" fill-opacity="0.33"/><rect x="434.0" y="54.00" width="1" height="2.00" fill-opacity="0.30"/><rect x="434.0" y="56.00" width="1" height="2.00" fill-opacity="0.26"/><rect x="434.0" y="58.00" width="1" height="2.00" fill-opacity="0.20"/><rect x="434.0" y="60.00" width="1" height="2.00" fill-opacity="0.15"/><rect x="434.0" y="62.00" width="1" height="2.00" fill-opacity="0.10"/><rect x="434.0" y="64.00" width="1" height="2.00" fill-opacity="0.06"/><rect x="434.0" y="66.00" width="1" height="2.00" fill-opacity="0.04"/><rect x="435.0" y="38.00" width="1" height="2.00" fill-opacity="0.05"/><rect x="435.0" y="40.00" width="1" height="2.00" fill-opacity="0.07"/><rect x="435.0" y="42.00" width="1" height="2.00" fill-opacity="0.11"/><rect x="435.0" y="44.00" width="1" height="2.00" fill-opacity="0.15"/><rect x="435.0" y="46.00" width="1" height="2.00" fill-opacity="0.19"/><rect x="435.0" y="48.00" width="1" height="2.00" fill-opacity="0.23"/><rect x="435.0" y="50.00" width="1" height="2.00" fill-opacity="0.25"/><rect x="435.0" y="52.00" width="1" height="2.00" fill-opacity="0.25"/><rect x="435.0" y="54.00" width="1" height="2.00" fill-opacity="0.23"/><rect x="435.0" y="56.00" width="1" height="2.00" fill-opacity="0.19"/><rect x="435.0" y="58.00" width="1" height="2.00" fill-opacity="0.15"/><rect x="435.0" y="60.00" width="1" height="2.00" fill-opacity="0.11"/><rect x="435.0" y="62.00" width="1" height="2.00" fill-opacity="0.07"/><rect x="435.0" y="64.00" width="1" height="2.00" fill-opacity="0.05"/><rect x="436.0" y="42.00" width="1" height="2.00" fill-opacity="0.04"/><rect x="436.0" y="44.00" width="1" height="2.00" fill-opacity="0.06"/><rect x="436.0" y="46.00" width="1" height="2.00" fill-opacity="0.07"/><rect x="436.0" y="48.00" width="1" height="2.00" fill-opacity="0.08"/><rect x="436.0" y="50.00" width="1" height="2.00" fill-opacity="0.09"/><rect x="436.0" y="52.00" width="1" height="2.00" fill-opacity="0.09"/><rect x="436.0" y="54.00" width="1" height="2.00" fill-opacity="0.08"/><rect x="436.0" y="56.00" width="1" height="2.00" fill-opacity="0.07"/><rect x="436.0" y="58.00" width="1" height="2.00" fill-opacity="0.06"/><rect x="436.0" y="60.00" width="1" height="2.00" fill-opacity="0.04"/><rect x="437.0" y="42.00" width="1" height="2.00" fill-opacity="0.04"/><rect x="437.0" y="44.00" width="1" height="2.00" fill-opacity="0.06"/><rect x="437.0" y="46.00" width="1" height="2.00" fill-opacity="0.07"/><rect x="437.0" y="48.00" width="1" height="2.00" fill-opacity="0.08"/><rect x="437.0" y="50.00" width="1" height="2.00" fill-opacity="0.09"/><rect x="437.0" y="52.00" width="1" height="2.00" fill-opacity="0.09"/><rect x="437.0" y="54.00" width="1" height="2.00" fill-opacity="0.08"/><rect x="437.0" y="56.00" width="1" height="2.00" fill-opacity="0.07"/><rect x="437.0" y="58.00" width="1" height="2.00" fill-opacity="0.06"/><rect x="437.0" y="60.00" width="1" height="2.00" fill-opacity="0.04"/><rect x="438.0" y="46.00" width="1" height="2.00" fill-opacity="0.03"/><rect x="438.0" y="48.00" width="1" height="2.00" fill-opacity="0.04"/><rect x="438.0" y="50.00" width="1" height="2.00" fill-opacity="0.04"/><rect x="438.0" y="52.00" width="1" height="2.00" fill-opacity="0.04"/><rect x="438.0" y="54.00" width="1" height="2.00" fill-opacity="0.04"/><rect x="438.0" y="56.00" width="1" height="2.00" fill-opacity="0.03"/><rect x="424.0" y="136.00" width="1" height="2.00" fill-opacity="0.03"/><rect x="424.0" y="138.00" width="1" height="2.00" fill-opacity="0.04"/><rect x="424.0" y="140.00" width="1" height="2.00" fill-opacity="0.04"/><rect x="424.0" y="142.00" width="1" height="2.00" fill-opacity="0.04"/><rect x="424.0" y="144.00" width="1" height="2.00" fill-opacity="0.04"/><rect x="424.0" y="146.00" width="1" height="2.00" fill-opacity="0.03"/><rect x="425.0" y="132.00" width="1" height="2.00" fill-opacity="0.03"/><rect x="425.0" y="134.00" width="1" height="2.00" fill-opacity="0.05"/><rect x="425.0" y="136.00" width="1" height="2.00" fill-opacity="0.06"/><rect x="425.0" y="138.00" width="1" height="2.00" fill-opacity="0.07"/><rect x="425.0" y="140.00" width="1" height="2.00" fill-opacity="0.07"/><rect x="425.0" y="142.00" width="1" height="2.00" fill-opacity="0.07"/><rect x="425.0" y="144.00" width="1" height="2.00" fill-opacity="0.07"/><rect x="425.0" y="146.00" width="1" height="2.00" fill-opacity="0.06"/><rect x="425.0" y="148.00" width="1" height="2.00" fill-opacity="0.05"/><rect x="425.0" y="150.00" width="1" height="2.00" fill-opacity="0.03"/><rect x="426.0" y="130.00" width="1" height="2.00" fill-opacity="0.04"/><rect x="426.0" y="132.00" width="1" height="2.00" fill-opacity="0.05"/><rect x="426.0" y="134.00" width="1" height="2.00" fill-opacity="0.07"/><rect x="426.0" y="136.00" width="1" height="2.00" fill-opacity="0.09"/><rect x="426.0" y="138.00" width="1" height="2.00" fill-opacity="0.11"/><rect x="426.0" y="140.00" width="1" height="2.00" fill-opacity="0.12"/><rect x="426.0" y="142.00" width="1" height="2.00" fill-opacity="0.12"/><rect x="426.0" y="144.00" width="1" height="2.00" fill-opacity="0.11"/><rect x="426.0" y="146.00" width="1" height="2.00" fill-opacity="0.09"/><rect x="426.0" y="148.00" width="1" height="2.00" fill-opacity="0.07"/><rect x="426.0" y="150.00" width="1" height="2.00" fill-opacity="0.05"/><rect x="426.0" y="152.00" width="1" height="2.00" fill-opacity="0.04"/><rect x="427.0" y="128.00" width="1" height="2.00" fill-opacity="0.04"/><rect x="427.0" y="130.00" width="1" height="2.00" fill-opacity="0.07"/><rect x="427.0" y="132.00" width="1" height="2.00" fill-opacity="0.11"/><rect x="427.0" y="134.00" width="1" height="2.00" fill-opacity="0.15"/><rect x="427.0" y="136.00" width="1" height="2.00" fill-opacity="0.19"/><rect x="427.0" y="138.00" width="1" height="2.00" fill-opacity="0.22"/><rect x="427.0" y="140.00" width="1" height="2.00" fill-opacity="0.24"/><rect x="427.0" y="142.00" width="1" height="2.00" fill-opacity="0.24"/><rect x="427.0" y="144.00" width="1" height="2.00" fill-opacity="0.22"/><rect x="427.0" y="146.00" width="1" height="2.00" fill-opacity="0.19"/><rect x="427.0" y="148.00" width="1" height="2.00" fill-opacity="0.15"/><rect x="427.0" y="150.00" width="1" height="2.00" fill-opacity="0.11"/><rect x="427.0" y="152.00" width="1" height="2.00" fill-opacity="0.07"/><rect x="427.0" y="154.00" width="1" height="2.00" fill-opacity="0.04"/><rect x="428.0" y="126.00" width="1" height="2.00" fill-opacity="0.03"/><rect x="428.0" y="128.00" width="1" height="2.00" fill-opacity="0.06"/><rect x="428.0" y="130.00" width="1" height="2.00" fill-opacity="0.10"/><rect x="428.0" y="132.00" width="1" height="2.00" fill-opacity="0.15"/><rect x="428.0" y="134.00" width="1" height="2.00" fill-opacity="0.20"/><rect x="428.0" y="136.00" width="1" height="2.00" fill-opacity="0.26"/><rect x="428.0" y="138.00" width="1" height="2.00" fill-opacity="0.30"/><rect x="428.0" y="140.00" width="1" height="2.00" fill-opacity="0.33"/><rect x="428.0" y="142.00" width="1" height="2.00" fill-opacity="0.33"/><rect x="428.0" y="144.00" width="1" height="2.00" fill-opacity="0.30"/><rect x="428.0" y="146.00" width="1" height="2.00" fill-opacity="0.26"/><rect x="428.0" y="148.00" width="1" height="2.00" fill-opacity="0.20"/><rect x="428.0" y="150.00" width="1" height="2.00" fill-opacity="0.15"/><rect x="428.0" y="152.00" width="1" height="2.00" fill-opacity="0.10"/><rect x="428.0" y="154.00" width="1" height="2.00" fill-opacity="0.06"/><rect x="428.0" y="156.00" width="1" height="2.00" fill-opacity="0.03"/><rect x="429.0" y="126.00" width="1" height="2.00" fill-opacity="0.05"/><rect x="429.0" y="128.00" width="1" height="2.00" fill-opacity="0.09"/><rect x="429.0" y="130.00" width="1" height="2.00" fill-opacity="0.15"/><rect x="429.0" y="132.00" width="1" height="2.00" fill-opacity="0.22"/><rect x="429.0" y="134.00" width="1" height="2.00" fill-opacity="0.30"/><rect x="429.0" y="136.00" width="1" height="2.00" fill-opacity="0.38"/><rect x="429.0" y="138.00" width="1" height="2.00" fill-opacity="0.45"/><rect x="429.0" y="140.00" width="1" height="2.00" fill-opacity="0.48"/><rect x="429.0" y="142.00" width="1" height="2.00" fill-opacity="0.48"/><rect x="429.0" y="144.00" width="1" height="2.00" fill-opacity="0.45"/><rect x="429.0" y="146.00" width="1" height="2.00" fill-opacity="0.38"/><rect x="429.0" y="148.00" width="1" height="2.00" fill-opacity="0.30"/><rect x="429.0" y="150.00" width="1" height="2.00" fill-opacity="0.22"/><rect x="429.0" y="152.00" width="1" height="2.00" fill-opacity="0.15"/><rect x="429.0" y="154.00" width="1" height="2.00" fill-opacity="0.09"/><rect x="429.0" y="156.00" width="1" height="2.00" fill-opacity="0.05"/><rect x="430.0" y="126.00" width="1" height="2.00" fill-opacity="0.04"/><rect x="430.0" y="128.00" width="1" height="2.00" fill-opacity="0.07"/><rect x="430.0" y="130.00" width="1" height="2.00" fill-opacity="0.11"/><rect x="430.0" y="132.00" width="1" height="2.00" fill-opacity="0.17"/><rect x="430.0" y="134.00" width="1" height="2.00" fill-opacity="0.23"/><rect x="430.0" y="136.00" width="1" height="2.00" fill-opacity="0.29"/><rect x="430.0" y="138.00" width="1" height="2.00" fill-opacity="0.34"/><rect x="430.0" y="140.00" width="1" height="2.00" fill-opacity="0.37"/><rect x="430.0" y="142.00" width="1" height="2.00" fill-opacity="0.37"/><rect x="430.0" y="144.00" width="1" height="2.00" fill-opacity="0.34"/><rect x="430.0" y="146.00" width="1" height="2.00" fill-opacity="0.29"/><rect x="430.0" y="148.00" width="1" height="2.00" fill-opacity="0.23"/><rect x="430.0" y="150.00" width="1" height="2.00" fill-opacity="0.17"/><rect x="430.0" y="152.00" width="1" height="2.00" fill-opacity="0.11"/><rect x="430.0" y="154.00" width="1" height="2.00" fill-opacity="0.07"/><rect x="430.0" y="156.00" width="1" height="2.00" fill-opacity="0.04"/><rect x="431.0" y="126.00" width="1" height="2.00" fill-opacity="0.03"/><rect x="431.0" y="128.00" width="1" height="2.00" fill-opacity="0.06"/><rect x="431.0" y="130.00" width="1" height="2.00" fill-opacity="0.09"/><rect x="431.0" y="132.00" width="1" height="2.00" fill-opacity="0.14"/><rect x="431.0" y="134.00" width="1" height="2.00" fill-opacity="0.19"/><rect x="431.0" y="136.00" width="1" height="2.00" fill-opacity="0.25"/><rect x="431.0" y="138.00" width="1" height="2.00" fill-opacity="0.29"/><rect x="431.0" y="140.00" width="1" height="2.00" fill-opacity="0.31"/><rect x="431.0" y="142.00" width="1" height="2.00" fill-opacity="0.31"/><rect x="431.0" y="144.00" width="1" height="2.00" fill-opacity="0.29"/><rect x="431.0" y="146.00" width="1" height="2.00" fill-opacity="0.25"/><rect x="431.0" y="148.00" width="1" height="2.00" fill-opacity="0.19"/><rect x="431.0" y="150.00" width="1" height="2.00" fill-opacity="0.14"/><rect x="431.0" y="152.00" width="1" height="2.00" fill-opacity="0.09"/><rect x="431.0" y="154.00" width="1" height="2.00" fill-opacity="0.06"/><rect x="431.0" y="156.00" width="1" height="2.00" fill-opacity="0.03"/><rect x="432.0" y="126.00" width="1" height="2.00" fill-opacity="0.04"/><rect x="432.0" y="128.00" width="1" height="2.00" fill-opacity="0.07"/><rect x="432.0" y="130.00" width="1" height="2.00" fill-opacity="0.12"/><rect x="432.0" y="132.00" width="1" height="2.00" fill-opacity="0.18"/><rect x="432.0" y="134.00" width="1" height="2.00" fill-opacity="0.24"/><rect x="432.0" y="136.00" width="1" height="2.00" fill-opacity="0.31"/><rect x="432.0" y="138.00" width="1" height="2.00" fill-opacity="0.36"/><rect x="432.0" y="140.00" width="1" height="2.00" fill-opacity="0.39"/><rect x="432.0" y="142.00" width="1" height="2.00" fill-opacity="0.39"/><rect x="432.0" y="144.00" width="1" height="2.00" fill-opacity="0.36"/><rect x="432.0" y="146.00" width="1" height="2.00" fill-opacity="0.31"/><rect x="432.0" y="148.00" width="1" height="2.00" fill-opacity="0.24"/><rect x="432.0" y="150.00" width="1" height="2.00" fill-opacity="0.18"/><rect x="432.0" y="152.00" width="1" height="2.00" fill-opacity="0.12"/><rect x="432.0" y="154.00" width="1" height="2.00" fill-opacity="0.07"/><rect x="432.0" y="156.00" width="1" height="2.00" fill-opacity="0.04"/><rect x="433.0" y="126.00" width="1" height="2.00" fill-opacity="0.04"/><rect x="433.0" y="128.00" width="1" height="2.00" fill-opacity="0.08"/><rect x="433.0" y="130.00" width="1" height="2.00" fill-opacity="0.13"/><rect x="433.0" y="132.00" width="1" height="2.00" fill-opacity="0.19"/><rect x="433.0" y="134.00" width="1" height="2.00" fill-opacity="0.26"/><rect x="433.0" y="136.00" width="1" height="2.00" fill-opacity="0.33"/><rect x="433.0" y="138.00" width="1" height="2.00" fill-opacity="0.38"/><rect x="433.0" y="140.00" width="1" height="2.00" fill-opacity="0.42"/><rect x="433.0" y="142.00" width="1" height="2.00" fill-opacity="0.42"/><rect x="433.0" y="144.00" width="1" height="2.00" fill-opacity="0.38"/><rect x="433.0" y="146.00" width="1" height="2.00" fill-opacity="0.33"/><rect x="433.0" y="148.00" width="1" height="2.00" fill-opacity="0.26"/><rect x="433.0" y="150.00" width="1" height="2.00" fill-opacity="0.19"/><rect x="433.0" y="152.00" width="1" height="2.00" fill-opacity="0.13"/><rect x="433.0" y="154.00" width="1" height="2.00" fill-opacity="0.08"/><rect x="433.0" y="156.00" width="1" height="2.00" fill-opacity="0.04"/><rect x="434.0" y="126.00" width="1" height="2.00" fill-opacity="0.04"/><rect x="434.0" y="128.00" width="1" height="2.00" fill-opacity="0.07"/><rect x="434.0" y="130.00" width="1" height="2.00" fill-opacity="0.11"/><rect x="434.0" y="132.00" width="1" height="2.00" fill-opacity="0.16"/><rect x="434.0" y="134.00" width="1" height="2.00" fill-opacity="0.23"/><rect x="434.0" y="136.00" width="1" height="2.00" fill-opacity="0.29"/><rect x="434.0" y="138.00" width="1" height="2.00" fill-opacity="0.34"/><rect x="434.0" y="140.00" width="1" height="2.00" fill-opacity="0.37"/><rect x="434.0" y="142.00" width="1" height="2.00" fill-opacity="0.37"/><rect x="434.0" y="144.00" width="1" height="2.00" fill-opacity="0.34"/><rect x="434.0" y="146.00" width="1" height="2.00" fill-opacity="0.29"/><rect x="434.0" y="148.00" width="1" height="2.00" fill-opacity="0.23"/><rect x="434.0" y="150.00" width="1" height="2.00" fill-opacity="0.16"/><rect x="434.0" y="152.00" width="1" height="2.00" fill-opacity="0.11"/><rect x="434.0" y="154.00" width="1" height="2.00" fill-opacity="0.07"/><rect x="434.0" y="156.00" width="1" height="2.00" fill-opacity="0.04"/><rect x="435.0" y="128.00" width="1" height="2.00" fill-opacity="0.04"/><rect x="435.0" y="130.00" width="1" height="2.00" fill-opacity="0.06"/><rect x="435.0" y="132.00" width="1" height="2.00" fill-opacity="0.10"/><rect x="435.0" y="134.00" width="1" height="2.00" fill-opacity="0.13"/><rect x="435.0" y="136.00" width="1" height="2.00" fill-opacity="0.17"/><rect x="435.0" y="138.00" width="1" height="2.00" fill-opacity="0.20"/><rect x="435.0" y="140.00" width="1" height="2.00" fill-opacity="0.21"/><rect x="435.0" y="142.00" width="1" height="2.00" fill-opacity="0.21"/><rect x="435.0" y="144.00" width="1" height="2.00" fill-opacity="0.20"/><rect x="435.0" y="146.00" width="1" height="2.00" fill-opacity="0.17"/><rect x="435.0" y="148.00" width="1" height="2.00" fill-opacity="0.13"/><rect x="435.0" y="150.00" width="1" height="2.00" fill-opacity="0.10"/><rect x="435.0" y="152.00" width="1" height="2.00" fill-opacity="0.06"/><rect x="435.0" y="154.00" width="1" height="2.00" fill-opacity="0.04"/><rect x="436.0" y="132.00" width="1" height="2.00" fill-opacity="0.04"/><rect x="436.0" y="134.00" width="1" height="2.00" fill-opacity="0.05"/><rect x="436.0" y="136.00" width="1" height="2.00" fill-opacity="0.07"/><rect x="436.0" y="138.00" width="1" height="2.00" fill-opacity="0.08"/><rect x="436.0" y="140.00" width="1" height="2.00" fill-opacity="0.09"/><rect x="436.0" y="142.00" width="1" height="2.00" fill-opacity="0.09"/><rect x="436.0" y="144.00" width="1" height="2.00" fill-opacity="0.08"/><rect x="436.0" y="146.00" width="1" height="2.00" fill-opacity="0.07"/><rect x="436.0" y="148.00" width="1" height="2.00" fill-opacity="0.05"/><rect x="436.0" y="150.00" width="1" height="2.00" fill-opacity="0.04"/><rect x="437.0" y="132.00" width="1" height="2.00" fill-opacity="0.03"/><rect x="437.0" y="134.00" width="1" height="2.00" fill-opacity="0.04"/><rect x="437.0" y="136.00" width="1" height="2.00" fill-opacity="0.05"/><rect x="437.0" y="138.00" width="1" height="2.00" fill-opacity="0.06"/><rect x="437.0" y="140.00" width="1" height="2.00" fill-opacity="0.07"/><rect x="437.0" y="142.00" width="1" height="2.00" fill-opacity="0.07"/><rect x="437.0" y="144.00" width="1" height="2.00" fill-opacity="0.06"/><rect x="437.0" y="146.00" width="1" height="2.00" fill-opacity="0.05"/><rect x="437.0" y="148.00" width="1" height="2.00" fill-opacity="0.04"/><rect x="437.0" y="150.00" width="1" height="2.00" fill-opacity="0.03"/><rect x="438.0" y="136.00" width="1" height="2.00" fill-opacity="0.03"/><rect x="438.0" y="138.00" width="1" height="2.00" fill-opacity="0.04"/><rect x="438.0" y="140.00" width="1" height="2.00" fill-opacity="0.04"/><rect x="438.0" y="142.00" width="1" height="2.00" fill-opacity="0.04"/><rect x="438.0" y="144.00" width="1" height="2.00" fill-opacity="0.04"/><rect x="438.0" y="146.00" width="1" height="2.00" fill-opacity="0.03"/><rect x="412.0" y="12.50" width="1" height="1.00" fill-opacity="0.60"/><rect x="413.0" y="12.50" width="1" height="1.00" fill-opacity="0.82"/><rect x="413.0" y="180.50" width="1" height="1.00" fill-opacity="0.55"/><rect x="414.0" y="12.50" width="1" height="1.00" fill-opacity="0.51"/><rect x="414.0" y="180.50" width="1" height="1.00" fill-opacity="0.70"/><rect x="415.0" y="12.50" width="1" height="1.00" fill-opacity="0.69"/><rect x="415.0" y="180.50" width="1" height="1.00" fill-opacity="0.69"/><rect x="416.0" y="180.50" width="1" height="1.00" fill-opacity="0.76"/><rect x="417.0" y="12.50" width="1" height="1.00" fill-opacity="0.83"/><rect x="417.0" y="180.50" width="1" height="1.00" fill-opacity="0.53"/><rect x="418.0" y="12.50" width="1" height="1.00" fill-opacity="0.56"/><rect x="418.0" y="180.50" width="1" height="1.00" fill-opacity="0.44"/><rect x="419.0" y="180.50" width="1" height="1.00" fill-opacity="0.40"/><rect x="421.0" y="12.50" width="1" height="1.00" fill-opacity="0.51"/><rect x="422.0" y="12.50" width="1" height="1.00" fill-opacity="0.45"/><rect x="422.0" y="180.50" width="1" height="1.00" fill-opacity="0.60"/><rect x="423.0" y="180.50" width="1" height="1.00" fill-opacity="0.72"/><rect x="424.0" y="12.50" width="1" height="1.00" fill-opacity="0.90"/><rect x="424.0" y="180.50" width="1" height="1.00" fill-opacity="0.31"/><rect x="425.0" y="12.50" width="1" height="1.00" fill-opacity="0.58"/><rect x="426.0" y="12.50" width="1" height="1.00" fill-opacity="0.82"/><rect x="429.0" y="12.50" width="1" height="1.00" fill-opacity="0.56"/><rect x="429.0" y="180.50" width="1" height="1.00" fill-opacity="0.34"/><rect x="431.0" y="12.50" width="1" height="1.00" fill-opacity="0.82"/><rect x="431.0" y="180.50" width="1" height="1.00" fill-opacity="0.42"/><rect x="432.0" y="180.50" width="1" height="1.00" fill-opacity="0.77"/><rect x="433.0" y="180.50" width="1" height="1.00" fill-opacity="0.58"/><rect x="434.0" y="12.50" width="1" height="1.00" fill-opacity="0.86"/><rect x="434.0" y="180.50" width="1" height="1.00" fill-opacity="0.56"/><rect x="436.0" y="12.50" width="1" height="1.00" fill-opacity="0.45"/><rect x="436.0" y="180.50" width="1" height="1.00" fill-opacity="0.30"/><rect x="437.0" y="12.50" width="1" height="1.00" fill-opacity="0.77"/><rect x="438.0" y="12.50" width="1" height="1.00" fill-opacity="0.73"/><rect x="438.0" y="180.50" width="1" height="1.00" fill-opacity="0.49"/><rect x="439.0" y="12.50" width="1" height="1.00" fill-opacity="0.59"/><rect x="439.0" y="180.50" width="1" height="1.00" fill-opacity="0.52"/><rect x="441.0" y="180.50" width="1" height="1.00" fill-opacity="0.76"/><rect x="442.0" y="180.50" width="1" height="1.00" fill-opacity="0.72"/><rect x="443.0" y="12.50" width="1" height="1.00" fill-opacity="0.71"/><rect x="443.0" y="180.50" width="1" height="1.00" fill-opacity="0.67"/><rect x="445.0" y="180.50" width="1" height="1.00" fill-opacity="0.31"/><rect x="446.0" y="12.50" width="1" height="1.00" fill-opacity="0.89"/><rect x="446.0" y="180.50" width="1" height="1.00" fill-opacity="0.42"/><rect x="447.0" y="12.50" width="1" height="1.00" fill-opacity="0.58"/><rect x="447.0" y="180.50" width="1" height="1.00" fill-opacity="0.67"/><rect x="448.0" y="12.50" width="1" height="1.00" fill-opacity="0.63"/><rect x="449.0" y="12.50" width="1" height="1.00" fill-opacity="0.47"/><rect x="449.0" y="180.50" width="1" height="1.00" fill-opacity="0.42"/><rect x="450.0" y="12.50" width="1" height="1.00" fill-opacity="0.69"/><rect x="450.0" y="180.50" width="1" height="1.00" fill-opacity="0.70"/><rect x="451.0" y="12.50" width="1" height="1.00" fill-opacity="0.45"/><rect x="451.0" y="180.50" width="1" height="1.00" fill-opacity="0.54"/></g>
<rect x="326.0" y="12.0" width="211.6" height="170.0" fill="none" stroke="#222" stroke-width="1"/>
<line x1="326.00" y1="182.0" x2="326.00" y2="185.0" stroke="#222" stroke-width="1"/>
<line x1="323.0" y1="182.00" x2="326.0" y2="182.00" stroke="#222" stroke-width="1"/>
<line x1="347.16" y1="182.0" x2="347.16" y2="180.0" stroke="#222" stroke-width="1"/>
<line x1="326.0" y1="165.00" x2="328.0" y2="165.00" stroke="#222" stroke-width="1"/>
<line x1="368.32" y1="182.0" x2="368.32" y2="185.0" stroke="#222" stroke-width="1"/>
<line x1="323.0" y1="148.00" x2="326.0" y2="148.00" stroke="#222" stroke-width="1"/>
<line x1="389.48" y1="182.0" x2="389.48" y2="180.0" stroke="#222" stroke-width="1"/>
<line x1="326.0" y1="131.00" x2="328.0" y2="131.00" stroke="#222" stroke-width="1"/>
<line x1="410.64" y1="182.0" x2="410.64" y2="185.0" stroke="#222" stroke-width="1"/>
<line x1="323.0" y1="114.00" x2="326.0" y2="114.00" stroke="#222" stroke-width="1"/>
<line x1="431.80" y1="182.0" x2="431.80" y2="180.0" stroke="#222" stroke-width="1"/>
<line x1="326.0" y1="97.00" x2="328.0" y2="97.00" stroke="#222" stroke-width="1"/>
<line x1="452.96" y1="182.0" x2="452.96" y2="185.0" stroke="#222" stroke-width="1"/>
<line x1="323.0" y1="80.00" x2="326.0" y2="80.00" stroke="#222" stroke-width="1"/>
<line x1="474.12" y1="182.0" x2="474.12" y2="180.0" stroke="#222" stroke-width="1"/>
<line x1="326.0" y1="63.00" x2="328.0" y2="63.00" stroke="#222" stroke-width="1"/>
<line x1="495.28" y1="182.0" x2="495.28" y2="185.0" stroke="#222" stroke-width="1"/>
<line x1="323.0" y1="46.00" x2="326.0" y2="46.00" stroke="#222" stroke-width="1"/>
<line x1="516.44" y1="182.0" x2="516.44" y2="180.0" stroke="#222" stroke-width="1"/>
<line x1="326.0" y1="29.00" x2="328.0" y2="29.00" stroke="#222" stroke-width="1"/>
<line x1="537.60" y1="182.0" x2="537.60" y2="185.0" stroke="#222" stroke-width="1"/>
<line x1="323.0" y1="12.00" x2="326.0" y2="12.00" stroke="#222" stroke-width="1"/>
<text x="326.00" y="199" text-anchor="middle" class="tk">0.0</text>
<text x="320.5" y="186.80" text-anchor="end" class="tk">0.0</text>
<text x="368.32" y="199" text-anchor="middle" class="tk">0.2</text>
<text x="320.5" y="152.80" text-anchor="end" class="tk">0.2</text>
<text x="410.64" y="199" text-anchor="middle" class="tk">0.4</text>
<text x="320.5" y="118.80" text-anchor="end" class="tk">0.4</text>
<text x="452.96" y="199" text-anchor="middle" class="tk">0.6</text>
<text x="320.5" y="84.80" text-anchor="end" class="tk">0.6</text>
<text x="495.28" y="199" text-anchor="middle" class="tk">0.8</text>
<text x="320.5" y="50.80" text-anchor="end" class="tk">0.8</text>
<text x="537.60" y="199" text-anchor="middle" class="tk">1.0</text>
<text x="320.5" y="16.80" text-anchor="end" class="tk">1.0</text>
<text x="433.7" y="214.5" text-anchor="middle" class="xi">ξ</text>
<text x="417.5" y="243" text-anchor="middle" class="cap">(b)</text>
<text transform="translate(298,97) rotate(-90)" text-anchor="middle" class="yl">ψ(μ, ξ, α, <tspan font-style="italic">x</tspan>)</text>
</svg></body></html>
